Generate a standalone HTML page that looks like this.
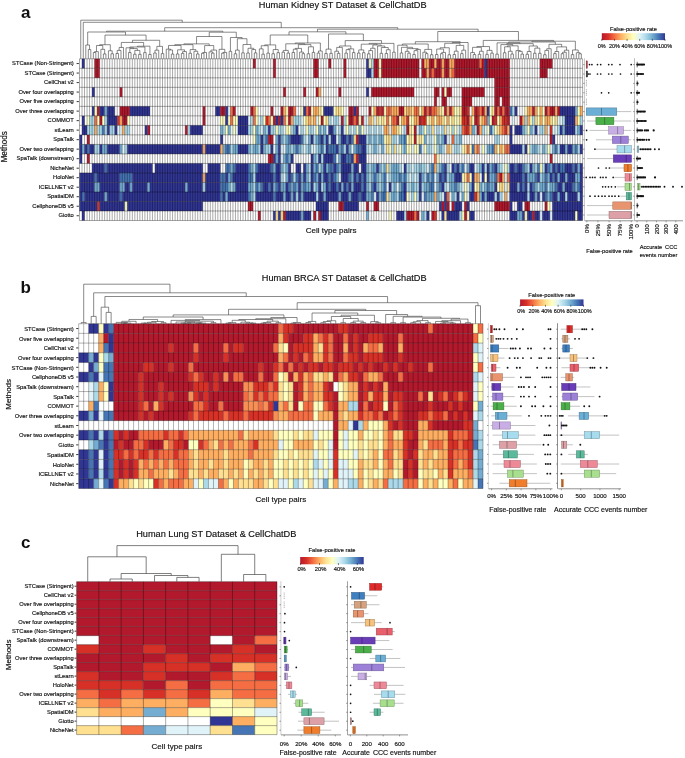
<!DOCTYPE html>
<html><head><meta charset="utf-8"><title>Figure</title>
<style>html,body{margin:0;padding:0;background:#fff;}body{width:685px;height:758px;overflow:hidden;}svg{display:block;}</style>
</head><body>
<svg width="685" height="758" viewBox="0 0 685 758" font-family="'Liberation Sans', Arial, Helvetica, sans-serif" fill="#111">
<rect width="685" height="758" fill="#fff"/>
<text x="21" y="18.2" font-size="17" text-anchor="start" font-weight="bold" >a</text>
<text x="258.8" y="8.2" font-size="9.2" text-anchor="start" font-weight="normal" stroke="#111" stroke-width="0.16" >Human Kidney ST Dataset &amp; CellChatDB</text>
<g>
<rect x="82.02" y="58.8" width="2.54" height="9.53" fill="#313695"/>
<rect x="94.59" y="58.8" width="5.05" height="9.53" fill="#b3192d"/>
<rect x="253.07" y="58.8" width="2.54" height="9.53" fill="#b3192d"/>
<rect x="273.19" y="58.8" width="2.54" height="9.53" fill="#b3192d"/>
<rect x="313.44" y="58.8" width="5.05" height="9.53" fill="#b3192d"/>
<rect x="328.53" y="58.8" width="2.54" height="9.53" fill="#b3192d"/>
<rect x="343.63" y="58.8" width="2.54" height="9.53" fill="#b3192d"/>
<rect x="366.27" y="58.8" width="2.54" height="9.53" fill="#313695"/>
<rect x="368.78" y="58.8" width="2.54" height="9.53" fill="#ffffbf"/>
<rect x="371.3" y="58.8" width="2.54" height="9.53" fill="#abd9e9"/>
<rect x="373.81" y="58.8" width="5.05" height="9.53" fill="#b3192d"/>
<rect x="378.84" y="58.8" width="2.54" height="9.53" fill="#ffffbf"/>
<rect x="381.36" y="58.8" width="37.75" height="9.53" fill="#b3192d"/>
<rect x="421.61" y="58.8" width="2.54" height="9.53" fill="#b3192d"/>
<rect x="424.12" y="58.8" width="5.05" height="9.53" fill="#fdae61"/>
<rect x="429.15" y="58.8" width="5.05" height="9.53" fill="#b3192d"/>
<rect x="434.19" y="58.8" width="2.54" height="9.53" fill="#fdae61"/>
<rect x="436.7" y="58.8" width="5.05" height="9.53" fill="#b3192d"/>
<rect x="441.73" y="58.8" width="2.54" height="9.53" fill="#fdae61"/>
<rect x="444.25" y="58.8" width="5.05" height="9.53" fill="#b3192d"/>
<rect x="449.28" y="58.8" width="5.05" height="9.53" fill="#fdae61"/>
<rect x="454.31" y="58.8" width="25.18" height="9.53" fill="#b3192d"/>
<rect x="479.46" y="58.8" width="2.54" height="9.53" fill="#f46d43"/>
<rect x="481.98" y="58.8" width="2.54" height="9.53" fill="#b3192d"/>
<rect x="484.5" y="58.8" width="2.54" height="9.53" fill="#313695"/>
<rect x="487.01" y="58.8" width="22.66" height="9.53" fill="#b3192d"/>
<rect x="539.84" y="58.8" width="12.6" height="9.53" fill="#b3192d"/>
<rect x="94.59" y="68.31" width="5.05" height="9.53" fill="#b3192d"/>
<rect x="273.19" y="68.31" width="2.54" height="9.53" fill="#b3192d"/>
<rect x="313.44" y="68.31" width="5.05" height="9.53" fill="#b3192d"/>
<rect x="343.63" y="68.31" width="2.54" height="9.53" fill="#b3192d"/>
<rect x="366.27" y="68.31" width="5.05" height="9.53" fill="#313695"/>
<rect x="371.3" y="68.31" width="2.54" height="9.53" fill="#abd9e9"/>
<rect x="373.81" y="68.31" width="5.05" height="9.53" fill="#b3192d"/>
<rect x="378.84" y="68.31" width="2.54" height="9.53" fill="#ffffbf"/>
<rect x="381.36" y="68.31" width="37.75" height="9.53" fill="#b3192d"/>
<rect x="421.61" y="68.31" width="5.05" height="9.53" fill="#b3192d"/>
<rect x="426.64" y="68.31" width="2.54" height="9.53" fill="#fdae61"/>
<rect x="429.15" y="68.31" width="2.54" height="9.53" fill="#b3192d"/>
<rect x="431.67" y="68.31" width="2.54" height="9.53" fill="#f46d43"/>
<rect x="434.19" y="68.31" width="7.57" height="9.53" fill="#b3192d"/>
<rect x="441.73" y="68.31" width="2.54" height="9.53" fill="#fdae61"/>
<rect x="444.25" y="68.31" width="5.05" height="9.53" fill="#b3192d"/>
<rect x="449.28" y="68.31" width="2.54" height="9.53" fill="#fdae61"/>
<rect x="451.79" y="68.31" width="2.54" height="9.53" fill="#f46d43"/>
<rect x="454.31" y="68.31" width="30.21" height="9.53" fill="#b3192d"/>
<rect x="484.5" y="68.31" width="2.54" height="9.53" fill="#313695"/>
<rect x="487.01" y="68.31" width="22.66" height="9.53" fill="#b3192d"/>
<rect x="539.84" y="68.31" width="7.57" height="9.53" fill="#b3192d"/>
<rect x="494.56" y="77.82" width="15.11" height="9.53" fill="#b3192d"/>
<rect x="92.08" y="87.34" width="2.54" height="9.53" fill="#313695"/>
<rect x="119.75" y="87.34" width="2.54" height="9.53" fill="#b3192d"/>
<rect x="283.26" y="87.34" width="2.54" height="9.53" fill="#b3192d"/>
<rect x="303.38" y="87.34" width="2.54" height="9.53" fill="#b3192d"/>
<rect x="315.96" y="87.34" width="2.54" height="9.53" fill="#b3192d"/>
<rect x="318.47" y="87.34" width="2.54" height="9.53" fill="#fdae61"/>
<rect x="338.6" y="87.34" width="2.54" height="9.53" fill="#b3192d"/>
<rect x="366.27" y="87.34" width="2.54" height="9.53" fill="#313695"/>
<rect x="371.3" y="87.34" width="42.78" height="9.53" fill="#b3192d"/>
<rect x="434.19" y="87.34" width="5.05" height="9.53" fill="#b3192d"/>
<rect x="441.73" y="87.34" width="2.54" height="9.53" fill="#b3192d"/>
<rect x="444.25" y="87.34" width="2.54" height="9.53" fill="#ffffbf"/>
<rect x="446.76" y="87.34" width="5.05" height="9.53" fill="#b3192d"/>
<rect x="461.86" y="87.34" width="22.66" height="9.53" fill="#b3192d"/>
<rect x="494.56" y="87.34" width="15.11" height="9.53" fill="#b3192d"/>
<rect x="434.19" y="96.85" width="2.54" height="9.53" fill="#b3192d"/>
<rect x="441.73" y="96.85" width="5.05" height="9.53" fill="#b3192d"/>
<rect x="461.86" y="96.85" width="10.08" height="9.53" fill="#b3192d"/>
<rect x="494.56" y="96.85" width="5.05" height="9.53" fill="#b3192d"/>
<rect x="502.1" y="96.85" width="7.57" height="9.53" fill="#b3192d"/>
<rect x="92.08" y="106.36" width="2.54" height="9.53" fill="#313695"/>
<rect x="94.59" y="106.36" width="2.54" height="9.53" fill="#ffffbf"/>
<rect x="97.11" y="106.36" width="2.54" height="9.53" fill="#b3192d"/>
<rect x="99.62" y="106.36" width="5.05" height="9.53" fill="#313695"/>
<rect x="104.66" y="106.36" width="2.54" height="9.53" fill="#74add1"/>
<rect x="107.17" y="106.36" width="7.57" height="9.53" fill="#313695"/>
<rect x="119.75" y="106.36" width="10.08" height="9.53" fill="#b3192d"/>
<rect x="129.81" y="106.36" width="20.14" height="9.53" fill="#313695"/>
<rect x="202.76" y="106.36" width="2.54" height="9.53" fill="#b3192d"/>
<rect x="215.34" y="106.36" width="5.05" height="9.53" fill="#313695"/>
<rect x="220.37" y="106.36" width="5.05" height="9.53" fill="#b3192d"/>
<rect x="225.4" y="106.36" width="2.54" height="9.53" fill="#313695"/>
<rect x="227.91" y="106.36" width="2.54" height="9.53" fill="#e0f3f8"/>
<rect x="230.43" y="106.36" width="2.54" height="9.53" fill="#f46d43"/>
<rect x="232.95" y="106.36" width="2.54" height="9.53" fill="#b3192d"/>
<rect x="250.55" y="106.36" width="2.54" height="9.53" fill="#b3192d"/>
<rect x="253.07" y="106.36" width="2.54" height="9.53" fill="#f46d43"/>
<rect x="255.59" y="106.36" width="2.54" height="9.53" fill="#ffffbf"/>
<rect x="270.68" y="106.36" width="2.54" height="9.53" fill="#b3192d"/>
<rect x="280.74" y="106.36" width="2.54" height="9.53" fill="#b3192d"/>
<rect x="283.26" y="106.36" width="2.54" height="9.53" fill="#fdae61"/>
<rect x="285.77" y="106.36" width="2.54" height="9.53" fill="#ffffbf"/>
<rect x="288.29" y="106.36" width="5.05" height="9.53" fill="#b3192d"/>
<rect x="293.32" y="106.36" width="2.54" height="9.53" fill="#f46d43"/>
<rect x="300.86" y="106.36" width="2.54" height="9.53" fill="#ffffbf"/>
<rect x="303.38" y="106.36" width="2.54" height="9.53" fill="#313695"/>
<rect x="305.9" y="106.36" width="2.54" height="9.53" fill="#f46d43"/>
<rect x="308.41" y="106.36" width="2.54" height="9.53" fill="#b3192d"/>
<rect x="310.93" y="106.36" width="2.54" height="9.53" fill="#ffffbf"/>
<rect x="313.44" y="106.36" width="5.05" height="9.53" fill="#fdae61"/>
<rect x="318.47" y="106.36" width="2.54" height="9.53" fill="#fee090"/>
<rect x="320.99" y="106.36" width="2.54" height="9.53" fill="#ffffbf"/>
<rect x="323.5" y="106.36" width="10.08" height="9.53" fill="#313695"/>
<rect x="333.57" y="106.36" width="2.54" height="9.53" fill="#ffffbf"/>
<rect x="336.08" y="106.36" width="5.05" height="9.53" fill="#fee090"/>
<rect x="341.11" y="106.36" width="2.54" height="9.53" fill="#ffffbf"/>
<rect x="348.66" y="106.36" width="5.05" height="9.53" fill="#b3192d"/>
<rect x="353.69" y="106.36" width="2.54" height="9.53" fill="#313695"/>
<rect x="356.21" y="106.36" width="2.54" height="9.53" fill="#b3192d"/>
<rect x="368.78" y="106.36" width="2.54" height="9.53" fill="#b3192d"/>
<rect x="371.3" y="106.36" width="2.54" height="9.53" fill="#ffffbf"/>
<rect x="373.81" y="106.36" width="2.54" height="9.53" fill="#fdae61"/>
<rect x="376.33" y="106.36" width="2.54" height="9.53" fill="#b3192d"/>
<rect x="378.84" y="106.36" width="2.54" height="9.53" fill="#d73027"/>
<rect x="381.36" y="106.36" width="2.54" height="9.53" fill="#b3192d"/>
<rect x="383.88" y="106.36" width="2.54" height="9.53" fill="#ffffbf"/>
<rect x="386.39" y="106.36" width="5.05" height="9.53" fill="#f46d43"/>
<rect x="391.42" y="106.36" width="7.57" height="9.53" fill="#fdae61"/>
<rect x="398.97" y="106.36" width="5.05" height="9.53" fill="#b3192d"/>
<rect x="404" y="106.36" width="2.54" height="9.53" fill="#fee090"/>
<rect x="406.52" y="106.36" width="5.05" height="9.53" fill="#fdae61"/>
<rect x="411.55" y="106.36" width="2.54" height="9.53" fill="#fee090"/>
<rect x="414.06" y="106.36" width="5.05" height="9.53" fill="#f46d43"/>
<rect x="419.09" y="106.36" width="2.54" height="9.53" fill="#ffffbf"/>
<rect x="421.61" y="106.36" width="2.54" height="9.53" fill="#fdae61"/>
<rect x="424.12" y="106.36" width="2.54" height="9.53" fill="#b3192d"/>
<rect x="426.64" y="106.36" width="2.54" height="9.53" fill="#f46d43"/>
<rect x="429.15" y="106.36" width="2.54" height="9.53" fill="#b3192d"/>
<rect x="431.67" y="106.36" width="5.05" height="9.53" fill="#f46d43"/>
<rect x="436.7" y="106.36" width="2.54" height="9.53" fill="#fdae61"/>
<rect x="439.22" y="106.36" width="2.54" height="9.53" fill="#fee090"/>
<rect x="441.73" y="106.36" width="2.54" height="9.53" fill="#ffffbf"/>
<rect x="444.25" y="106.36" width="2.54" height="9.53" fill="#b3192d"/>
<rect x="446.76" y="106.36" width="2.54" height="9.53" fill="#fdae61"/>
<rect x="449.28" y="106.36" width="2.54" height="9.53" fill="#b3192d"/>
<rect x="451.79" y="106.36" width="2.54" height="9.53" fill="#fdae61"/>
<rect x="454.31" y="106.36" width="5.05" height="9.53" fill="#ffffbf"/>
<rect x="459.34" y="106.36" width="2.54" height="9.53" fill="#fee090"/>
<rect x="461.86" y="106.36" width="5.05" height="9.53" fill="#b3192d"/>
<rect x="466.89" y="106.36" width="2.54" height="9.53" fill="#d73027"/>
<rect x="471.92" y="106.36" width="2.54" height="9.53" fill="#fdae61"/>
<rect x="474.43" y="106.36" width="2.54" height="9.53" fill="#b3192d"/>
<rect x="476.95" y="106.36" width="2.54" height="9.53" fill="#d73027"/>
<rect x="479.46" y="106.36" width="2.54" height="9.53" fill="#f46d43"/>
<rect x="481.98" y="106.36" width="2.54" height="9.53" fill="#b3192d"/>
<rect x="484.5" y="106.36" width="2.54" height="9.53" fill="#fdae61"/>
<rect x="487.01" y="106.36" width="2.54" height="9.53" fill="#313695"/>
<rect x="489.53" y="106.36" width="2.54" height="9.53" fill="#ffffbf"/>
<rect x="492.04" y="106.36" width="2.54" height="9.53" fill="#fee090"/>
<rect x="494.56" y="106.36" width="2.54" height="9.53" fill="#b3192d"/>
<rect x="497.07" y="106.36" width="2.54" height="9.53" fill="#f46d43"/>
<rect x="499.59" y="106.36" width="2.54" height="9.53" fill="#b3192d"/>
<rect x="502.1" y="106.36" width="2.54" height="9.53" fill="#f46d43"/>
<rect x="504.62" y="106.36" width="5.05" height="9.53" fill="#b3192d"/>
<rect x="509.65" y="106.36" width="2.54" height="9.53" fill="#4575b4"/>
<rect x="512.17" y="106.36" width="2.54" height="9.53" fill="#abd9e9"/>
<rect x="514.68" y="106.36" width="2.54" height="9.53" fill="#313695"/>
<rect x="524.74" y="106.36" width="2.54" height="9.53" fill="#ffffbf"/>
<rect x="527.26" y="106.36" width="5.05" height="9.53" fill="#fdae61"/>
<rect x="532.29" y="106.36" width="2.54" height="9.53" fill="#b3192d"/>
<rect x="534.81" y="106.36" width="2.54" height="9.53" fill="#fdae61"/>
<rect x="537.32" y="106.36" width="2.54" height="9.53" fill="#ffffbf"/>
<rect x="539.84" y="106.36" width="2.54" height="9.53" fill="#fdae61"/>
<rect x="542.35" y="106.36" width="2.54" height="9.53" fill="#ffffbf"/>
<rect x="544.87" y="106.36" width="2.54" height="9.53" fill="#b3192d"/>
<rect x="547.38" y="106.36" width="2.54" height="9.53" fill="#f46d43"/>
<rect x="549.9" y="106.36" width="5.05" height="9.53" fill="#b3192d"/>
<rect x="554.93" y="106.36" width="2.54" height="9.53" fill="#fdae61"/>
<rect x="557.45" y="106.36" width="2.54" height="9.53" fill="#b3192d"/>
<rect x="559.96" y="106.36" width="15.11" height="9.53" fill="#313695"/>
<rect x="575.05" y="106.36" width="2.54" height="9.53" fill="#74add1"/>
<rect x="577.57" y="106.36" width="2.54" height="9.53" fill="#ffffbf"/>
<rect x="580.08" y="106.36" width="2.54" height="9.53" fill="#fdae61"/>
<rect x="82.02" y="115.87" width="2.54" height="9.53" fill="#313695"/>
<rect x="87.05" y="115.87" width="2.54" height="9.53" fill="#ffffbf"/>
<rect x="89.56" y="115.87" width="5.05" height="9.53" fill="#abd9e9"/>
<rect x="94.59" y="115.87" width="2.54" height="9.53" fill="#f46d43"/>
<rect x="97.11" y="115.87" width="2.54" height="9.53" fill="#ffffbf"/>
<rect x="99.62" y="115.87" width="2.54" height="9.53" fill="#b3192d"/>
<rect x="102.14" y="115.87" width="2.54" height="9.53" fill="#ffffbf"/>
<rect x="104.66" y="115.87" width="2.54" height="9.53" fill="#abd9e9"/>
<rect x="107.17" y="115.87" width="10.08" height="9.53" fill="#313695"/>
<rect x="117.23" y="115.87" width="2.54" height="9.53" fill="#d73027"/>
<rect x="119.75" y="115.87" width="2.54" height="9.53" fill="#fdae61"/>
<rect x="122.26" y="115.87" width="5.05" height="9.53" fill="#b3192d"/>
<rect x="127.29" y="115.87" width="2.54" height="9.53" fill="#ffffbf"/>
<rect x="202.76" y="115.87" width="2.54" height="9.53" fill="#b3192d"/>
<rect x="220.37" y="115.87" width="5.05" height="9.53" fill="#ffffbf"/>
<rect x="225.4" y="115.87" width="2.54" height="9.53" fill="#313695"/>
<rect x="227.91" y="115.87" width="2.54" height="9.53" fill="#ffffbf"/>
<rect x="230.43" y="115.87" width="2.54" height="9.53" fill="#f46d43"/>
<rect x="232.95" y="115.87" width="5.05" height="9.53" fill="#ffffbf"/>
<rect x="237.98" y="115.87" width="10.08" height="9.53" fill="#313695"/>
<rect x="248.04" y="115.87" width="2.54" height="9.53" fill="#e0f3f8"/>
<rect x="250.55" y="115.87" width="2.54" height="9.53" fill="#abd9e9"/>
<rect x="253.07" y="115.87" width="2.54" height="9.53" fill="#f46d43"/>
<rect x="255.59" y="115.87" width="2.54" height="9.53" fill="#ffffbf"/>
<rect x="258.1" y="115.87" width="2.54" height="9.53" fill="#e0f3f8"/>
<rect x="260.62" y="115.87" width="2.54" height="9.53" fill="#abd9e9"/>
<rect x="263.13" y="115.87" width="2.54" height="9.53" fill="#ffffbf"/>
<rect x="265.65" y="115.87" width="2.54" height="9.53" fill="#d73027"/>
<rect x="268.16" y="115.87" width="2.54" height="9.53" fill="#f46d43"/>
<rect x="270.68" y="115.87" width="2.54" height="9.53" fill="#ffffbf"/>
<rect x="273.19" y="115.87" width="2.54" height="9.53" fill="#b3192d"/>
<rect x="275.71" y="115.87" width="2.54" height="9.53" fill="#313695"/>
<rect x="278.22" y="115.87" width="2.54" height="9.53" fill="#b3192d"/>
<rect x="280.74" y="115.87" width="2.54" height="9.53" fill="#313695"/>
<rect x="283.26" y="115.87" width="2.54" height="9.53" fill="#f46d43"/>
<rect x="285.77" y="115.87" width="2.54" height="9.53" fill="#ffffbf"/>
<rect x="288.29" y="115.87" width="2.54" height="9.53" fill="#b3192d"/>
<rect x="290.8" y="115.87" width="2.54" height="9.53" fill="#fdae61"/>
<rect x="293.32" y="115.87" width="7.57" height="9.53" fill="#abd9e9"/>
<rect x="300.86" y="115.87" width="2.54" height="9.53" fill="#e0f3f8"/>
<rect x="303.38" y="115.87" width="2.54" height="9.53" fill="#ffffbf"/>
<rect x="305.9" y="115.87" width="2.54" height="9.53" fill="#fee090"/>
<rect x="308.41" y="115.87" width="2.54" height="9.53" fill="#fdae61"/>
<rect x="310.93" y="115.87" width="2.54" height="9.53" fill="#fee090"/>
<rect x="313.44" y="115.87" width="2.54" height="9.53" fill="#fdae61"/>
<rect x="315.96" y="115.87" width="2.54" height="9.53" fill="#e0f3f8"/>
<rect x="318.47" y="115.87" width="2.54" height="9.53" fill="#ffffbf"/>
<rect x="320.99" y="115.87" width="2.54" height="9.53" fill="#b3192d"/>
<rect x="323.5" y="115.87" width="2.54" height="9.53" fill="#ffffbf"/>
<rect x="326.02" y="115.87" width="2.54" height="9.53" fill="#fee090"/>
<rect x="328.53" y="115.87" width="2.54" height="9.53" fill="#abd9e9"/>
<rect x="331.05" y="115.87" width="2.54" height="9.53" fill="#e0f3f8"/>
<rect x="333.57" y="115.87" width="5.05" height="9.53" fill="#abd9e9"/>
<rect x="338.6" y="115.87" width="2.54" height="9.53" fill="#e0f3f8"/>
<rect x="341.11" y="115.87" width="2.54" height="9.53" fill="#b3192d"/>
<rect x="343.63" y="115.87" width="2.54" height="9.53" fill="#abd9e9"/>
<rect x="346.14" y="115.87" width="2.54" height="9.53" fill="#ffffbf"/>
<rect x="348.66" y="115.87" width="5.05" height="9.53" fill="#b3192d"/>
<rect x="353.69" y="115.87" width="2.54" height="9.53" fill="#f46d43"/>
<rect x="356.21" y="115.87" width="2.54" height="9.53" fill="#b3192d"/>
<rect x="358.72" y="115.87" width="2.54" height="9.53" fill="#ffffbf"/>
<rect x="361.24" y="115.87" width="2.54" height="9.53" fill="#b3192d"/>
<rect x="363.75" y="115.87" width="5.05" height="9.53" fill="#e0f3f8"/>
<rect x="368.78" y="115.87" width="2.54" height="9.53" fill="#fdae61"/>
<rect x="371.3" y="115.87" width="2.54" height="9.53" fill="#fee090"/>
<rect x="373.81" y="115.87" width="2.54" height="9.53" fill="#e0f3f8"/>
<rect x="376.33" y="115.87" width="2.54" height="9.53" fill="#fee090"/>
<rect x="378.84" y="115.87" width="2.54" height="9.53" fill="#ffffbf"/>
<rect x="381.36" y="115.87" width="2.54" height="9.53" fill="#fee090"/>
<rect x="383.88" y="115.87" width="2.54" height="9.53" fill="#ffffbf"/>
<rect x="386.39" y="115.87" width="2.54" height="9.53" fill="#f46d43"/>
<rect x="388.91" y="115.87" width="2.54" height="9.53" fill="#ffffbf"/>
<rect x="391.42" y="115.87" width="5.05" height="9.53" fill="#f46d43"/>
<rect x="396.45" y="115.87" width="2.54" height="9.53" fill="#b3192d"/>
<rect x="398.97" y="115.87" width="2.54" height="9.53" fill="#ffffbf"/>
<rect x="401.48" y="115.87" width="5.05" height="9.53" fill="#fdae61"/>
<rect x="406.52" y="115.87" width="2.54" height="9.53" fill="#d73027"/>
<rect x="409.03" y="115.87" width="5.05" height="9.53" fill="#ffffbf"/>
<rect x="414.06" y="115.87" width="5.05" height="9.53" fill="#fdae61"/>
<rect x="419.09" y="115.87" width="2.54" height="9.53" fill="#b3192d"/>
<rect x="421.61" y="115.87" width="5.05" height="9.53" fill="#d73027"/>
<rect x="426.64" y="115.87" width="2.54" height="9.53" fill="#ffffbf"/>
<rect x="429.15" y="115.87" width="2.54" height="9.53" fill="#fee090"/>
<rect x="431.67" y="115.87" width="2.54" height="9.53" fill="#fdae61"/>
<rect x="434.19" y="115.87" width="2.54" height="9.53" fill="#ffffbf"/>
<rect x="436.7" y="115.87" width="5.05" height="9.53" fill="#fdae61"/>
<rect x="441.73" y="115.87" width="2.54" height="9.53" fill="#fee090"/>
<rect x="444.25" y="115.87" width="2.54" height="9.53" fill="#ffffbf"/>
<rect x="446.76" y="115.87" width="2.54" height="9.53" fill="#fdae61"/>
<rect x="449.28" y="115.87" width="2.54" height="9.53" fill="#ffffbf"/>
<rect x="451.79" y="115.87" width="2.54" height="9.53" fill="#fee090"/>
<rect x="454.31" y="115.87" width="5.05" height="9.53" fill="#ffffbf"/>
<rect x="459.34" y="115.87" width="2.54" height="9.53" fill="#fee090"/>
<rect x="461.86" y="115.87" width="5.05" height="9.53" fill="#d73027"/>
<rect x="466.89" y="115.87" width="2.54" height="9.53" fill="#b3192d"/>
<rect x="469.4" y="115.87" width="2.54" height="9.53" fill="#fdae61"/>
<rect x="471.92" y="115.87" width="2.54" height="9.53" fill="#ffffbf"/>
<rect x="474.43" y="115.87" width="2.54" height="9.53" fill="#b3192d"/>
<rect x="476.95" y="115.87" width="2.54" height="9.53" fill="#d73027"/>
<rect x="479.46" y="115.87" width="2.54" height="9.53" fill="#fee090"/>
<rect x="481.98" y="115.87" width="2.54" height="9.53" fill="#fdae61"/>
<rect x="484.5" y="115.87" width="2.54" height="9.53" fill="#f46d43"/>
<rect x="487.01" y="115.87" width="2.54" height="9.53" fill="#74add1"/>
<rect x="489.53" y="115.87" width="2.54" height="9.53" fill="#ffffbf"/>
<rect x="492.04" y="115.87" width="2.54" height="9.53" fill="#b3192d"/>
<rect x="494.56" y="115.87" width="2.54" height="9.53" fill="#d73027"/>
<rect x="497.07" y="115.87" width="2.54" height="9.53" fill="#ffffbf"/>
<rect x="499.59" y="115.87" width="2.54" height="9.53" fill="#fdae61"/>
<rect x="502.1" y="115.87" width="5.05" height="9.53" fill="#d73027"/>
<rect x="507.14" y="115.87" width="2.54" height="9.53" fill="#b3192d"/>
<rect x="512.17" y="115.87" width="2.54" height="9.53" fill="#e0f3f8"/>
<rect x="519.71" y="115.87" width="2.54" height="9.53" fill="#b3192d"/>
<rect x="522.23" y="115.87" width="2.54" height="9.53" fill="#fdae61"/>
<rect x="524.74" y="115.87" width="2.54" height="9.53" fill="#abd9e9"/>
<rect x="527.26" y="115.87" width="2.54" height="9.53" fill="#fdae61"/>
<rect x="529.77" y="115.87" width="2.54" height="9.53" fill="#ffffbf"/>
<rect x="532.29" y="115.87" width="2.54" height="9.53" fill="#abd9e9"/>
<rect x="534.81" y="115.87" width="2.54" height="9.53" fill="#fee090"/>
<rect x="537.32" y="115.87" width="2.54" height="9.53" fill="#ffffbf"/>
<rect x="539.84" y="115.87" width="2.54" height="9.53" fill="#fdae61"/>
<rect x="542.35" y="115.87" width="2.54" height="9.53" fill="#ffffbf"/>
<rect x="544.87" y="115.87" width="5.05" height="9.53" fill="#fdae61"/>
<rect x="549.9" y="115.87" width="2.54" height="9.53" fill="#fee090"/>
<rect x="552.41" y="115.87" width="2.54" height="9.53" fill="#ffffbf"/>
<rect x="554.93" y="115.87" width="2.54" height="9.53" fill="#fee090"/>
<rect x="557.45" y="115.87" width="5.05" height="9.53" fill="#e0f3f8"/>
<rect x="562.48" y="115.87" width="2.54" height="9.53" fill="#abd9e9"/>
<rect x="564.99" y="115.87" width="10.08" height="9.53" fill="#313695"/>
<rect x="575.05" y="115.87" width="2.54" height="9.53" fill="#fdae61"/>
<rect x="577.57" y="115.87" width="2.54" height="9.53" fill="#ffffbf"/>
<rect x="580.08" y="115.87" width="2.54" height="9.53" fill="#abd9e9"/>
<rect x="82.02" y="125.38" width="5.05" height="9.53" fill="#313695"/>
<rect x="87.05" y="125.38" width="7.57" height="9.53" fill="#abd9e9"/>
<rect x="94.59" y="125.38" width="2.54" height="9.53" fill="#fdae61"/>
<rect x="97.11" y="125.38" width="5.05" height="9.53" fill="#abd9e9"/>
<rect x="102.14" y="125.38" width="2.54" height="9.53" fill="#4575b4"/>
<rect x="104.66" y="125.38" width="2.54" height="9.53" fill="#abd9e9"/>
<rect x="107.17" y="125.38" width="2.54" height="9.53" fill="#313695"/>
<rect x="109.69" y="125.38" width="5.05" height="9.53" fill="#abd9e9"/>
<rect x="114.72" y="125.38" width="2.54" height="9.53" fill="#313695"/>
<rect x="117.23" y="125.38" width="5.05" height="9.53" fill="#e0f3f8"/>
<rect x="122.26" y="125.38" width="2.54" height="9.53" fill="#fdae61"/>
<rect x="124.78" y="125.38" width="5.05" height="9.53" fill="#abd9e9"/>
<rect x="144.9" y="125.38" width="2.54" height="9.53" fill="#313695"/>
<rect x="147.42" y="125.38" width="2.54" height="9.53" fill="#b3192d"/>
<rect x="185.15" y="125.38" width="2.54" height="9.53" fill="#b3192d"/>
<rect x="187.67" y="125.38" width="2.54" height="9.53" fill="#abd9e9"/>
<rect x="190.18" y="125.38" width="12.6" height="9.53" fill="#313695"/>
<rect x="220.37" y="125.38" width="2.54" height="9.53" fill="#74add1"/>
<rect x="222.88" y="125.38" width="2.54" height="9.53" fill="#abd9e9"/>
<rect x="225.4" y="125.38" width="2.54" height="9.53" fill="#ffffbf"/>
<rect x="227.91" y="125.38" width="2.54" height="9.53" fill="#74add1"/>
<rect x="230.43" y="125.38" width="2.54" height="9.53" fill="#e0f3f8"/>
<rect x="232.95" y="125.38" width="2.54" height="9.53" fill="#ffffbf"/>
<rect x="235.46" y="125.38" width="2.54" height="9.53" fill="#e0f3f8"/>
<rect x="237.98" y="125.38" width="10.08" height="9.53" fill="#313695"/>
<rect x="248.04" y="125.38" width="5.05" height="9.53" fill="#abd9e9"/>
<rect x="253.07" y="125.38" width="2.54" height="9.53" fill="#ffffbf"/>
<rect x="255.59" y="125.38" width="2.54" height="9.53" fill="#74add1"/>
<rect x="258.1" y="125.38" width="2.54" height="9.53" fill="#abd9e9"/>
<rect x="260.62" y="125.38" width="2.54" height="9.53" fill="#e0f3f8"/>
<rect x="263.13" y="125.38" width="2.54" height="9.53" fill="#74add1"/>
<rect x="265.65" y="125.38" width="2.54" height="9.53" fill="#abd9e9"/>
<rect x="268.16" y="125.38" width="2.54" height="9.53" fill="#313695"/>
<rect x="270.68" y="125.38" width="5.05" height="9.53" fill="#abd9e9"/>
<rect x="275.71" y="125.38" width="2.54" height="9.53" fill="#ffffbf"/>
<rect x="278.22" y="125.38" width="5.05" height="9.53" fill="#abd9e9"/>
<rect x="283.26" y="125.38" width="2.54" height="9.53" fill="#e0f3f8"/>
<rect x="285.77" y="125.38" width="5.05" height="9.53" fill="#ffffbf"/>
<rect x="290.8" y="125.38" width="2.54" height="9.53" fill="#abd9e9"/>
<rect x="293.32" y="125.38" width="2.54" height="9.53" fill="#74add1"/>
<rect x="295.83" y="125.38" width="2.54" height="9.53" fill="#313695"/>
<rect x="298.35" y="125.38" width="2.54" height="9.53" fill="#e0f3f8"/>
<rect x="300.86" y="125.38" width="2.54" height="9.53" fill="#abd9e9"/>
<rect x="303.38" y="125.38" width="2.54" height="9.53" fill="#e0f3f8"/>
<rect x="305.9" y="125.38" width="2.54" height="9.53" fill="#ffffbf"/>
<rect x="308.41" y="125.38" width="5.05" height="9.53" fill="#abd9e9"/>
<rect x="313.44" y="125.38" width="2.54" height="9.53" fill="#e0f3f8"/>
<rect x="315.96" y="125.38" width="2.54" height="9.53" fill="#ffffbf"/>
<rect x="318.47" y="125.38" width="2.54" height="9.53" fill="#74add1"/>
<rect x="320.99" y="125.38" width="2.54" height="9.53" fill="#abd9e9"/>
<rect x="323.5" y="125.38" width="2.54" height="9.53" fill="#74add1"/>
<rect x="326.02" y="125.38" width="2.54" height="9.53" fill="#e0f3f8"/>
<rect x="328.53" y="125.38" width="5.05" height="9.53" fill="#313695"/>
<rect x="333.57" y="125.38" width="2.54" height="9.53" fill="#74add1"/>
<rect x="336.08" y="125.38" width="2.54" height="9.53" fill="#e0f3f8"/>
<rect x="338.6" y="125.38" width="2.54" height="9.53" fill="#abd9e9"/>
<rect x="341.11" y="125.38" width="2.54" height="9.53" fill="#313695"/>
<rect x="343.63" y="125.38" width="2.54" height="9.53" fill="#e0f3f8"/>
<rect x="346.14" y="125.38" width="2.54" height="9.53" fill="#ffffbf"/>
<rect x="348.66" y="125.38" width="2.54" height="9.53" fill="#abd9e9"/>
<rect x="351.17" y="125.38" width="2.54" height="9.53" fill="#e0f3f8"/>
<rect x="353.69" y="125.38" width="2.54" height="9.53" fill="#abd9e9"/>
<rect x="356.21" y="125.38" width="2.54" height="9.53" fill="#ffffbf"/>
<rect x="358.72" y="125.38" width="2.54" height="9.53" fill="#74add1"/>
<rect x="361.24" y="125.38" width="2.54" height="9.53" fill="#ffffbf"/>
<rect x="363.75" y="125.38" width="5.05" height="9.53" fill="#e0f3f8"/>
<rect x="368.78" y="125.38" width="2.54" height="9.53" fill="#abd9e9"/>
<rect x="371.3" y="125.38" width="2.54" height="9.53" fill="#e0f3f8"/>
<rect x="373.81" y="125.38" width="2.54" height="9.53" fill="#abd9e9"/>
<rect x="376.33" y="125.38" width="2.54" height="9.53" fill="#e0f3f8"/>
<rect x="378.84" y="125.38" width="2.54" height="9.53" fill="#abd9e9"/>
<rect x="381.36" y="125.38" width="2.54" height="9.53" fill="#e0f3f8"/>
<rect x="383.88" y="125.38" width="5.05" height="9.53" fill="#fdae61"/>
<rect x="388.91" y="125.38" width="2.54" height="9.53" fill="#e0f3f8"/>
<rect x="391.42" y="125.38" width="5.05" height="9.53" fill="#fdae61"/>
<rect x="396.45" y="125.38" width="2.54" height="9.53" fill="#fee090"/>
<rect x="398.97" y="125.38" width="2.54" height="9.53" fill="#ffffbf"/>
<rect x="401.48" y="125.38" width="2.54" height="9.53" fill="#e0f3f8"/>
<rect x="404" y="125.38" width="2.54" height="9.53" fill="#abd9e9"/>
<rect x="406.52" y="125.38" width="2.54" height="9.53" fill="#b3192d"/>
<rect x="409.03" y="125.38" width="2.54" height="9.53" fill="#fee090"/>
<rect x="411.55" y="125.38" width="2.54" height="9.53" fill="#ffffbf"/>
<rect x="414.06" y="125.38" width="2.54" height="9.53" fill="#b3192d"/>
<rect x="416.58" y="125.38" width="2.54" height="9.53" fill="#e0f3f8"/>
<rect x="419.09" y="125.38" width="2.54" height="9.53" fill="#74add1"/>
<rect x="421.61" y="125.38" width="2.54" height="9.53" fill="#abd9e9"/>
<rect x="424.12" y="125.38" width="2.54" height="9.53" fill="#ffffbf"/>
<rect x="426.64" y="125.38" width="5.05" height="9.53" fill="#abd9e9"/>
<rect x="431.67" y="125.38" width="2.54" height="9.53" fill="#fee090"/>
<rect x="434.19" y="125.38" width="2.54" height="9.53" fill="#e0f3f8"/>
<rect x="436.7" y="125.38" width="2.54" height="9.53" fill="#abd9e9"/>
<rect x="439.22" y="125.38" width="2.54" height="9.53" fill="#e0f3f8"/>
<rect x="441.73" y="125.38" width="2.54" height="9.53" fill="#abd9e9"/>
<rect x="444.25" y="125.38" width="2.54" height="9.53" fill="#fee090"/>
<rect x="446.76" y="125.38" width="2.54" height="9.53" fill="#e0f3f8"/>
<rect x="449.28" y="125.38" width="2.54" height="9.53" fill="#ffffbf"/>
<rect x="451.79" y="125.38" width="2.54" height="9.53" fill="#abd9e9"/>
<rect x="454.31" y="125.38" width="2.54" height="9.53" fill="#ffffbf"/>
<rect x="456.83" y="125.38" width="2.54" height="9.53" fill="#e0f3f8"/>
<rect x="459.34" y="125.38" width="2.54" height="9.53" fill="#abd9e9"/>
<rect x="461.86" y="125.38" width="2.54" height="9.53" fill="#f46d43"/>
<rect x="464.37" y="125.38" width="5.05" height="9.53" fill="#d73027"/>
<rect x="469.4" y="125.38" width="2.54" height="9.53" fill="#fdae61"/>
<rect x="471.92" y="125.38" width="2.54" height="9.53" fill="#74add1"/>
<rect x="474.43" y="125.38" width="2.54" height="9.53" fill="#abd9e9"/>
<rect x="476.95" y="125.38" width="2.54" height="9.53" fill="#b3192d"/>
<rect x="479.46" y="125.38" width="2.54" height="9.53" fill="#fdae61"/>
<rect x="481.98" y="125.38" width="2.54" height="9.53" fill="#abd9e9"/>
<rect x="484.5" y="125.38" width="2.54" height="9.53" fill="#e0f3f8"/>
<rect x="487.01" y="125.38" width="2.54" height="9.53" fill="#ffffbf"/>
<rect x="489.53" y="125.38" width="2.54" height="9.53" fill="#4575b4"/>
<rect x="492.04" y="125.38" width="2.54" height="9.53" fill="#abd9e9"/>
<rect x="494.56" y="125.38" width="2.54" height="9.53" fill="#ffffbf"/>
<rect x="497.07" y="125.38" width="2.54" height="9.53" fill="#fee090"/>
<rect x="499.59" y="125.38" width="2.54" height="9.53" fill="#fdae61"/>
<rect x="502.1" y="125.38" width="2.54" height="9.53" fill="#f46d43"/>
<rect x="504.62" y="125.38" width="2.54" height="9.53" fill="#d73027"/>
<rect x="507.14" y="125.38" width="2.54" height="9.53" fill="#fdae61"/>
<rect x="509.65" y="125.38" width="2.54" height="9.53" fill="#313695"/>
<rect x="514.68" y="125.38" width="7.57" height="9.53" fill="#313695"/>
<rect x="522.23" y="125.38" width="2.54" height="9.53" fill="#74add1"/>
<rect x="524.74" y="125.38" width="2.54" height="9.53" fill="#abd9e9"/>
<rect x="527.26" y="125.38" width="2.54" height="9.53" fill="#ffffbf"/>
<rect x="529.77" y="125.38" width="2.54" height="9.53" fill="#74add1"/>
<rect x="532.29" y="125.38" width="2.54" height="9.53" fill="#abd9e9"/>
<rect x="534.81" y="125.38" width="2.54" height="9.53" fill="#313695"/>
<rect x="537.32" y="125.38" width="2.54" height="9.53" fill="#e0f3f8"/>
<rect x="539.84" y="125.38" width="5.05" height="9.53" fill="#abd9e9"/>
<rect x="544.87" y="125.38" width="2.54" height="9.53" fill="#fdae61"/>
<rect x="547.38" y="125.38" width="2.54" height="9.53" fill="#e0f3f8"/>
<rect x="549.9" y="125.38" width="2.54" height="9.53" fill="#d73027"/>
<rect x="552.41" y="125.38" width="5.05" height="9.53" fill="#e0f3f8"/>
<rect x="557.45" y="125.38" width="2.54" height="9.53" fill="#abd9e9"/>
<rect x="559.96" y="125.38" width="2.54" height="9.53" fill="#313695"/>
<rect x="562.48" y="125.38" width="2.54" height="9.53" fill="#74add1"/>
<rect x="564.99" y="125.38" width="10.08" height="9.53" fill="#313695"/>
<rect x="575.05" y="125.38" width="2.54" height="9.53" fill="#abd9e9"/>
<rect x="577.57" y="125.38" width="2.54" height="9.53" fill="#74add1"/>
<rect x="580.08" y="125.38" width="2.54" height="9.53" fill="#313695"/>
<rect x="79.5" y="134.89" width="2.54" height="9.53" fill="#313695"/>
<rect x="87.05" y="134.89" width="2.54" height="9.53" fill="#b3192d"/>
<rect x="220.37" y="134.89" width="2.54" height="9.53" fill="#313695"/>
<rect x="253.07" y="134.89" width="2.54" height="9.53" fill="#ffffbf"/>
<rect x="255.59" y="134.89" width="5.05" height="9.53" fill="#74add1"/>
<rect x="260.62" y="134.89" width="2.54" height="9.53" fill="#313695"/>
<rect x="263.13" y="134.89" width="2.54" height="9.53" fill="#74add1"/>
<rect x="265.65" y="134.89" width="2.54" height="9.53" fill="#4575b4"/>
<rect x="268.16" y="134.89" width="5.05" height="9.53" fill="#b3192d"/>
<rect x="275.71" y="134.89" width="2.54" height="9.53" fill="#74add1"/>
<rect x="278.22" y="134.89" width="2.54" height="9.53" fill="#313695"/>
<rect x="280.74" y="134.89" width="2.54" height="9.53" fill="#74add1"/>
<rect x="283.26" y="134.89" width="2.54" height="9.53" fill="#abd9e9"/>
<rect x="285.77" y="134.89" width="2.54" height="9.53" fill="#74add1"/>
<rect x="288.29" y="134.89" width="2.54" height="9.53" fill="#4575b4"/>
<rect x="290.8" y="134.89" width="10.08" height="9.53" fill="#313695"/>
<rect x="300.86" y="134.89" width="2.54" height="9.53" fill="#4575b4"/>
<rect x="303.38" y="134.89" width="2.54" height="9.53" fill="#abd9e9"/>
<rect x="305.9" y="134.89" width="2.54" height="9.53" fill="#e0f3f8"/>
<rect x="308.41" y="134.89" width="2.54" height="9.53" fill="#74add1"/>
<rect x="310.93" y="134.89" width="2.54" height="9.53" fill="#313695"/>
<rect x="313.44" y="134.89" width="2.54" height="9.53" fill="#abd9e9"/>
<rect x="315.96" y="134.89" width="2.54" height="9.53" fill="#74add1"/>
<rect x="318.47" y="134.89" width="2.54" height="9.53" fill="#4575b4"/>
<rect x="320.99" y="134.89" width="2.54" height="9.53" fill="#313695"/>
<rect x="323.5" y="134.89" width="2.54" height="9.53" fill="#74add1"/>
<rect x="326.02" y="134.89" width="2.54" height="9.53" fill="#313695"/>
<rect x="328.53" y="134.89" width="2.54" height="9.53" fill="#abd9e9"/>
<rect x="331.05" y="134.89" width="5.05" height="9.53" fill="#313695"/>
<rect x="336.08" y="134.89" width="2.54" height="9.53" fill="#e0f3f8"/>
<rect x="338.6" y="134.89" width="2.54" height="9.53" fill="#74add1"/>
<rect x="341.11" y="134.89" width="5.05" height="9.53" fill="#313695"/>
<rect x="346.14" y="134.89" width="2.54" height="9.53" fill="#4575b4"/>
<rect x="348.66" y="134.89" width="2.54" height="9.53" fill="#313695"/>
<rect x="351.17" y="134.89" width="2.54" height="9.53" fill="#4575b4"/>
<rect x="353.69" y="134.89" width="2.54" height="9.53" fill="#fee090"/>
<rect x="356.21" y="134.89" width="2.54" height="9.53" fill="#b3192d"/>
<rect x="358.72" y="134.89" width="7.57" height="9.53" fill="#313695"/>
<rect x="366.27" y="134.89" width="2.54" height="9.53" fill="#abd9e9"/>
<rect x="368.78" y="134.89" width="2.54" height="9.53" fill="#74add1"/>
<rect x="371.3" y="134.89" width="2.54" height="9.53" fill="#abd9e9"/>
<rect x="373.81" y="134.89" width="2.54" height="9.53" fill="#74add1"/>
<rect x="376.33" y="134.89" width="2.54" height="9.53" fill="#abd9e9"/>
<rect x="378.84" y="134.89" width="5.05" height="9.53" fill="#74add1"/>
<rect x="383.88" y="134.89" width="2.54" height="9.53" fill="#ffffbf"/>
<rect x="386.39" y="134.89" width="5.05" height="9.53" fill="#fee090"/>
<rect x="391.42" y="134.89" width="5.05" height="9.53" fill="#abd9e9"/>
<rect x="396.45" y="134.89" width="2.54" height="9.53" fill="#e0f3f8"/>
<rect x="398.97" y="134.89" width="5.05" height="9.53" fill="#74add1"/>
<rect x="404" y="134.89" width="2.54" height="9.53" fill="#4575b4"/>
<rect x="406.52" y="134.89" width="2.54" height="9.53" fill="#ffffbf"/>
<rect x="409.03" y="134.89" width="2.54" height="9.53" fill="#fee090"/>
<rect x="411.55" y="134.89" width="2.54" height="9.53" fill="#ffffbf"/>
<rect x="414.06" y="134.89" width="2.54" height="9.53" fill="#b3192d"/>
<rect x="416.58" y="134.89" width="2.54" height="9.53" fill="#ffffbf"/>
<rect x="419.09" y="134.89" width="2.54" height="9.53" fill="#fee090"/>
<rect x="421.61" y="134.89" width="2.54" height="9.53" fill="#ffffbf"/>
<rect x="424.12" y="134.89" width="2.54" height="9.53" fill="#74add1"/>
<rect x="426.64" y="134.89" width="2.54" height="9.53" fill="#e0f3f8"/>
<rect x="429.15" y="134.89" width="2.54" height="9.53" fill="#abd9e9"/>
<rect x="431.67" y="134.89" width="2.54" height="9.53" fill="#e0f3f8"/>
<rect x="434.19" y="134.89" width="2.54" height="9.53" fill="#ffffbf"/>
<rect x="436.7" y="134.89" width="2.54" height="9.53" fill="#74add1"/>
<rect x="439.22" y="134.89" width="2.54" height="9.53" fill="#abd9e9"/>
<rect x="441.73" y="134.89" width="2.54" height="9.53" fill="#74add1"/>
<rect x="444.25" y="134.89" width="2.54" height="9.53" fill="#313695"/>
<rect x="446.76" y="134.89" width="5.05" height="9.53" fill="#e0f3f8"/>
<rect x="451.79" y="134.89" width="2.54" height="9.53" fill="#f46d43"/>
<rect x="454.31" y="134.89" width="5.05" height="9.53" fill="#abd9e9"/>
<rect x="459.34" y="134.89" width="2.54" height="9.53" fill="#74add1"/>
<rect x="494.56" y="134.89" width="5.05" height="9.53" fill="#abd9e9"/>
<rect x="509.65" y="134.89" width="2.54" height="9.53" fill="#313695"/>
<rect x="549.9" y="134.89" width="2.54" height="9.53" fill="#b3192d"/>
<rect x="552.41" y="134.89" width="2.54" height="9.53" fill="#313695"/>
<rect x="79.5" y="144.41" width="2.54" height="9.53" fill="#313695"/>
<rect x="82.02" y="144.41" width="2.54" height="9.53" fill="#74add1"/>
<rect x="84.53" y="144.41" width="2.54" height="9.53" fill="#313695"/>
<rect x="87.05" y="144.41" width="2.54" height="9.53" fill="#4575b4"/>
<rect x="89.56" y="144.41" width="5.05" height="9.53" fill="#313695"/>
<rect x="94.59" y="144.41" width="5.05" height="9.53" fill="#abd9e9"/>
<rect x="99.62" y="144.41" width="2.54" height="9.53" fill="#313695"/>
<rect x="102.14" y="144.41" width="5.05" height="9.53" fill="#74add1"/>
<rect x="107.17" y="144.41" width="12.6" height="9.53" fill="#313695"/>
<rect x="119.75" y="144.41" width="2.54" height="9.53" fill="#74add1"/>
<rect x="122.26" y="144.41" width="2.54" height="9.53" fill="#e0f3f8"/>
<rect x="124.78" y="144.41" width="2.54" height="9.53" fill="#abd9e9"/>
<rect x="127.29" y="144.41" width="75.48" height="9.53" fill="#313695"/>
<rect x="202.76" y="144.41" width="2.54" height="9.53" fill="#fdae61"/>
<rect x="205.28" y="144.41" width="15.11" height="9.53" fill="#313695"/>
<rect x="220.37" y="144.41" width="2.54" height="9.53" fill="#fdae61"/>
<rect x="222.88" y="144.41" width="2.54" height="9.53" fill="#74add1"/>
<rect x="225.4" y="144.41" width="5.05" height="9.53" fill="#4575b4"/>
<rect x="230.43" y="144.41" width="2.54" height="9.53" fill="#abd9e9"/>
<rect x="232.95" y="144.41" width="5.05" height="9.53" fill="#74add1"/>
<rect x="237.98" y="144.41" width="10.08" height="9.53" fill="#313695"/>
<rect x="248.04" y="144.41" width="2.54" height="9.53" fill="#74add1"/>
<rect x="250.55" y="144.41" width="2.54" height="9.53" fill="#abd9e9"/>
<rect x="253.07" y="144.41" width="5.05" height="9.53" fill="#74add1"/>
<rect x="258.1" y="144.41" width="2.54" height="9.53" fill="#abd9e9"/>
<rect x="260.62" y="144.41" width="2.54" height="9.53" fill="#313695"/>
<rect x="263.13" y="144.41" width="2.54" height="9.53" fill="#74add1"/>
<rect x="265.65" y="144.41" width="5.05" height="9.53" fill="#abd9e9"/>
<rect x="270.68" y="144.41" width="2.54" height="9.53" fill="#313695"/>
<rect x="273.19" y="144.41" width="2.54" height="9.53" fill="#e0f3f8"/>
<rect x="275.71" y="144.41" width="2.54" height="9.53" fill="#74add1"/>
<rect x="278.22" y="144.41" width="2.54" height="9.53" fill="#313695"/>
<rect x="280.74" y="144.41" width="5.05" height="9.53" fill="#e0f3f8"/>
<rect x="285.77" y="144.41" width="5.05" height="9.53" fill="#74add1"/>
<rect x="290.8" y="144.41" width="2.54" height="9.53" fill="#abd9e9"/>
<rect x="293.32" y="144.41" width="2.54" height="9.53" fill="#74add1"/>
<rect x="295.83" y="144.41" width="2.54" height="9.53" fill="#4575b4"/>
<rect x="298.35" y="144.41" width="2.54" height="9.53" fill="#74add1"/>
<rect x="300.86" y="144.41" width="2.54" height="9.53" fill="#abd9e9"/>
<rect x="303.38" y="144.41" width="2.54" height="9.53" fill="#e0f3f8"/>
<rect x="305.9" y="144.41" width="2.54" height="9.53" fill="#abd9e9"/>
<rect x="308.41" y="144.41" width="2.54" height="9.53" fill="#74add1"/>
<rect x="310.93" y="144.41" width="5.05" height="9.53" fill="#e0f3f8"/>
<rect x="315.96" y="144.41" width="2.54" height="9.53" fill="#abd9e9"/>
<rect x="318.47" y="144.41" width="2.54" height="9.53" fill="#74add1"/>
<rect x="320.99" y="144.41" width="2.54" height="9.53" fill="#4575b4"/>
<rect x="323.5" y="144.41" width="2.54" height="9.53" fill="#abd9e9"/>
<rect x="326.02" y="144.41" width="2.54" height="9.53" fill="#313695"/>
<rect x="328.53" y="144.41" width="7.57" height="9.53" fill="#4575b4"/>
<rect x="336.08" y="144.41" width="2.54" height="9.53" fill="#313695"/>
<rect x="338.6" y="144.41" width="2.54" height="9.53" fill="#74add1"/>
<rect x="341.11" y="144.41" width="2.54" height="9.53" fill="#4575b4"/>
<rect x="343.63" y="144.41" width="2.54" height="9.53" fill="#abd9e9"/>
<rect x="346.14" y="144.41" width="2.54" height="9.53" fill="#313695"/>
<rect x="348.66" y="144.41" width="2.54" height="9.53" fill="#74add1"/>
<rect x="351.17" y="144.41" width="2.54" height="9.53" fill="#e0f3f8"/>
<rect x="353.69" y="144.41" width="2.54" height="9.53" fill="#74add1"/>
<rect x="356.21" y="144.41" width="5.05" height="9.53" fill="#4575b4"/>
<rect x="361.24" y="144.41" width="5.05" height="9.53" fill="#313695"/>
<rect x="366.27" y="144.41" width="2.54" height="9.53" fill="#abd9e9"/>
<rect x="368.78" y="144.41" width="2.54" height="9.53" fill="#e0f3f8"/>
<rect x="371.3" y="144.41" width="2.54" height="9.53" fill="#abd9e9"/>
<rect x="373.81" y="144.41" width="2.54" height="9.53" fill="#74add1"/>
<rect x="376.33" y="144.41" width="2.54" height="9.53" fill="#abd9e9"/>
<rect x="378.84" y="144.41" width="2.54" height="9.53" fill="#e0f3f8"/>
<rect x="381.36" y="144.41" width="2.54" height="9.53" fill="#74add1"/>
<rect x="383.88" y="144.41" width="2.54" height="9.53" fill="#e0f3f8"/>
<rect x="386.39" y="144.41" width="2.54" height="9.53" fill="#fee090"/>
<rect x="388.91" y="144.41" width="2.54" height="9.53" fill="#ffffbf"/>
<rect x="391.42" y="144.41" width="2.54" height="9.53" fill="#abd9e9"/>
<rect x="393.94" y="144.41" width="2.54" height="9.53" fill="#fee090"/>
<rect x="396.45" y="144.41" width="2.54" height="9.53" fill="#e0f3f8"/>
<rect x="398.97" y="144.41" width="2.54" height="9.53" fill="#ffffbf"/>
<rect x="401.48" y="144.41" width="2.54" height="9.53" fill="#abd9e9"/>
<rect x="404" y="144.41" width="2.54" height="9.53" fill="#74add1"/>
<rect x="406.52" y="144.41" width="5.05" height="9.53" fill="#ffffbf"/>
<rect x="411.55" y="144.41" width="2.54" height="9.53" fill="#e0f3f8"/>
<rect x="414.06" y="144.41" width="5.05" height="9.53" fill="#ffffbf"/>
<rect x="419.09" y="144.41" width="2.54" height="9.53" fill="#4575b4"/>
<rect x="421.61" y="144.41" width="2.54" height="9.53" fill="#e0f3f8"/>
<rect x="424.12" y="144.41" width="2.54" height="9.53" fill="#ffffbf"/>
<rect x="426.64" y="144.41" width="5.05" height="9.53" fill="#abd9e9"/>
<rect x="431.67" y="144.41" width="2.54" height="9.53" fill="#e0f3f8"/>
<rect x="434.19" y="144.41" width="2.54" height="9.53" fill="#ffffbf"/>
<rect x="436.7" y="144.41" width="2.54" height="9.53" fill="#abd9e9"/>
<rect x="439.22" y="144.41" width="2.54" height="9.53" fill="#74add1"/>
<rect x="441.73" y="144.41" width="2.54" height="9.53" fill="#abd9e9"/>
<rect x="444.25" y="144.41" width="2.54" height="9.53" fill="#e0f3f8"/>
<rect x="446.76" y="144.41" width="2.54" height="9.53" fill="#fdae61"/>
<rect x="449.28" y="144.41" width="2.54" height="9.53" fill="#fee090"/>
<rect x="451.79" y="144.41" width="2.54" height="9.53" fill="#e0f3f8"/>
<rect x="454.31" y="144.41" width="5.05" height="9.53" fill="#abd9e9"/>
<rect x="459.34" y="144.41" width="2.54" height="9.53" fill="#e0f3f8"/>
<rect x="461.86" y="144.41" width="2.54" height="9.53" fill="#ffffbf"/>
<rect x="464.37" y="144.41" width="2.54" height="9.53" fill="#fee090"/>
<rect x="466.89" y="144.41" width="2.54" height="9.53" fill="#f46d43"/>
<rect x="469.4" y="144.41" width="2.54" height="9.53" fill="#ffffbf"/>
<rect x="471.92" y="144.41" width="2.54" height="9.53" fill="#4575b4"/>
<rect x="474.43" y="144.41" width="2.54" height="9.53" fill="#fdae61"/>
<rect x="476.95" y="144.41" width="2.54" height="9.53" fill="#f46d43"/>
<rect x="479.46" y="144.41" width="2.54" height="9.53" fill="#e0f3f8"/>
<rect x="481.98" y="144.41" width="2.54" height="9.53" fill="#ffffbf"/>
<rect x="484.5" y="144.41" width="2.54" height="9.53" fill="#e0f3f8"/>
<rect x="487.01" y="144.41" width="5.05" height="9.53" fill="#74add1"/>
<rect x="492.04" y="144.41" width="2.54" height="9.53" fill="#4575b4"/>
<rect x="494.56" y="144.41" width="2.54" height="9.53" fill="#fdae61"/>
<rect x="497.07" y="144.41" width="2.54" height="9.53" fill="#ffffbf"/>
<rect x="499.59" y="144.41" width="2.54" height="9.53" fill="#fdae61"/>
<rect x="502.1" y="144.41" width="2.54" height="9.53" fill="#fee090"/>
<rect x="504.62" y="144.41" width="5.05" height="9.53" fill="#f46d43"/>
<rect x="509.65" y="144.41" width="12.6" height="9.53" fill="#313695"/>
<rect x="522.23" y="144.41" width="2.54" height="9.53" fill="#abd9e9"/>
<rect x="524.74" y="144.41" width="2.54" height="9.53" fill="#313695"/>
<rect x="527.26" y="144.41" width="2.54" height="9.53" fill="#ffffbf"/>
<rect x="529.77" y="144.41" width="2.54" height="9.53" fill="#abd9e9"/>
<rect x="532.29" y="144.41" width="5.05" height="9.53" fill="#74add1"/>
<rect x="537.32" y="144.41" width="2.54" height="9.53" fill="#abd9e9"/>
<rect x="539.84" y="144.41" width="2.54" height="9.53" fill="#e0f3f8"/>
<rect x="542.35" y="144.41" width="2.54" height="9.53" fill="#74add1"/>
<rect x="544.87" y="144.41" width="2.54" height="9.53" fill="#abd9e9"/>
<rect x="547.38" y="144.41" width="2.54" height="9.53" fill="#ffffbf"/>
<rect x="549.9" y="144.41" width="2.54" height="9.53" fill="#e0f3f8"/>
<rect x="552.41" y="144.41" width="2.54" height="9.53" fill="#74add1"/>
<rect x="554.93" y="144.41" width="2.54" height="9.53" fill="#4575b4"/>
<rect x="557.45" y="144.41" width="2.54" height="9.53" fill="#abd9e9"/>
<rect x="559.96" y="144.41" width="5.05" height="9.53" fill="#313695"/>
<rect x="564.99" y="144.41" width="2.54" height="9.53" fill="#74add1"/>
<rect x="567.51" y="144.41" width="5.05" height="9.53" fill="#313695"/>
<rect x="572.54" y="144.41" width="2.54" height="9.53" fill="#74add1"/>
<rect x="575.05" y="144.41" width="2.54" height="9.53" fill="#4575b4"/>
<rect x="577.57" y="144.41" width="2.54" height="9.53" fill="#abd9e9"/>
<rect x="580.08" y="144.41" width="2.54" height="9.53" fill="#313695"/>
<rect x="79.5" y="153.92" width="2.54" height="9.53" fill="#313695"/>
<rect x="87.05" y="153.92" width="2.54" height="9.53" fill="#b3192d"/>
<rect x="268.16" y="153.92" width="5.05" height="9.53" fill="#b3192d"/>
<rect x="273.19" y="153.92" width="2.54" height="9.53" fill="#313695"/>
<rect x="275.71" y="153.92" width="2.54" height="9.53" fill="#74add1"/>
<rect x="278.22" y="153.92" width="2.54" height="9.53" fill="#313695"/>
<rect x="280.74" y="153.92" width="2.54" height="9.53" fill="#e0f3f8"/>
<rect x="283.26" y="153.92" width="2.54" height="9.53" fill="#74add1"/>
<rect x="285.77" y="153.92" width="2.54" height="9.53" fill="#4575b4"/>
<rect x="288.29" y="153.92" width="2.54" height="9.53" fill="#74add1"/>
<rect x="290.8" y="153.92" width="2.54" height="9.53" fill="#313695"/>
<rect x="310.93" y="153.92" width="2.54" height="9.53" fill="#313695"/>
<rect x="313.44" y="153.92" width="2.54" height="9.53" fill="#74add1"/>
<rect x="315.96" y="153.92" width="2.54" height="9.53" fill="#abd9e9"/>
<rect x="318.47" y="153.92" width="2.54" height="9.53" fill="#313695"/>
<rect x="320.99" y="153.92" width="2.54" height="9.53" fill="#abd9e9"/>
<rect x="323.5" y="153.92" width="10.08" height="9.53" fill="#313695"/>
<rect x="333.57" y="153.92" width="2.54" height="9.53" fill="#4575b4"/>
<rect x="336.08" y="153.92" width="2.54" height="9.53" fill="#e0f3f8"/>
<rect x="338.6" y="153.92" width="2.54" height="9.53" fill="#74add1"/>
<rect x="341.11" y="153.92" width="5.05" height="9.53" fill="#313695"/>
<rect x="346.14" y="153.92" width="5.05" height="9.53" fill="#4575b4"/>
<rect x="351.17" y="153.92" width="2.54" height="9.53" fill="#313695"/>
<rect x="353.69" y="153.92" width="2.54" height="9.53" fill="#fdae61"/>
<rect x="356.21" y="153.92" width="2.54" height="9.53" fill="#b3192d"/>
<rect x="358.72" y="153.92" width="7.57" height="9.53" fill="#313695"/>
<rect x="434.19" y="153.92" width="2.54" height="9.53" fill="#f46d43"/>
<rect x="436.7" y="153.92" width="2.54" height="9.53" fill="#ffffbf"/>
<rect x="549.9" y="153.92" width="2.54" height="9.53" fill="#b3192d"/>
<rect x="92.08" y="163.43" width="12.6" height="9.53" fill="#313695"/>
<rect x="104.66" y="163.43" width="2.54" height="9.53" fill="#4575b4"/>
<rect x="107.17" y="163.43" width="45.3" height="9.53" fill="#313695"/>
<rect x="154.97" y="163.43" width="47.81" height="9.53" fill="#313695"/>
<rect x="207.79" y="163.43" width="12.6" height="9.53" fill="#313695"/>
<rect x="225.4" y="163.43" width="5.05" height="9.53" fill="#4575b4"/>
<rect x="230.43" y="163.43" width="2.54" height="9.53" fill="#74add1"/>
<rect x="232.95" y="163.43" width="2.54" height="9.53" fill="#4575b4"/>
<rect x="235.46" y="163.43" width="12.6" height="9.53" fill="#313695"/>
<rect x="248.04" y="163.43" width="2.54" height="9.53" fill="#4575b4"/>
<rect x="250.55" y="163.43" width="2.54" height="9.53" fill="#74add1"/>
<rect x="253.07" y="163.43" width="2.54" height="9.53" fill="#abd9e9"/>
<rect x="255.59" y="163.43" width="2.54" height="9.53" fill="#4575b4"/>
<rect x="258.1" y="163.43" width="12.6" height="9.53" fill="#313695"/>
<rect x="270.68" y="163.43" width="2.54" height="9.53" fill="#4575b4"/>
<rect x="273.19" y="163.43" width="2.54" height="9.53" fill="#74add1"/>
<rect x="275.71" y="163.43" width="5.05" height="9.53" fill="#313695"/>
<rect x="280.74" y="163.43" width="2.54" height="9.53" fill="#74add1"/>
<rect x="283.26" y="163.43" width="2.54" height="9.53" fill="#abd9e9"/>
<rect x="285.77" y="163.43" width="2.54" height="9.53" fill="#74add1"/>
<rect x="288.29" y="163.43" width="2.54" height="9.53" fill="#313695"/>
<rect x="295.83" y="163.43" width="5.05" height="9.53" fill="#313695"/>
<rect x="303.38" y="163.43" width="2.54" height="9.53" fill="#313695"/>
<rect x="305.9" y="163.43" width="2.54" height="9.53" fill="#74add1"/>
<rect x="308.41" y="163.43" width="2.54" height="9.53" fill="#abd9e9"/>
<rect x="310.93" y="163.43" width="2.54" height="9.53" fill="#313695"/>
<rect x="313.44" y="163.43" width="2.54" height="9.53" fill="#74add1"/>
<rect x="315.96" y="163.43" width="2.54" height="9.53" fill="#4575b4"/>
<rect x="318.47" y="163.43" width="2.54" height="9.53" fill="#abd9e9"/>
<rect x="320.99" y="163.43" width="2.54" height="9.53" fill="#74add1"/>
<rect x="323.5" y="163.43" width="2.54" height="9.53" fill="#313695"/>
<rect x="326.02" y="163.43" width="2.54" height="9.53" fill="#74add1"/>
<rect x="328.53" y="163.43" width="5.05" height="9.53" fill="#4575b4"/>
<rect x="333.57" y="163.43" width="2.54" height="9.53" fill="#313695"/>
<rect x="336.08" y="163.43" width="2.54" height="9.53" fill="#4575b4"/>
<rect x="338.6" y="163.43" width="2.54" height="9.53" fill="#74add1"/>
<rect x="341.11" y="163.43" width="10.08" height="9.53" fill="#313695"/>
<rect x="351.17" y="163.43" width="2.54" height="9.53" fill="#74add1"/>
<rect x="353.69" y="163.43" width="5.05" height="9.53" fill="#313695"/>
<rect x="361.24" y="163.43" width="5.05" height="9.53" fill="#313695"/>
<rect x="366.27" y="163.43" width="2.54" height="9.53" fill="#74add1"/>
<rect x="368.78" y="163.43" width="2.54" height="9.53" fill="#abd9e9"/>
<rect x="371.3" y="163.43" width="5.05" height="9.53" fill="#74add1"/>
<rect x="376.33" y="163.43" width="2.54" height="9.53" fill="#313695"/>
<rect x="378.84" y="163.43" width="2.54" height="9.53" fill="#74add1"/>
<rect x="381.36" y="163.43" width="2.54" height="9.53" fill="#abd9e9"/>
<rect x="383.88" y="163.43" width="2.54" height="9.53" fill="#74add1"/>
<rect x="386.39" y="163.43" width="2.54" height="9.53" fill="#fee090"/>
<rect x="388.91" y="163.43" width="2.54" height="9.53" fill="#abd9e9"/>
<rect x="391.42" y="163.43" width="7.57" height="9.53" fill="#74add1"/>
<rect x="398.97" y="163.43" width="2.54" height="9.53" fill="#abd9e9"/>
<rect x="401.48" y="163.43" width="2.54" height="9.53" fill="#e0f3f8"/>
<rect x="404" y="163.43" width="2.54" height="9.53" fill="#313695"/>
<rect x="406.52" y="163.43" width="5.05" height="9.53" fill="#abd9e9"/>
<rect x="411.55" y="163.43" width="2.54" height="9.53" fill="#e0f3f8"/>
<rect x="414.06" y="163.43" width="5.05" height="9.53" fill="#abd9e9"/>
<rect x="419.09" y="163.43" width="2.54" height="9.53" fill="#74add1"/>
<rect x="421.61" y="163.43" width="5.05" height="9.53" fill="#abd9e9"/>
<rect x="426.64" y="163.43" width="2.54" height="9.53" fill="#e0f3f8"/>
<rect x="429.15" y="163.43" width="2.54" height="9.53" fill="#74add1"/>
<rect x="431.67" y="163.43" width="2.54" height="9.53" fill="#4575b4"/>
<rect x="434.19" y="163.43" width="2.54" height="9.53" fill="#fdae61"/>
<rect x="436.7" y="163.43" width="2.54" height="9.53" fill="#abd9e9"/>
<rect x="439.22" y="163.43" width="2.54" height="9.53" fill="#74add1"/>
<rect x="441.73" y="163.43" width="2.54" height="9.53" fill="#4575b4"/>
<rect x="444.25" y="163.43" width="2.54" height="9.53" fill="#313695"/>
<rect x="446.76" y="163.43" width="2.54" height="9.53" fill="#abd9e9"/>
<rect x="449.28" y="163.43" width="2.54" height="9.53" fill="#e0f3f8"/>
<rect x="451.79" y="163.43" width="2.54" height="9.53" fill="#313695"/>
<rect x="454.31" y="163.43" width="2.54" height="9.53" fill="#4575b4"/>
<rect x="456.83" y="163.43" width="2.54" height="9.53" fill="#313695"/>
<rect x="459.34" y="163.43" width="2.54" height="9.53" fill="#74add1"/>
<rect x="461.86" y="163.43" width="2.54" height="9.53" fill="#4575b4"/>
<rect x="464.37" y="163.43" width="2.54" height="9.53" fill="#e0f3f8"/>
<rect x="466.89" y="163.43" width="2.54" height="9.53" fill="#74add1"/>
<rect x="469.4" y="163.43" width="5.05" height="9.53" fill="#313695"/>
<rect x="474.43" y="163.43" width="2.54" height="9.53" fill="#e0f3f8"/>
<rect x="476.95" y="163.43" width="2.54" height="9.53" fill="#abd9e9"/>
<rect x="479.46" y="163.43" width="2.54" height="9.53" fill="#74add1"/>
<rect x="481.98" y="163.43" width="2.54" height="9.53" fill="#313695"/>
<rect x="484.5" y="163.43" width="2.54" height="9.53" fill="#abd9e9"/>
<rect x="487.01" y="163.43" width="2.54" height="9.53" fill="#313695"/>
<rect x="489.53" y="163.43" width="2.54" height="9.53" fill="#74add1"/>
<rect x="492.04" y="163.43" width="2.54" height="9.53" fill="#4575b4"/>
<rect x="494.56" y="163.43" width="2.54" height="9.53" fill="#313695"/>
<rect x="497.07" y="163.43" width="2.54" height="9.53" fill="#74add1"/>
<rect x="499.59" y="163.43" width="2.54" height="9.53" fill="#abd9e9"/>
<rect x="502.1" y="163.43" width="2.54" height="9.53" fill="#e0f3f8"/>
<rect x="504.62" y="163.43" width="2.54" height="9.53" fill="#ffffbf"/>
<rect x="507.14" y="163.43" width="2.54" height="9.53" fill="#abd9e9"/>
<rect x="509.65" y="163.43" width="5.05" height="9.53" fill="#313695"/>
<rect x="514.68" y="163.43" width="2.54" height="9.53" fill="#4575b4"/>
<rect x="517.2" y="163.43" width="5.05" height="9.53" fill="#313695"/>
<rect x="522.23" y="163.43" width="2.54" height="9.53" fill="#4575b4"/>
<rect x="524.74" y="163.43" width="2.54" height="9.53" fill="#74add1"/>
<rect x="527.26" y="163.43" width="2.54" height="9.53" fill="#abd9e9"/>
<rect x="529.77" y="163.43" width="2.54" height="9.53" fill="#313695"/>
<rect x="532.29" y="163.43" width="2.54" height="9.53" fill="#74add1"/>
<rect x="534.81" y="163.43" width="2.54" height="9.53" fill="#abd9e9"/>
<rect x="537.32" y="163.43" width="2.54" height="9.53" fill="#4575b4"/>
<rect x="539.84" y="163.43" width="2.54" height="9.53" fill="#ffffbf"/>
<rect x="542.35" y="163.43" width="2.54" height="9.53" fill="#abd9e9"/>
<rect x="544.87" y="163.43" width="2.54" height="9.53" fill="#313695"/>
<rect x="547.38" y="163.43" width="2.54" height="9.53" fill="#4575b4"/>
<rect x="549.9" y="163.43" width="2.54" height="9.53" fill="#74add1"/>
<rect x="552.41" y="163.43" width="2.54" height="9.53" fill="#313695"/>
<rect x="554.93" y="163.43" width="2.54" height="9.53" fill="#4575b4"/>
<rect x="557.45" y="163.43" width="2.54" height="9.53" fill="#313695"/>
<rect x="559.96" y="163.43" width="5.05" height="9.53" fill="#4575b4"/>
<rect x="564.99" y="163.43" width="7.57" height="9.53" fill="#313695"/>
<rect x="572.54" y="163.43" width="2.54" height="9.53" fill="#4575b4"/>
<rect x="575.05" y="163.43" width="2.54" height="9.53" fill="#313695"/>
<rect x="577.57" y="163.43" width="2.54" height="9.53" fill="#74add1"/>
<rect x="580.08" y="163.43" width="2.54" height="9.53" fill="#313695"/>
<rect x="79.5" y="172.94" width="15.11" height="9.53" fill="#313695"/>
<rect x="94.59" y="172.94" width="2.54" height="9.53" fill="#4575b4"/>
<rect x="97.11" y="172.94" width="22.66" height="9.53" fill="#313695"/>
<rect x="119.75" y="172.94" width="12.6" height="9.53" fill="#4575b4"/>
<rect x="132.33" y="172.94" width="70.45" height="9.53" fill="#313695"/>
<rect x="202.76" y="172.94" width="2.54" height="9.53" fill="#fdae61"/>
<rect x="205.28" y="172.94" width="15.11" height="9.53" fill="#313695"/>
<rect x="220.37" y="172.94" width="5.05" height="9.53" fill="#4575b4"/>
<rect x="225.4" y="172.94" width="2.54" height="9.53" fill="#313695"/>
<rect x="227.91" y="172.94" width="2.54" height="9.53" fill="#74add1"/>
<rect x="230.43" y="172.94" width="2.54" height="9.53" fill="#4575b4"/>
<rect x="232.95" y="172.94" width="15.11" height="9.53" fill="#313695"/>
<rect x="248.04" y="172.94" width="5.05" height="9.53" fill="#4575b4"/>
<rect x="253.07" y="172.94" width="2.54" height="9.53" fill="#abd9e9"/>
<rect x="255.59" y="172.94" width="17.63" height="9.53" fill="#313695"/>
<rect x="273.19" y="172.94" width="2.54" height="9.53" fill="#4575b4"/>
<rect x="275.71" y="172.94" width="5.05" height="9.53" fill="#313695"/>
<rect x="280.74" y="172.94" width="2.54" height="9.53" fill="#abd9e9"/>
<rect x="283.26" y="172.94" width="2.54" height="9.53" fill="#e0f3f8"/>
<rect x="285.77" y="172.94" width="2.54" height="9.53" fill="#74add1"/>
<rect x="288.29" y="172.94" width="2.54" height="9.53" fill="#313695"/>
<rect x="290.8" y="172.94" width="2.54" height="9.53" fill="#4575b4"/>
<rect x="293.32" y="172.94" width="2.54" height="9.53" fill="#abd9e9"/>
<rect x="295.83" y="172.94" width="2.54" height="9.53" fill="#4575b4"/>
<rect x="298.35" y="172.94" width="2.54" height="9.53" fill="#313695"/>
<rect x="300.86" y="172.94" width="2.54" height="9.53" fill="#74add1"/>
<rect x="303.38" y="172.94" width="2.54" height="9.53" fill="#313695"/>
<rect x="305.9" y="172.94" width="2.54" height="9.53" fill="#74add1"/>
<rect x="308.41" y="172.94" width="2.54" height="9.53" fill="#abd9e9"/>
<rect x="310.93" y="172.94" width="2.54" height="9.53" fill="#313695"/>
<rect x="313.44" y="172.94" width="2.54" height="9.53" fill="#4575b4"/>
<rect x="315.96" y="172.94" width="2.54" height="9.53" fill="#74add1"/>
<rect x="318.47" y="172.94" width="2.54" height="9.53" fill="#313695"/>
<rect x="320.99" y="172.94" width="2.54" height="9.53" fill="#74add1"/>
<rect x="323.5" y="172.94" width="5.05" height="9.53" fill="#313695"/>
<rect x="328.53" y="172.94" width="2.54" height="9.53" fill="#4575b4"/>
<rect x="331.05" y="172.94" width="2.54" height="9.53" fill="#313695"/>
<rect x="333.57" y="172.94" width="2.54" height="9.53" fill="#4575b4"/>
<rect x="336.08" y="172.94" width="2.54" height="9.53" fill="#74add1"/>
<rect x="338.6" y="172.94" width="2.54" height="9.53" fill="#e0f3f8"/>
<rect x="341.11" y="172.94" width="7.57" height="9.53" fill="#313695"/>
<rect x="348.66" y="172.94" width="2.54" height="9.53" fill="#4575b4"/>
<rect x="351.17" y="172.94" width="2.54" height="9.53" fill="#74add1"/>
<rect x="353.69" y="172.94" width="2.54" height="9.53" fill="#313695"/>
<rect x="356.21" y="172.94" width="2.54" height="9.53" fill="#4575b4"/>
<rect x="358.72" y="172.94" width="2.54" height="9.53" fill="#313695"/>
<rect x="361.24" y="172.94" width="2.54" height="9.53" fill="#4575b4"/>
<rect x="363.75" y="172.94" width="2.54" height="9.53" fill="#313695"/>
<rect x="366.27" y="172.94" width="2.54" height="9.53" fill="#74add1"/>
<rect x="368.78" y="172.94" width="2.54" height="9.53" fill="#abd9e9"/>
<rect x="371.3" y="172.94" width="2.54" height="9.53" fill="#74add1"/>
<rect x="373.81" y="172.94" width="2.54" height="9.53" fill="#4575b4"/>
<rect x="376.33" y="172.94" width="2.54" height="9.53" fill="#74add1"/>
<rect x="378.84" y="172.94" width="2.54" height="9.53" fill="#abd9e9"/>
<rect x="381.36" y="172.94" width="2.54" height="9.53" fill="#74add1"/>
<rect x="383.88" y="172.94" width="2.54" height="9.53" fill="#4575b4"/>
<rect x="386.39" y="172.94" width="2.54" height="9.53" fill="#e0f3f8"/>
<rect x="388.91" y="172.94" width="2.54" height="9.53" fill="#abd9e9"/>
<rect x="391.42" y="172.94" width="7.57" height="9.53" fill="#74add1"/>
<rect x="398.97" y="172.94" width="2.54" height="9.53" fill="#4575b4"/>
<rect x="401.48" y="172.94" width="2.54" height="9.53" fill="#74add1"/>
<rect x="404" y="172.94" width="2.54" height="9.53" fill="#4575b4"/>
<rect x="406.52" y="172.94" width="2.54" height="9.53" fill="#abd9e9"/>
<rect x="409.03" y="172.94" width="2.54" height="9.53" fill="#e0f3f8"/>
<rect x="411.55" y="172.94" width="2.54" height="9.53" fill="#abd9e9"/>
<rect x="414.06" y="172.94" width="2.54" height="9.53" fill="#e0f3f8"/>
<rect x="416.58" y="172.94" width="2.54" height="9.53" fill="#abd9e9"/>
<rect x="419.09" y="172.94" width="2.54" height="9.53" fill="#313695"/>
<rect x="421.61" y="172.94" width="2.54" height="9.53" fill="#74add1"/>
<rect x="424.12" y="172.94" width="2.54" height="9.53" fill="#abd9e9"/>
<rect x="426.64" y="172.94" width="2.54" height="9.53" fill="#4575b4"/>
<rect x="429.15" y="172.94" width="2.54" height="9.53" fill="#74add1"/>
<rect x="431.67" y="172.94" width="2.54" height="9.53" fill="#4575b4"/>
<rect x="434.19" y="172.94" width="2.54" height="9.53" fill="#e0f3f8"/>
<rect x="436.7" y="172.94" width="2.54" height="9.53" fill="#74add1"/>
<rect x="439.22" y="172.94" width="2.54" height="9.53" fill="#313695"/>
<rect x="441.73" y="172.94" width="2.54" height="9.53" fill="#4575b4"/>
<rect x="444.25" y="172.94" width="2.54" height="9.53" fill="#313695"/>
<rect x="446.76" y="172.94" width="2.54" height="9.53" fill="#abd9e9"/>
<rect x="449.28" y="172.94" width="5.05" height="9.53" fill="#74add1"/>
<rect x="454.31" y="172.94" width="7.57" height="9.53" fill="#313695"/>
<rect x="461.86" y="172.94" width="2.54" height="9.53" fill="#ffffbf"/>
<rect x="464.37" y="172.94" width="2.54" height="9.53" fill="#fee090"/>
<rect x="466.89" y="172.94" width="2.54" height="9.53" fill="#f46d43"/>
<rect x="469.4" y="172.94" width="2.54" height="9.53" fill="#ffffbf"/>
<rect x="471.92" y="172.94" width="2.54" height="9.53" fill="#313695"/>
<rect x="474.43" y="172.94" width="5.05" height="9.53" fill="#fdae61"/>
<rect x="479.46" y="172.94" width="2.54" height="9.53" fill="#e0f3f8"/>
<rect x="481.98" y="172.94" width="2.54" height="9.53" fill="#313695"/>
<rect x="484.5" y="172.94" width="2.54" height="9.53" fill="#ffffbf"/>
<rect x="487.01" y="172.94" width="2.54" height="9.53" fill="#313695"/>
<rect x="489.53" y="172.94" width="5.05" height="9.53" fill="#74add1"/>
<rect x="494.56" y="172.94" width="2.54" height="9.53" fill="#4575b4"/>
<rect x="497.07" y="172.94" width="2.54" height="9.53" fill="#f46d43"/>
<rect x="499.59" y="172.94" width="2.54" height="9.53" fill="#b3192d"/>
<rect x="502.1" y="172.94" width="2.54" height="9.53" fill="#fdae61"/>
<rect x="504.62" y="172.94" width="2.54" height="9.53" fill="#e0f3f8"/>
<rect x="507.14" y="172.94" width="2.54" height="9.53" fill="#f46d43"/>
<rect x="509.65" y="172.94" width="12.6" height="9.53" fill="#313695"/>
<rect x="522.23" y="172.94" width="2.54" height="9.53" fill="#4575b4"/>
<rect x="524.74" y="172.94" width="2.54" height="9.53" fill="#313695"/>
<rect x="527.26" y="172.94" width="7.57" height="9.53" fill="#74add1"/>
<rect x="534.81" y="172.94" width="2.54" height="9.53" fill="#4575b4"/>
<rect x="537.32" y="172.94" width="2.54" height="9.53" fill="#313695"/>
<rect x="539.84" y="172.94" width="2.54" height="9.53" fill="#abd9e9"/>
<rect x="542.35" y="172.94" width="2.54" height="9.53" fill="#74add1"/>
<rect x="544.87" y="172.94" width="2.54" height="9.53" fill="#4575b4"/>
<rect x="547.38" y="172.94" width="2.54" height="9.53" fill="#74add1"/>
<rect x="549.9" y="172.94" width="2.54" height="9.53" fill="#313695"/>
<rect x="552.41" y="172.94" width="2.54" height="9.53" fill="#4575b4"/>
<rect x="554.93" y="172.94" width="2.54" height="9.53" fill="#313695"/>
<rect x="557.45" y="172.94" width="2.54" height="9.53" fill="#74add1"/>
<rect x="559.96" y="172.94" width="5.05" height="9.53" fill="#313695"/>
<rect x="564.99" y="172.94" width="2.54" height="9.53" fill="#74add1"/>
<rect x="567.51" y="172.94" width="7.57" height="9.53" fill="#313695"/>
<rect x="575.05" y="172.94" width="5.05" height="9.53" fill="#74add1"/>
<rect x="580.08" y="172.94" width="2.54" height="9.53" fill="#313695"/>
<rect x="79.5" y="182.45" width="15.11" height="9.53" fill="#313695"/>
<rect x="94.59" y="182.45" width="5.05" height="9.53" fill="#74add1"/>
<rect x="99.62" y="182.45" width="20.14" height="9.53" fill="#313695"/>
<rect x="119.75" y="182.45" width="5.05" height="9.53" fill="#74add1"/>
<rect x="124.78" y="182.45" width="5.05" height="9.53" fill="#313695"/>
<rect x="129.81" y="182.45" width="2.54" height="9.53" fill="#74add1"/>
<rect x="132.33" y="182.45" width="15.11" height="9.53" fill="#313695"/>
<rect x="147.42" y="182.45" width="2.54" height="9.53" fill="#74add1"/>
<rect x="149.93" y="182.45" width="35.24" height="9.53" fill="#313695"/>
<rect x="185.15" y="182.45" width="2.54" height="9.53" fill="#74add1"/>
<rect x="187.67" y="182.45" width="15.11" height="9.53" fill="#313695"/>
<rect x="202.76" y="182.45" width="2.54" height="9.53" fill="#abd9e9"/>
<rect x="205.28" y="182.45" width="15.11" height="9.53" fill="#313695"/>
<rect x="220.37" y="182.45" width="7.57" height="9.53" fill="#4575b4"/>
<rect x="227.91" y="182.45" width="2.54" height="9.53" fill="#74add1"/>
<rect x="230.43" y="182.45" width="2.54" height="9.53" fill="#abd9e9"/>
<rect x="232.95" y="182.45" width="2.54" height="9.53" fill="#74add1"/>
<rect x="235.46" y="182.45" width="12.6" height="9.53" fill="#313695"/>
<rect x="248.04" y="182.45" width="5.05" height="9.53" fill="#74add1"/>
<rect x="253.07" y="182.45" width="2.54" height="9.53" fill="#abd9e9"/>
<rect x="255.59" y="182.45" width="2.54" height="9.53" fill="#4575b4"/>
<rect x="258.1" y="182.45" width="2.54" height="9.53" fill="#74add1"/>
<rect x="260.62" y="182.45" width="2.54" height="9.53" fill="#4575b4"/>
<rect x="263.13" y="182.45" width="5.05" height="9.53" fill="#313695"/>
<rect x="268.16" y="182.45" width="2.54" height="9.53" fill="#4575b4"/>
<rect x="270.68" y="182.45" width="2.54" height="9.53" fill="#313695"/>
<rect x="273.19" y="182.45" width="2.54" height="9.53" fill="#74add1"/>
<rect x="275.71" y="182.45" width="2.54" height="9.53" fill="#4575b4"/>
<rect x="278.22" y="182.45" width="2.54" height="9.53" fill="#313695"/>
<rect x="280.74" y="182.45" width="5.05" height="9.53" fill="#74add1"/>
<rect x="285.77" y="182.45" width="2.54" height="9.53" fill="#313695"/>
<rect x="288.29" y="182.45" width="2.54" height="9.53" fill="#4575b4"/>
<rect x="290.8" y="182.45" width="2.54" height="9.53" fill="#74add1"/>
<rect x="293.32" y="182.45" width="2.54" height="9.53" fill="#4575b4"/>
<rect x="295.83" y="182.45" width="2.54" height="9.53" fill="#74add1"/>
<rect x="298.35" y="182.45" width="2.54" height="9.53" fill="#313695"/>
<rect x="300.86" y="182.45" width="2.54" height="9.53" fill="#74add1"/>
<rect x="303.38" y="182.45" width="2.54" height="9.53" fill="#4575b4"/>
<rect x="305.9" y="182.45" width="5.05" height="9.53" fill="#74add1"/>
<rect x="310.93" y="182.45" width="2.54" height="9.53" fill="#313695"/>
<rect x="313.44" y="182.45" width="2.54" height="9.53" fill="#abd9e9"/>
<rect x="315.96" y="182.45" width="2.54" height="9.53" fill="#74add1"/>
<rect x="318.47" y="182.45" width="2.54" height="9.53" fill="#313695"/>
<rect x="320.99" y="182.45" width="2.54" height="9.53" fill="#abd9e9"/>
<rect x="323.5" y="182.45" width="2.54" height="9.53" fill="#74add1"/>
<rect x="326.02" y="182.45" width="2.54" height="9.53" fill="#313695"/>
<rect x="328.53" y="182.45" width="2.54" height="9.53" fill="#4575b4"/>
<rect x="331.05" y="182.45" width="5.05" height="9.53" fill="#313695"/>
<rect x="336.08" y="182.45" width="2.54" height="9.53" fill="#4575b4"/>
<rect x="338.6" y="182.45" width="2.54" height="9.53" fill="#313695"/>
<rect x="341.11" y="182.45" width="2.54" height="9.53" fill="#74add1"/>
<rect x="343.63" y="182.45" width="2.54" height="9.53" fill="#313695"/>
<rect x="346.14" y="182.45" width="2.54" height="9.53" fill="#4575b4"/>
<rect x="348.66" y="182.45" width="2.54" height="9.53" fill="#313695"/>
<rect x="351.17" y="182.45" width="2.54" height="9.53" fill="#74add1"/>
<rect x="353.69" y="182.45" width="7.57" height="9.53" fill="#313695"/>
<rect x="361.24" y="182.45" width="2.54" height="9.53" fill="#4575b4"/>
<rect x="363.75" y="182.45" width="2.54" height="9.53" fill="#313695"/>
<rect x="366.27" y="182.45" width="2.54" height="9.53" fill="#74add1"/>
<rect x="368.78" y="182.45" width="2.54" height="9.53" fill="#abd9e9"/>
<rect x="371.3" y="182.45" width="2.54" height="9.53" fill="#4575b4"/>
<rect x="373.81" y="182.45" width="2.54" height="9.53" fill="#313695"/>
<rect x="376.33" y="182.45" width="2.54" height="9.53" fill="#74add1"/>
<rect x="378.84" y="182.45" width="2.54" height="9.53" fill="#abd9e9"/>
<rect x="381.36" y="182.45" width="2.54" height="9.53" fill="#74add1"/>
<rect x="383.88" y="182.45" width="2.54" height="9.53" fill="#4575b4"/>
<rect x="386.39" y="182.45" width="2.54" height="9.53" fill="#e0f3f8"/>
<rect x="388.91" y="182.45" width="2.54" height="9.53" fill="#313695"/>
<rect x="391.42" y="182.45" width="2.54" height="9.53" fill="#abd9e9"/>
<rect x="393.94" y="182.45" width="2.54" height="9.53" fill="#74add1"/>
<rect x="396.45" y="182.45" width="2.54" height="9.53" fill="#e0f3f8"/>
<rect x="398.97" y="182.45" width="2.54" height="9.53" fill="#74add1"/>
<rect x="401.48" y="182.45" width="2.54" height="9.53" fill="#4575b4"/>
<rect x="404" y="182.45" width="2.54" height="9.53" fill="#313695"/>
<rect x="406.52" y="182.45" width="5.05" height="9.53" fill="#abd9e9"/>
<rect x="411.55" y="182.45" width="2.54" height="9.53" fill="#74add1"/>
<rect x="414.06" y="182.45" width="5.05" height="9.53" fill="#abd9e9"/>
<rect x="419.09" y="182.45" width="2.54" height="9.53" fill="#313695"/>
<rect x="421.61" y="182.45" width="2.54" height="9.53" fill="#abd9e9"/>
<rect x="424.12" y="182.45" width="5.05" height="9.53" fill="#74add1"/>
<rect x="429.15" y="182.45" width="5.05" height="9.53" fill="#4575b4"/>
<rect x="434.19" y="182.45" width="2.54" height="9.53" fill="#e0f3f8"/>
<rect x="436.7" y="182.45" width="2.54" height="9.53" fill="#74add1"/>
<rect x="439.22" y="182.45" width="2.54" height="9.53" fill="#4575b4"/>
<rect x="441.73" y="182.45" width="2.54" height="9.53" fill="#313695"/>
<rect x="444.25" y="182.45" width="2.54" height="9.53" fill="#abd9e9"/>
<rect x="446.76" y="182.45" width="2.54" height="9.53" fill="#e0f3f8"/>
<rect x="449.28" y="182.45" width="5.05" height="9.53" fill="#74add1"/>
<rect x="454.31" y="182.45" width="2.54" height="9.53" fill="#4575b4"/>
<rect x="456.83" y="182.45" width="2.54" height="9.53" fill="#74add1"/>
<rect x="459.34" y="182.45" width="2.54" height="9.53" fill="#abd9e9"/>
<rect x="461.86" y="182.45" width="2.54" height="9.53" fill="#e0f3f8"/>
<rect x="464.37" y="182.45" width="2.54" height="9.53" fill="#ffffbf"/>
<rect x="466.89" y="182.45" width="2.54" height="9.53" fill="#e0f3f8"/>
<rect x="469.4" y="182.45" width="2.54" height="9.53" fill="#74add1"/>
<rect x="471.92" y="182.45" width="2.54" height="9.53" fill="#313695"/>
<rect x="474.43" y="182.45" width="2.54" height="9.53" fill="#ffffbf"/>
<rect x="476.95" y="182.45" width="2.54" height="9.53" fill="#fee090"/>
<rect x="479.46" y="182.45" width="2.54" height="9.53" fill="#74add1"/>
<rect x="481.98" y="182.45" width="2.54" height="9.53" fill="#abd9e9"/>
<rect x="484.5" y="182.45" width="2.54" height="9.53" fill="#74add1"/>
<rect x="487.01" y="182.45" width="2.54" height="9.53" fill="#4575b4"/>
<rect x="489.53" y="182.45" width="5.05" height="9.53" fill="#74add1"/>
<rect x="494.56" y="182.45" width="2.54" height="9.53" fill="#313695"/>
<rect x="497.07" y="182.45" width="2.54" height="9.53" fill="#ffffbf"/>
<rect x="499.59" y="182.45" width="5.05" height="9.53" fill="#fee090"/>
<rect x="504.62" y="182.45" width="2.54" height="9.53" fill="#e0f3f8"/>
<rect x="507.14" y="182.45" width="2.54" height="9.53" fill="#fee090"/>
<rect x="509.65" y="182.45" width="7.57" height="9.53" fill="#313695"/>
<rect x="517.2" y="182.45" width="2.54" height="9.53" fill="#74add1"/>
<rect x="519.71" y="182.45" width="2.54" height="9.53" fill="#313695"/>
<rect x="522.23" y="182.45" width="2.54" height="9.53" fill="#4575b4"/>
<rect x="524.74" y="182.45" width="2.54" height="9.53" fill="#313695"/>
<rect x="527.26" y="182.45" width="2.54" height="9.53" fill="#abd9e9"/>
<rect x="529.77" y="182.45" width="2.54" height="9.53" fill="#313695"/>
<rect x="532.29" y="182.45" width="2.54" height="9.53" fill="#4575b4"/>
<rect x="534.81" y="182.45" width="2.54" height="9.53" fill="#74add1"/>
<rect x="537.32" y="182.45" width="2.54" height="9.53" fill="#abd9e9"/>
<rect x="539.84" y="182.45" width="5.05" height="9.53" fill="#74add1"/>
<rect x="544.87" y="182.45" width="2.54" height="9.53" fill="#4575b4"/>
<rect x="547.38" y="182.45" width="2.54" height="9.53" fill="#abd9e9"/>
<rect x="549.9" y="182.45" width="5.05" height="9.53" fill="#74add1"/>
<rect x="554.93" y="182.45" width="2.54" height="9.53" fill="#4575b4"/>
<rect x="557.45" y="182.45" width="5.05" height="9.53" fill="#313695"/>
<rect x="562.48" y="182.45" width="2.54" height="9.53" fill="#74add1"/>
<rect x="564.99" y="182.45" width="7.57" height="9.53" fill="#313695"/>
<rect x="572.54" y="182.45" width="2.54" height="9.53" fill="#4575b4"/>
<rect x="575.05" y="182.45" width="2.54" height="9.53" fill="#74add1"/>
<rect x="577.57" y="182.45" width="2.54" height="9.53" fill="#4575b4"/>
<rect x="580.08" y="182.45" width="2.54" height="9.53" fill="#313695"/>
<rect x="79.5" y="191.96" width="2.54" height="9.53" fill="#313695"/>
<rect x="82.02" y="191.96" width="2.54" height="9.53" fill="#4575b4"/>
<rect x="84.53" y="191.96" width="20.14" height="9.53" fill="#313695"/>
<rect x="104.66" y="191.96" width="2.54" height="9.53" fill="#74add1"/>
<rect x="107.17" y="191.96" width="12.6" height="9.53" fill="#313695"/>
<rect x="119.75" y="191.96" width="2.54" height="9.53" fill="#4575b4"/>
<rect x="122.26" y="191.96" width="98.12" height="9.53" fill="#313695"/>
<rect x="220.37" y="191.96" width="2.54" height="9.53" fill="#4575b4"/>
<rect x="222.88" y="191.96" width="2.54" height="9.53" fill="#313695"/>
<rect x="225.4" y="191.96" width="2.54" height="9.53" fill="#74add1"/>
<rect x="227.91" y="191.96" width="20.14" height="9.53" fill="#313695"/>
<rect x="248.04" y="191.96" width="2.54" height="9.53" fill="#4575b4"/>
<rect x="250.55" y="191.96" width="2.54" height="9.53" fill="#74add1"/>
<rect x="253.07" y="191.96" width="2.54" height="9.53" fill="#abd9e9"/>
<rect x="255.59" y="191.96" width="17.63" height="9.53" fill="#313695"/>
<rect x="273.19" y="191.96" width="2.54" height="9.53" fill="#4575b4"/>
<rect x="275.71" y="191.96" width="7.57" height="9.53" fill="#313695"/>
<rect x="283.26" y="191.96" width="2.54" height="9.53" fill="#74add1"/>
<rect x="285.77" y="191.96" width="5.05" height="9.53" fill="#313695"/>
<rect x="290.8" y="191.96" width="2.54" height="9.53" fill="#74add1"/>
<rect x="293.32" y="191.96" width="2.54" height="9.53" fill="#313695"/>
<rect x="295.83" y="191.96" width="2.54" height="9.53" fill="#abd9e9"/>
<rect x="298.35" y="191.96" width="2.54" height="9.53" fill="#313695"/>
<rect x="300.86" y="191.96" width="2.54" height="9.53" fill="#74add1"/>
<rect x="303.38" y="191.96" width="12.6" height="9.53" fill="#313695"/>
<rect x="315.96" y="191.96" width="2.54" height="9.53" fill="#abd9e9"/>
<rect x="318.47" y="191.96" width="5.05" height="9.53" fill="#313695"/>
<rect x="323.5" y="191.96" width="2.54" height="9.53" fill="#74add1"/>
<rect x="326.02" y="191.96" width="12.6" height="9.53" fill="#313695"/>
<rect x="338.6" y="191.96" width="2.54" height="9.53" fill="#74add1"/>
<rect x="341.11" y="191.96" width="7.57" height="9.53" fill="#313695"/>
<rect x="348.66" y="191.96" width="2.54" height="9.53" fill="#74add1"/>
<rect x="351.17" y="191.96" width="7.57" height="9.53" fill="#313695"/>
<rect x="358.72" y="191.96" width="2.54" height="9.53" fill="#4575b4"/>
<rect x="361.24" y="191.96" width="5.05" height="9.53" fill="#313695"/>
<rect x="366.27" y="191.96" width="5.05" height="9.53" fill="#74add1"/>
<rect x="371.3" y="191.96" width="2.54" height="9.53" fill="#4575b4"/>
<rect x="373.81" y="191.96" width="2.54" height="9.53" fill="#e0f3f8"/>
<rect x="376.33" y="191.96" width="2.54" height="9.53" fill="#313695"/>
<rect x="378.84" y="191.96" width="2.54" height="9.53" fill="#74add1"/>
<rect x="381.36" y="191.96" width="5.05" height="9.53" fill="#4575b4"/>
<rect x="386.39" y="191.96" width="2.54" height="9.53" fill="#fee090"/>
<rect x="388.91" y="191.96" width="2.54" height="9.53" fill="#abd9e9"/>
<rect x="391.42" y="191.96" width="5.05" height="9.53" fill="#74add1"/>
<rect x="396.45" y="191.96" width="2.54" height="9.53" fill="#abd9e9"/>
<rect x="398.97" y="191.96" width="5.05" height="9.53" fill="#4575b4"/>
<rect x="404" y="191.96" width="2.54" height="9.53" fill="#313695"/>
<rect x="406.52" y="191.96" width="2.54" height="9.53" fill="#ffffbf"/>
<rect x="409.03" y="191.96" width="2.54" height="9.53" fill="#e0f3f8"/>
<rect x="411.55" y="191.96" width="2.54" height="9.53" fill="#abd9e9"/>
<rect x="414.06" y="191.96" width="2.54" height="9.53" fill="#ffffbf"/>
<rect x="416.58" y="191.96" width="2.54" height="9.53" fill="#abd9e9"/>
<rect x="419.09" y="191.96" width="2.54" height="9.53" fill="#313695"/>
<rect x="421.61" y="191.96" width="2.54" height="9.53" fill="#e0f3f8"/>
<rect x="424.12" y="191.96" width="2.54" height="9.53" fill="#4575b4"/>
<rect x="426.64" y="191.96" width="7.57" height="9.53" fill="#74add1"/>
<rect x="434.19" y="191.96" width="2.54" height="9.53" fill="#fdae61"/>
<rect x="436.7" y="191.96" width="2.54" height="9.53" fill="#74add1"/>
<rect x="439.22" y="191.96" width="2.54" height="9.53" fill="#abd9e9"/>
<rect x="441.73" y="191.96" width="2.54" height="9.53" fill="#e0f3f8"/>
<rect x="444.25" y="191.96" width="2.54" height="9.53" fill="#313695"/>
<rect x="446.76" y="191.96" width="2.54" height="9.53" fill="#f46d43"/>
<rect x="449.28" y="191.96" width="2.54" height="9.53" fill="#e0f3f8"/>
<rect x="451.79" y="191.96" width="2.54" height="9.53" fill="#74add1"/>
<rect x="454.31" y="191.96" width="2.54" height="9.53" fill="#abd9e9"/>
<rect x="456.83" y="191.96" width="2.54" height="9.53" fill="#313695"/>
<rect x="459.34" y="191.96" width="2.54" height="9.53" fill="#e0f3f8"/>
<rect x="461.86" y="191.96" width="2.54" height="9.53" fill="#74add1"/>
<rect x="464.37" y="191.96" width="2.54" height="9.53" fill="#ffffbf"/>
<rect x="466.89" y="191.96" width="2.54" height="9.53" fill="#e0f3f8"/>
<rect x="469.4" y="191.96" width="5.05" height="9.53" fill="#313695"/>
<rect x="474.43" y="191.96" width="2.54" height="9.53" fill="#d73027"/>
<rect x="476.95" y="191.96" width="2.54" height="9.53" fill="#fdae61"/>
<rect x="479.46" y="191.96" width="2.54" height="9.53" fill="#74add1"/>
<rect x="481.98" y="191.96" width="2.54" height="9.53" fill="#313695"/>
<rect x="484.5" y="191.96" width="2.54" height="9.53" fill="#74add1"/>
<rect x="487.01" y="191.96" width="7.57" height="9.53" fill="#313695"/>
<rect x="494.56" y="191.96" width="2.54" height="9.53" fill="#abd9e9"/>
<rect x="497.07" y="191.96" width="2.54" height="9.53" fill="#313695"/>
<rect x="499.59" y="191.96" width="2.54" height="9.53" fill="#abd9e9"/>
<rect x="502.1" y="191.96" width="2.54" height="9.53" fill="#e0f3f8"/>
<rect x="504.62" y="191.96" width="2.54" height="9.53" fill="#fdae61"/>
<rect x="507.14" y="191.96" width="2.54" height="9.53" fill="#e0f3f8"/>
<rect x="509.65" y="191.96" width="17.63" height="9.53" fill="#313695"/>
<rect x="527.26" y="191.96" width="2.54" height="9.53" fill="#abd9e9"/>
<rect x="529.77" y="191.96" width="5.05" height="9.53" fill="#313695"/>
<rect x="534.81" y="191.96" width="2.54" height="9.53" fill="#74add1"/>
<rect x="537.32" y="191.96" width="2.54" height="9.53" fill="#313695"/>
<rect x="539.84" y="191.96" width="2.54" height="9.53" fill="#e0f3f8"/>
<rect x="542.35" y="191.96" width="2.54" height="9.53" fill="#313695"/>
<rect x="544.87" y="191.96" width="2.54" height="9.53" fill="#4575b4"/>
<rect x="547.38" y="191.96" width="2.54" height="9.53" fill="#74add1"/>
<rect x="549.9" y="191.96" width="2.54" height="9.53" fill="#4575b4"/>
<rect x="552.41" y="191.96" width="5.05" height="9.53" fill="#313695"/>
<rect x="557.45" y="191.96" width="2.54" height="9.53" fill="#74add1"/>
<rect x="559.96" y="191.96" width="5.05" height="9.53" fill="#313695"/>
<rect x="564.99" y="191.96" width="2.54" height="9.53" fill="#abd9e9"/>
<rect x="567.51" y="191.96" width="10.08" height="9.53" fill="#313695"/>
<rect x="577.57" y="191.96" width="2.54" height="9.53" fill="#abd9e9"/>
<rect x="580.08" y="191.96" width="2.54" height="9.53" fill="#313695"/>
<rect x="79.5" y="201.48" width="17.63" height="9.53" fill="#313695"/>
<rect x="97.11" y="201.48" width="2.54" height="9.53" fill="#d73027"/>
<rect x="99.62" y="201.48" width="25.18" height="9.53" fill="#313695"/>
<rect x="124.78" y="201.48" width="2.54" height="9.53" fill="#ffffbf"/>
<rect x="127.29" y="201.48" width="75.48" height="9.53" fill="#313695"/>
<rect x="248.04" y="201.48" width="5.05" height="9.53" fill="#b3192d"/>
<rect x="315.96" y="201.48" width="12.6" height="9.53" fill="#313695"/>
<rect x="338.6" y="201.48" width="5.05" height="9.53" fill="#b3192d"/>
<rect x="343.63" y="201.48" width="15.11" height="9.53" fill="#313695"/>
<rect x="366.27" y="201.48" width="2.54" height="9.53" fill="#b3192d"/>
<rect x="373.81" y="201.48" width="5.05" height="9.53" fill="#b3192d"/>
<rect x="439.22" y="201.48" width="2.54" height="9.53" fill="#313695"/>
<rect x="441.73" y="201.48" width="2.54" height="9.53" fill="#b3192d"/>
<rect x="444.25" y="201.48" width="2.54" height="9.53" fill="#313695"/>
<rect x="446.76" y="201.48" width="2.54" height="9.53" fill="#b3192d"/>
<rect x="451.79" y="201.48" width="2.54" height="9.53" fill="#b3192d"/>
<rect x="454.31" y="201.48" width="7.57" height="9.53" fill="#313695"/>
<rect x="464.37" y="201.48" width="2.54" height="9.53" fill="#b3192d"/>
<rect x="466.89" y="201.48" width="2.54" height="9.53" fill="#313695"/>
<rect x="494.56" y="201.48" width="15.11" height="9.53" fill="#b3192d"/>
<rect x="509.65" y="201.48" width="2.54" height="9.53" fill="#313695"/>
<rect x="517.2" y="201.48" width="5.05" height="9.53" fill="#313695"/>
<rect x="524.74" y="201.48" width="5.05" height="9.53" fill="#b3192d"/>
<rect x="544.87" y="201.48" width="2.54" height="9.53" fill="#b3192d"/>
<rect x="547.38" y="201.48" width="2.54" height="9.53" fill="#ffffbf"/>
<rect x="552.41" y="201.48" width="30.21" height="9.53" fill="#313695"/>
<rect x="82.02" y="210.99" width="2.54" height="9.53" fill="#313695"/>
<rect x="258.1" y="210.99" width="2.54" height="9.53" fill="#b3192d"/>
<rect x="273.19" y="210.99" width="2.54" height="9.53" fill="#313695"/>
<rect x="275.71" y="210.99" width="2.54" height="9.53" fill="#fee090"/>
<rect x="278.22" y="210.99" width="2.54" height="9.53" fill="#313695"/>
<rect x="280.74" y="210.99" width="2.54" height="9.53" fill="#fee090"/>
<rect x="283.26" y="210.99" width="2.54" height="9.53" fill="#b3192d"/>
<rect x="285.77" y="210.99" width="15.11" height="9.53" fill="#313695"/>
<rect x="300.86" y="210.99" width="2.54" height="9.53" fill="#74add1"/>
<rect x="303.38" y="210.99" width="7.57" height="9.53" fill="#313695"/>
<rect x="313.44" y="210.99" width="2.54" height="9.53" fill="#b3192d"/>
<rect x="315.96" y="210.99" width="2.54" height="9.53" fill="#e0f3f8"/>
<rect x="318.47" y="210.99" width="2.54" height="9.53" fill="#b3192d"/>
<rect x="320.99" y="210.99" width="7.57" height="9.53" fill="#313695"/>
<rect x="366.27" y="210.99" width="2.54" height="9.53" fill="#74add1"/>
<rect x="388.91" y="210.99" width="2.54" height="9.53" fill="#ffffbf"/>
<rect x="396.45" y="210.99" width="7.57" height="9.53" fill="#313695"/>
<rect x="404" y="210.99" width="2.54" height="9.53" fill="#abd9e9"/>
<rect x="406.52" y="210.99" width="7.57" height="9.53" fill="#b3192d"/>
<rect x="414.06" y="210.99" width="2.54" height="9.53" fill="#f46d43"/>
<rect x="416.58" y="210.99" width="2.54" height="9.53" fill="#b3192d"/>
<rect x="419.09" y="210.99" width="2.54" height="9.53" fill="#e0f3f8"/>
<rect x="421.61" y="210.99" width="2.54" height="9.53" fill="#74add1"/>
<rect x="424.12" y="210.99" width="2.54" height="9.53" fill="#abd9e9"/>
<rect x="426.64" y="210.99" width="2.54" height="9.53" fill="#313695"/>
<rect x="431.67" y="210.99" width="2.54" height="9.53" fill="#b3192d"/>
<rect x="434.19" y="210.99" width="2.54" height="9.53" fill="#d73027"/>
<rect x="439.22" y="210.99" width="2.54" height="9.53" fill="#e0f3f8"/>
<rect x="441.73" y="210.99" width="2.54" height="9.53" fill="#313695"/>
<rect x="444.25" y="210.99" width="2.54" height="9.53" fill="#fee090"/>
<rect x="446.76" y="210.99" width="12.6" height="9.53" fill="#313695"/>
<rect x="459.34" y="210.99" width="2.54" height="9.53" fill="#abd9e9"/>
<rect x="461.86" y="210.99" width="2.54" height="9.53" fill="#ffffbf"/>
<rect x="464.37" y="210.99" width="2.54" height="9.53" fill="#b3192d"/>
<rect x="466.89" y="210.99" width="2.54" height="9.53" fill="#ffffbf"/>
<rect x="469.4" y="210.99" width="5.05" height="9.53" fill="#313695"/>
<rect x="509.65" y="210.99" width="7.57" height="9.53" fill="#313695"/>
<rect x="517.2" y="210.99" width="5.05" height="9.53" fill="#74add1"/>
<rect x="522.23" y="210.99" width="2.54" height="9.53" fill="#313695"/>
<rect x="524.74" y="210.99" width="2.54" height="9.53" fill="#ffffbf"/>
<rect x="527.26" y="210.99" width="5.05" height="9.53" fill="#313695"/>
<rect x="532.29" y="210.99" width="2.54" height="9.53" fill="#b3192d"/>
<rect x="534.81" y="210.99" width="5.05" height="9.53" fill="#313695"/>
<rect x="539.84" y="210.99" width="2.54" height="9.53" fill="#e0f3f8"/>
<rect x="542.35" y="210.99" width="7.57" height="9.53" fill="#313695"/>
<rect x="549.9" y="210.99" width="2.54" height="9.53" fill="#e0f3f8"/>
<rect x="552.41" y="210.99" width="22.66" height="9.53" fill="#313695"/>
<rect x="575.05" y="210.99" width="2.54" height="9.53" fill="#ffffbf"/>
<rect x="577.57" y="210.99" width="5.05" height="9.53" fill="#313695"/>
<path d="M79.5 58.8V220.5M82.02 58.8V220.5M84.53 58.8V220.5M87.05 58.8V220.5M89.56 58.8V220.5M92.08 58.8V220.5M94.59 58.8V220.5M97.11 58.8V220.5M99.62 58.8V220.5M102.14 58.8V220.5M104.66 58.8V220.5M107.17 58.8V220.5M109.69 58.8V220.5M112.2 58.8V220.5M114.72 58.8V220.5M117.23 58.8V220.5M119.75 58.8V220.5M122.26 58.8V220.5M124.78 58.8V220.5M127.29 58.8V220.5M129.81 58.8V220.5M132.33 58.8V220.5M134.84 58.8V220.5M137.36 58.8V220.5M139.87 58.8V220.5M142.39 58.8V220.5M144.9 58.8V220.5M147.42 58.8V220.5M149.93 58.8V220.5M152.45 58.8V220.5M154.97 58.8V220.5M157.48 58.8V220.5M160 58.8V220.5M162.51 58.8V220.5M165.03 58.8V220.5M167.54 58.8V220.5M170.06 58.8V220.5M172.57 58.8V220.5M175.09 58.8V220.5M177.6 58.8V220.5M180.12 58.8V220.5M182.64 58.8V220.5M185.15 58.8V220.5M187.67 58.8V220.5M190.18 58.8V220.5M192.7 58.8V220.5M195.21 58.8V220.5M197.73 58.8V220.5M200.24 58.8V220.5M202.76 58.8V220.5M205.28 58.8V220.5M207.79 58.8V220.5M210.31 58.8V220.5M212.82 58.8V220.5M215.34 58.8V220.5M217.85 58.8V220.5M220.37 58.8V220.5M222.88 58.8V220.5M225.4 58.8V220.5M227.91 58.8V220.5M230.43 58.8V220.5M232.95 58.8V220.5M235.46 58.8V220.5M237.98 58.8V220.5M240.49 58.8V220.5M243.01 58.8V220.5M245.52 58.8V220.5M248.04 58.8V220.5M250.55 58.8V220.5M253.07 58.8V220.5M255.59 58.8V220.5M258.1 58.8V220.5M260.62 58.8V220.5M263.13 58.8V220.5M265.65 58.8V220.5M268.16 58.8V220.5M270.68 58.8V220.5M273.19 58.8V220.5M275.71 58.8V220.5M278.22 58.8V220.5M280.74 58.8V220.5M283.26 58.8V220.5M285.77 58.8V220.5M288.29 58.8V220.5M290.8 58.8V220.5M293.32 58.8V220.5M295.83 58.8V220.5M298.35 58.8V220.5M300.86 58.8V220.5M303.38 58.8V220.5M305.9 58.8V220.5M308.41 58.8V220.5M310.93 58.8V220.5M313.44 58.8V220.5M315.96 58.8V220.5M318.47 58.8V220.5M320.99 58.8V220.5M323.5 58.8V220.5M326.02 58.8V220.5M328.53 58.8V220.5M331.05 58.8V220.5M333.57 58.8V220.5M336.08 58.8V220.5M338.6 58.8V220.5M341.11 58.8V220.5M343.63 58.8V220.5M346.14 58.8V220.5M348.66 58.8V220.5M351.17 58.8V220.5M353.69 58.8V220.5M356.21 58.8V220.5M358.72 58.8V220.5M361.24 58.8V220.5M363.75 58.8V220.5M366.27 58.8V220.5M368.78 58.8V220.5M371.3 58.8V220.5M373.81 58.8V220.5M376.33 58.8V220.5M378.84 58.8V220.5M381.36 58.8V220.5M383.88 58.8V220.5M386.39 58.8V220.5M388.91 58.8V220.5M391.42 58.8V220.5M393.94 58.8V220.5M396.45 58.8V220.5M398.97 58.8V220.5M401.48 58.8V220.5M404 58.8V220.5M406.52 58.8V220.5M409.03 58.8V220.5M411.55 58.8V220.5M414.06 58.8V220.5M416.58 58.8V220.5M419.09 58.8V220.5M421.61 58.8V220.5M424.12 58.8V220.5M426.64 58.8V220.5M429.15 58.8V220.5M431.67 58.8V220.5M434.19 58.8V220.5M436.7 58.8V220.5M439.22 58.8V220.5M441.73 58.8V220.5M444.25 58.8V220.5M446.76 58.8V220.5M449.28 58.8V220.5M451.79 58.8V220.5M454.31 58.8V220.5M456.83 58.8V220.5M459.34 58.8V220.5M461.86 58.8V220.5M464.37 58.8V220.5M466.89 58.8V220.5M469.4 58.8V220.5M471.92 58.8V220.5M474.43 58.8V220.5M476.95 58.8V220.5M479.46 58.8V220.5M481.98 58.8V220.5M484.5 58.8V220.5M487.01 58.8V220.5M489.53 58.8V220.5M492.04 58.8V220.5M494.56 58.8V220.5M497.07 58.8V220.5M499.59 58.8V220.5M502.1 58.8V220.5M504.62 58.8V220.5M507.14 58.8V220.5M509.65 58.8V220.5M512.17 58.8V220.5M514.68 58.8V220.5M517.2 58.8V220.5M519.71 58.8V220.5M522.23 58.8V220.5M524.74 58.8V220.5M527.26 58.8V220.5M529.77 58.8V220.5M532.29 58.8V220.5M534.81 58.8V220.5M537.32 58.8V220.5M539.84 58.8V220.5M542.35 58.8V220.5M544.87 58.8V220.5M547.38 58.8V220.5M549.9 58.8V220.5M552.41 58.8V220.5M554.93 58.8V220.5M557.45 58.8V220.5M559.96 58.8V220.5M562.48 58.8V220.5M564.99 58.8V220.5M567.51 58.8V220.5M570.02 58.8V220.5M572.54 58.8V220.5M575.05 58.8V220.5M577.57 58.8V220.5M580.08 58.8V220.5M582.6 58.8V220.5M79.5 58.8H582.6M79.5 68.31H582.6M79.5 77.82H582.6M79.5 87.34H582.6M79.5 96.85H582.6M79.5 106.36H582.6M79.5 115.87H582.6M79.5 125.38H582.6M79.5 134.89H582.6M79.5 144.41H582.6M79.5 153.92H582.6M79.5 163.43H582.6M79.5 172.94H582.6M79.5 182.45H582.6M79.5 191.96H582.6M79.5 201.48H582.6M79.5 210.99H582.6M79.5 220.5H582.6" stroke="#000" stroke-opacity="0.62" stroke-width="0.55" fill="none"/>
</g>
<text x="73.8" y="65.03" font-size="5.75" text-anchor="end" font-weight="normal" stroke="#111" stroke-width="0.16" >STCase (Non-Stringent)</text>
<text x="73.8" y="74.54" font-size="5.75" text-anchor="end" font-weight="normal" stroke="#111" stroke-width="0.16" >STCase (Stringent)</text>
<text x="73.8" y="84.05" font-size="5.75" text-anchor="end" font-weight="normal" stroke="#111" stroke-width="0.16" >CellChat v2</text>
<text x="73.8" y="93.56" font-size="5.75" text-anchor="end" font-weight="normal" stroke="#111" stroke-width="0.16" >Over four overlapping</text>
<text x="73.8" y="103.07" font-size="5.75" text-anchor="end" font-weight="normal" stroke="#111" stroke-width="0.16" >Over five overlapping</text>
<text x="73.8" y="112.58" font-size="5.75" text-anchor="end" font-weight="normal" stroke="#111" stroke-width="0.16" >Over three overlapping</text>
<text x="73.8" y="122.1" font-size="5.75" text-anchor="end" font-weight="normal" stroke="#111" stroke-width="0.16" >COMMOT</text>
<text x="73.8" y="131.61" font-size="5.75" text-anchor="end" font-weight="normal" stroke="#111" stroke-width="0.16" >stLearn</text>
<text x="73.8" y="141.12" font-size="5.75" text-anchor="end" font-weight="normal" stroke="#111" stroke-width="0.16" >SpaTalk</text>
<text x="73.8" y="150.63" font-size="5.75" text-anchor="end" font-weight="normal" stroke="#111" stroke-width="0.16" >Over two overlapping</text>
<text x="73.8" y="160.14" font-size="5.75" text-anchor="end" font-weight="normal" stroke="#111" stroke-width="0.16" >SpaTalk (downstream)</text>
<text x="73.8" y="169.66" font-size="5.75" text-anchor="end" font-weight="normal" stroke="#111" stroke-width="0.16" >NicheNet</text>
<text x="73.8" y="179.17" font-size="5.75" text-anchor="end" font-weight="normal" stroke="#111" stroke-width="0.16" >HoloNet</text>
<text x="73.8" y="188.68" font-size="5.75" text-anchor="end" font-weight="normal" stroke="#111" stroke-width="0.16" >ICELLNET v2</text>
<text x="73.8" y="198.19" font-size="5.75" text-anchor="end" font-weight="normal" stroke="#111" stroke-width="0.16" >SpatialDM</text>
<text x="73.8" y="207.7" font-size="5.75" text-anchor="end" font-weight="normal" stroke="#111" stroke-width="0.16" >CellphoneDB v5</text>
<text x="73.8" y="217.21" font-size="5.75" text-anchor="end" font-weight="normal" stroke="#111" stroke-width="0.16" >Giotto</text>
<path d="M76.6 63.56H78.9M76.6 73.07H78.9M76.6 82.58H78.9M76.6 92.09H78.9M76.6 101.6H78.9M76.6 111.11H78.9M76.6 120.63H78.9M76.6 130.14H78.9M76.6 139.65H78.9M76.6 149.16H78.9M76.6 158.67H78.9M76.6 168.19H78.9M76.6 177.7H78.9M76.6 187.21H78.9M76.6 196.72H78.9M76.6 206.23H78.9M76.6 215.74H78.9" stroke="#111" stroke-width="0.85"/>
<text x="7.4" y="146.8" font-size="8.2" text-anchor="middle" font-weight="normal" stroke="#111" stroke-width="0.16" transform="rotate(-90 7.4 146.8)">Methods</text>
<text x="331.1" y="233.1" font-size="8" text-anchor="middle" font-weight="normal" stroke="#111" stroke-width="0.16" >Cell type pairs</text>
<path d="M88.3 58.8V49.56H90.82V58.8M85.79 58.8V45H89.56V49.56M93.34 58.8V52.54H95.85V58.8M94.59 52.54V51.62H98.37V58.8M103.4 58.8V53.92H105.91V58.8M100.88 58.8V49.33H104.66V53.92M96.48 51.62V45.5H102.77V49.33M110.94 58.8V53.77H113.46V58.8M108.43 58.8V50.76H112.2V53.77M99.62 45.5V44.7H110.31V50.76M115.97 58.8V53.48H118.49V58.8M117.23 53.48V50.42H121.01V58.8M119.12 50.42V47.47H123.52V58.8M128.55 58.8V52.54H131.07V58.8M133.58 58.8V54.26H136.1V58.8M138.61 58.8V54.37H141.13V58.8M134.84 54.26V50.42H139.87V54.37M129.81 52.54V48.59H137.36V50.42M126.04 58.8V47.79H133.58V48.59M143.65 58.8V52.64H146.16V58.8M129.81 47.79V46.99H144.9V52.64M148.68 58.8V54.47H151.19V58.8M137.36 46.99V46.19H149.93V54.47M121.32 47.47V42.45H143.65V46.19M153.71 58.8V53.03H156.22V58.8M154.97 53.03V50.17H158.74V58.8M161.25 58.8V53.6H163.77V58.8M156.85 50.17V46.35H162.51V53.6M132.48 42.45V40.27H159.68V46.35M104.97 44.7V35.1H146.08V40.27M87.68 45V32H125.53V35.1M171.32 58.8V54.09H173.83V58.8M168.8 58.8V49.98H172.57V54.09M166.28 58.8V49.17H170.69V49.98M176.35 58.8V54.01H178.86V58.8M181.38 58.8V53.39H183.89V58.8M182.64 53.39V51.57H186.41V58.8M177.6 54.01V49.82H184.52V51.57M168.49 49.17V45.46H181.06V49.82M188.92 58.8V53.26H191.44V58.8M196.47 58.8V54H198.99V58.8M193.96 58.8V51.28H197.73V54M190.18 53.26V49.58H195.84V51.28M174.77 45.46V44.66H193.01V49.58M201.5 58.8V53.31H204.02V58.8M202.76 53.31V52.51H206.53V58.8M211.56 58.8V53.17H214.08V58.8M209.05 58.8V51.9H212.82V53.17M210.93 51.9V50.08H216.59V58.8M204.65 52.51V45.57H213.76V50.08M183.89 44.66V43.86H209.21V45.57M221.63 58.8V53.21H224.14V58.8M222.88 53.21V52.41H226.66V58.8M219.11 58.8V49.32H224.77V52.41M196.55 43.86V36.5H221.94V49.32M229.17 58.8V51.29H231.69V58.8M234.2 58.8V53.75H236.72V58.8M235.46 53.75V50.12H239.23V58.8M241.75 58.8V52.87H244.27V58.8M246.78 58.8V53.01H249.3V58.8M254.33 58.8V52.92H256.84V58.8M251.81 58.8V49.55H255.59V52.92M248.04 53.01V48.29H253.7V49.55M243.01 52.87V44.53H250.87V48.29M237.35 50.12V38.71H246.94V44.53M230.43 51.29V37.5H242.14V38.71M209.24 36.5V32.2H236.29V37.5M106.6 32V31.2H222.77V32.2M261.87 58.8V54.2H264.39V58.8M259.36 58.8V48.89H263.13V54.2M266.9 58.8V53.1H269.42V58.8M261.24 48.89V45.7H268.16V53.1M271.94 58.8V53.74H274.45V58.8M276.97 58.8V52.67H279.48V58.8M273.19 53.74V49.55H278.22V52.67M264.7 45.7V44.9H275.71V49.55M282 58.8V52.23H284.51V58.8M287.03 58.8V53.07H289.54V58.8M283.26 52.23V50.43H288.29V53.07M292.06 58.8V52.47H294.58V58.8M293.32 52.47V49.21H297.09V58.8M302.12 58.8V53.68H304.64V58.8M299.61 58.8V52.12H303.38V53.68M295.2 49.21V48.41H301.49V52.12M307.15 58.8V53.78H309.67V58.8M312.18 58.8V52.41H314.7V58.8M308.41 53.78V46.81H313.44V52.41M298.35 48.41V44.59H310.93V46.81M285.77 50.43V43.79H304.64V44.59M317.21 58.8V53.07H319.73V58.8M318.47 53.07V51.01H322.25V58.8M295.2 43.79V42.99H320.36V51.01M270.21 44.9V35H307.78V42.99M324.76 58.8V53.54H327.28V58.8M329.79 58.8V53.36H332.31V58.8M326.02 53.54V49.14H331.05V53.36M337.34 58.8V53.36H339.85V58.8M334.82 58.8V51.23H338.6V53.36M336.71 51.23V47.38H342.37V58.8M344.89 58.8V53.12H347.4V58.8M346.14 53.12V49.66H349.92V58.8M352.43 58.8V52.57H354.95V58.8M348.03 49.66V48.86H353.69V52.57M339.54 47.38V45.97H350.86V48.86M357.46 58.8V53.06H359.98V58.8M362.49 58.8V52.71H365.01V58.8M358.72 53.06V49.93H363.75V52.71M367.52 58.8V53.81H370.04V58.8M368.78 53.81V50.57H372.56V58.8M370.67 50.57V48.28H375.07V58.8M380.1 58.8V53.31H382.62V58.8M385.13 58.8V53.47H387.65V58.8M386.39 53.47V49.75H390.16V58.8M381.36 53.31V47.52H388.28V49.75M377.59 58.8V46.01H384.82V47.52M372.87 48.28V44.98H381.2V46.01M361.24 49.93V44.18H377.04V44.98M392.68 58.8V52.18H395.2V58.8M369.14 44.18V43.38H393.94V52.18M345.2 45.97V40.58H381.54V43.38M328.53 49.14V34H363.37V40.58M288.99 35V31.8H345.95V34M400.23 58.8V52.96H402.74V58.8M407.77 58.8V53.16H410.29V58.8M405.26 58.8V51.36H409.03V53.16M412.8 58.8V54.45H415.32V58.8M414.06 54.45V50.65H417.83V58.8M415.95 50.65V49.44H420.35V58.8M407.14 51.36V48.64H418.15V49.44M401.48 52.96V47.33H412.65V48.64M397.71 58.8V45.2H407.07V47.33M425.38 58.8V53.62H427.9V58.8M422.87 58.8V52.26H426.64V53.62M430.41 58.8V54.71H432.93V58.8M424.75 52.26V49.41H431.67V54.71M402.39 45.2V44.01H428.21V49.41M435.44 58.8V54.51H437.96V58.8M440.47 58.8V53.73H442.99V58.8M441.73 53.73V52.43H445.51V58.8M436.7 54.51V49.06H443.62V52.43M448.02 58.8V54.75H450.54V58.8M440.16 49.06V47.74H449.28V54.75M453.05 58.8V54.53H455.57V58.8M454.31 54.53V51.17H458.08V58.8M460.6 58.8V53.64H463.11V58.8M461.86 53.64V50.18H465.63V58.8M456.2 51.17V45.4H463.74V50.18M444.72 47.74V43.3H459.97V45.4M452.34 43.3V42.5H468.14V58.8M415.3 44.01V41.7H460.24V42.5M473.18 58.8V54.56H475.69V58.8M470.66 58.8V52.55H474.43V54.56M478.21 58.8V54.27H480.72V58.8M479.46 54.27V51.24H483.24V58.8M472.55 52.55V47.34H481.35V51.24M485.75 58.8V54.34H488.27V58.8M490.78 58.8V53.11H493.3V58.8M487.01 54.34V50.38H492.04V53.11M476.95 47.34V46.54H489.53V50.38M495.82 58.8V54.17H498.33V58.8M503.36 58.8V52.74H505.88V58.8M510.91 58.8V54.03H513.42V58.8M508.39 58.8V51.25H512.17V54.03M504.62 52.74V46.79H510.28V51.25M520.97 58.8V54.14H523.49V58.8M518.45 58.8V51.38H522.23V54.14M515.94 58.8V50.58H520.34V51.38M507.45 46.79V45.84H518.14V50.58M500.85 58.8V44.6H512.79V45.84M526 58.8V54.28H528.52V58.8M527.26 54.28V51.51H531.03V58.8M533.55 58.8V53.26H536.06V58.8M538.58 58.8V53.29H541.09V58.8M534.81 53.26V48.13H539.84V53.29M529.15 51.51V45.99H537.32V48.13M506.82 44.6V43.62H533.23V45.99M497.07 54.17V42.82H520.03V43.62M543.61 58.8V54.71H546.13V58.8M544.87 54.71V50.42H548.64V58.8M546.75 50.42V48.76H551.16V58.8M553.67 58.8V53.58H556.19V58.8M554.93 53.58V51.52H558.7V58.8M561.22 58.8V53.69H563.73V58.8M562.48 53.69V52.27H566.25V58.8M564.36 52.27V50.23H568.76V58.8M556.82 51.52V46.89H566.56V50.23M548.96 48.76V44.32H561.69V46.89M508.55 42.82V42.02H555.32V44.32M571.28 58.8V54.61H573.8V58.8M578.83 58.8V53.75H581.34V58.8M576.31 58.8V52.71H580.08V53.75M572.54 54.61V49.98H578.2V52.71M531.94 42.02V41.22H575.37V49.98M483.24 46.54V40.42H553.65V41.22M437.77 41.7V31.5H518.44V40.42M317.47 31.8V29.2H478.11V31.5M164.68 31.2V27.7H397.79V29.2M83.27 58.8V22.3H281.24V27.7M80.76 58.8V20.2H182.26V22.3" stroke="#3a3a3a" stroke-width="0.6" fill="none"/>
<defs><linearGradient id="ga" x1="0" x2="1" y1="0" y2="0">
<stop offset="0" stop-color="#b3192d"/>
<stop offset="0.1" stop-color="#d73027"/>
<stop offset="0.2" stop-color="#f46d43"/>
<stop offset="0.3" stop-color="#fdae61"/>
<stop offset="0.4" stop-color="#fee090"/>
<stop offset="0.5" stop-color="#ffffbf"/>
<stop offset="0.6" stop-color="#e0f3f8"/>
<stop offset="0.7" stop-color="#abd9e9"/>
<stop offset="0.8" stop-color="#74add1"/>
<stop offset="0.9" stop-color="#4575b4"/>
<stop offset="1" stop-color="#313695"/>
</linearGradient></defs>
<rect x="601.8" y="33.2" width="63.2" height="6.9" fill="url(#ga)"/>
<text x="633.4" y="31.3" font-size="5.75" text-anchor="middle" font-weight="normal" stroke="#111" stroke-width="0.16" >False-positive rate</text>
<text x="601.8" y="48.3" font-size="5.5" text-anchor="middle" font-weight="normal" stroke="#111" stroke-width="0.16" >0%</text>
<text x="614.44" y="48.3" font-size="5.5" text-anchor="middle" font-weight="normal" stroke="#111" stroke-width="0.16" >20%</text>
<text x="627.08" y="48.3" font-size="5.5" text-anchor="middle" font-weight="normal" stroke="#111" stroke-width="0.16" >40%</text>
<text x="639.72" y="48.3" font-size="5.5" text-anchor="middle" font-weight="normal" stroke="#111" stroke-width="0.16" >60%</text>
<text x="652.36" y="48.3" font-size="5.5" text-anchor="middle" font-weight="normal" stroke="#111" stroke-width="0.16" >80%</text>
<text x="665" y="48.3" font-size="5.5" text-anchor="middle" font-weight="normal" stroke="#111" stroke-width="0.16" >100%</text>
<path d="M601.8 38.9V40.9M614.44 38.9V40.9M627.08 38.9V40.9M639.72 38.9V40.9M652.36 38.9V40.9M665 38.9V40.9" stroke="#222" stroke-width="0.6"/>
<path d="M584.5 58.3V220.8" stroke="#c4c4c4" stroke-width="0.9"/>
<path d="M583.1 64.6H584.5M583.1 74H584.5M583.1 83.4H584.5M583.1 92.8H584.5M583.1 102.2H584.5M583.1 111.6H584.5M583.1 121H584.5M583.1 130.4H584.5M583.1 139.8H584.5M583.1 149.2H584.5M583.1 158.6H584.5M583.1 168H584.5M583.1 177.4H584.5M583.1 186.8H584.5M583.1 196.2H584.5M583.1 205.6H584.5M583.1 215H584.5" stroke="#555" stroke-width="0.6"/>
<path d="M634.5 58.3V220.8" stroke="#b4b4b4" stroke-width="0.9"/>
<path d="M633.1 64.6H634.5M633.1 74H634.5M633.1 83.4H634.5M633.1 92.8H634.5M633.1 102.2H634.5M633.1 111.6H634.5M633.1 121H634.5M633.1 130.4H634.5M633.1 139.8H634.5M633.1 149.2H634.5M633.1 158.6H634.5M633.1 168H634.5M633.1 177.4H634.5M633.1 186.8H634.5M633.1 196.2H634.5M633.1 205.6H634.5M633.1 215H634.5" stroke="#555" stroke-width="0.6"/>
<path d="M584.8 220.8H633.5M634.6 220.8H683" stroke="#444" stroke-width="0.6"/>
<path d="M586.8 220.8V222.3M597.92 220.8V222.3M609.05 220.8V222.3M620.17 220.8V222.3M631.3 220.8V222.3" stroke="#444" stroke-width="0.5"/>
<text x="588.96" y="224.2" font-size="6.0" text-anchor="end" font-weight="normal" stroke="#111" stroke-width="0.16" transform="rotate(-90 588.96 224.2)">0%</text>
<text x="600.08" y="224.2" font-size="6.0" text-anchor="end" font-weight="normal" stroke="#111" stroke-width="0.16" transform="rotate(-90 600.08 224.2)">25%</text>
<text x="611.21" y="224.2" font-size="6.0" text-anchor="end" font-weight="normal" stroke="#111" stroke-width="0.16" transform="rotate(-90 611.21 224.2)">50%</text>
<text x="622.33" y="224.2" font-size="6.0" text-anchor="end" font-weight="normal" stroke="#111" stroke-width="0.16" transform="rotate(-90 622.33 224.2)">75%</text>
<text x="633.46" y="224.2" font-size="6.0" text-anchor="end" font-weight="normal" stroke="#111" stroke-width="0.16" transform="rotate(-90 633.46 224.2)">100%</text>
<path d="M637.1 220.8V222.3M646.77 220.8V222.3M656.44 220.8V222.3M666.11 220.8V222.3M675.78 220.8V222.3" stroke="#444" stroke-width="0.5"/>
<text x="639.26" y="224.2" font-size="6.0" text-anchor="end" font-weight="normal" stroke="#111" stroke-width="0.16" transform="rotate(-90 639.26 224.2)">0</text>
<text x="648.93" y="224.2" font-size="6.0" text-anchor="end" font-weight="normal" stroke="#111" stroke-width="0.16" transform="rotate(-90 648.93 224.2)">100</text>
<text x="658.6" y="224.2" font-size="6.0" text-anchor="end" font-weight="normal" stroke="#111" stroke-width="0.16" transform="rotate(-90 658.6 224.2)">200</text>
<text x="668.27" y="224.2" font-size="6.0" text-anchor="end" font-weight="normal" stroke="#111" stroke-width="0.16" transform="rotate(-90 668.27 224.2)">300</text>
<text x="677.94" y="224.2" font-size="6.0" text-anchor="end" font-weight="normal" stroke="#111" stroke-width="0.16" transform="rotate(-90 677.94 224.2)">400</text>
<text x="609.5" y="252.6" font-size="5.7" text-anchor="middle" font-weight="normal" stroke="#111" stroke-width="0.16" >False-positive rate</text>
<text x="639.7" y="249" font-size="5.7" text-anchor="start" font-weight="normal" stroke="#111" stroke-width="0.16" >Accurate</text>
<text x="677.4" y="249" font-size="5.7" text-anchor="end" font-weight="normal" stroke="#111" stroke-width="0.16" >CCC</text>
<text x="658.5" y="257" font-size="5.7" text-anchor="middle" font-weight="normal" stroke="#111" stroke-width="0.16" >events number</text>
<rect x="586.2" y="60.9" width="1.4" height="7.4" fill="#e8606c" stroke="#963e46" stroke-width="0.45"/>
<path d="M586.5 60.9V68.3" stroke="#743036" stroke-width="0.6"/>
<circle cx="589.5" cy="64.6" r="0.85" fill="#111"/>
<circle cx="591.9" cy="64.6" r="0.85" fill="#111"/>
<circle cx="597.5" cy="64.6" r="0.85" fill="#111"/>
<circle cx="600.7" cy="64.6" r="0.85" fill="#111"/>
<circle cx="608.7" cy="64.6" r="0.85" fill="#111"/>
<circle cx="611.9" cy="64.6" r="0.85" fill="#111"/>
<circle cx="620" cy="64.6" r="0.85" fill="#111"/>
<circle cx="631.2" cy="64.6" r="0.85" fill="#111"/>
<rect x="586.2" y="71" width="1.4" height="6" fill="#333333" stroke="#212121" stroke-width="0.45"/>
<circle cx="588.4" cy="74" r="0.85" fill="#111"/>
<circle cx="590" cy="74" r="0.85" fill="#111"/>
<circle cx="597.5" cy="74" r="0.85" fill="#111"/>
<circle cx="600.7" cy="74" r="0.85" fill="#111"/>
<circle cx="608.7" cy="74" r="0.85" fill="#111"/>
<circle cx="611.9" cy="74" r="0.85" fill="#111"/>
<circle cx="620.5" cy="74" r="0.85" fill="#111"/>
<circle cx="631.2" cy="74" r="0.85" fill="#111"/>
<path d="M586.4 79.8V87" stroke="#777" stroke-width="0.6" stroke-dasharray="1.2 0.6"/>
<path d="M586.4 89.2V96.4" stroke="#777" stroke-width="0.6" stroke-dasharray="1.2 0.6"/>
<circle cx="601.5" cy="92.8" r="0.85" fill="#111"/>
<circle cx="608.7" cy="92.8" r="0.85" fill="#111"/>
<circle cx="631.2" cy="92.8" r="0.85" fill="#111"/>
<path d="M586.4 98.6V105.8" stroke="#777" stroke-width="0.6" stroke-dasharray="1.2 0.6"/>
<path d="M586.2 111.6H631.2" stroke="#9a9a9a" stroke-width="0.6"/>
<rect x="586.2" y="107.9" width="30.6" height="7.4" fill="#6baed6" stroke="#45718b" stroke-width="0.45"/>
<path d="M601.5 107.9V115.3" stroke="#35576b" stroke-width="0.6"/>
<path d="M587 121H631.2" stroke="#9a9a9a" stroke-width="0.6"/>
<rect x="595.9" y="117.3" width="18" height="7.4" fill="#4cb04a" stroke="#317230" stroke-width="0.45"/>
<path d="M604.7 117.3V124.7" stroke="#265825" stroke-width="0.6"/>
<path d="M589.5 130.4H631.2" stroke="#9a9a9a" stroke-width="0.6"/>
<rect x="608.7" y="126.7" width="14.8" height="7.4" fill="#c9aee6" stroke="#827195" stroke-width="0.45"/>
<path d="M617.6 126.7V134.1" stroke="#645773" stroke-width="0.6"/>
<circle cx="586.6" cy="130.4" r="0.85" fill="#111"/>
<path d="M596 139.8H631.2" stroke="#9a9a9a" stroke-width="0.6"/>
<rect x="612.3" y="136.1" width="16" height="7.4" fill="#9d81d8" stroke="#66538c" stroke-width="0.45"/>
<path d="M620.8 136.1V143.5" stroke="#4e406c" stroke-width="0.6"/>
<circle cx="586.6" cy="139.8" r="0.85" fill="#111"/>
<path d="M595.2 149.2H631.5" stroke="#9a9a9a" stroke-width="0.6"/>
<rect x="617" y="145.5" width="14.5" height="7.4" fill="#a6dcee" stroke="#6b8f9a" stroke-width="0.45"/>
<path d="M624.6 145.5V152.9" stroke="#536e77" stroke-width="0.6"/>
<circle cx="594.9" cy="149.2" r="0.85" fill="#111"/>
<path d="M586.8 158.6H631.5" stroke="#9a9a9a" stroke-width="0.6"/>
<rect x="613.3" y="154.9" width="18.2" height="7.4" fill="#6a3db8" stroke="#442777" stroke-width="0.45"/>
<path d="M626.2 154.9V162.3" stroke="#351e5c" stroke-width="0.6"/>
<path d="M610.3 168H631.5" stroke="#9a9a9a" stroke-width="0.6"/>
<rect x="624" y="164.3" width="7.5" height="7.4" fill="#f07d2c" stroke="#9c511c" stroke-width="0.45"/>
<path d="M627.9 164.3V171.7" stroke="#783e16" stroke-width="0.6"/>
<circle cx="598.5" cy="168" r="0.85" fill="#111"/>
<circle cx="606.1" cy="168" r="0.85" fill="#111"/>
<circle cx="609.4" cy="168" r="0.85" fill="#111"/>
<path d="M614.5 177.4H631.5" stroke="#9a9a9a" stroke-width="0.6"/>
<rect x="625" y="173.7" width="6.5" height="7.4" fill="#ee8a98" stroke="#9a5962" stroke-width="0.45"/>
<path d="M629.6 173.7V181.1" stroke="#77454c" stroke-width="0.6"/>
<circle cx="586.2" cy="177.4" r="0.85" fill="#111"/>
<circle cx="590" cy="177.4" r="0.85" fill="#111"/>
<circle cx="592.5" cy="177.4" r="0.85" fill="#111"/>
<circle cx="595" cy="177.4" r="0.85" fill="#111"/>
<circle cx="600.5" cy="177.4" r="0.85" fill="#111"/>
<circle cx="603" cy="177.4" r="0.85" fill="#111"/>
<circle cx="606" cy="177.4" r="0.85" fill="#111"/>
<circle cx="613.2" cy="177.4" r="0.85" fill="#111"/>
<path d="M617 186.8H631.3" stroke="#9a9a9a" stroke-width="0.6"/>
<rect x="625" y="183.1" width="6.3" height="7.4" fill="#a8df8e" stroke="#6d905c" stroke-width="0.45"/>
<path d="M629.5 183.1V190.5" stroke="#546f47" stroke-width="0.6"/>
<circle cx="602.7" cy="186.8" r="0.85" fill="#111"/>
<circle cx="605.5" cy="186.8" r="0.85" fill="#111"/>
<circle cx="608.5" cy="186.8" r="0.85" fill="#111"/>
<circle cx="611.5" cy="186.8" r="0.85" fill="#111"/>
<circle cx="615.3" cy="186.8" r="0.85" fill="#111"/>
<path d="M620.4 196.2H631.5" stroke="#9a9a9a" stroke-width="0.6"/>
<rect x="626.2" y="192.5" width="5.3" height="7.4" fill="#5cba9c" stroke="#3b7865" stroke-width="0.45"/>
<path d="M629 192.5V199.9" stroke="#2e5d4e" stroke-width="0.6"/>
<circle cx="590" cy="196.2" r="0.85" fill="#111"/>
<circle cx="595" cy="196.2" r="0.85" fill="#111"/>
<circle cx="598.5" cy="196.2" r="0.85" fill="#111"/>
<circle cx="602" cy="196.2" r="0.85" fill="#111"/>
<circle cx="605" cy="196.2" r="0.85" fill="#111"/>
<circle cx="609" cy="196.2" r="0.85" fill="#111"/>
<circle cx="612" cy="196.2" r="0.85" fill="#111"/>
<circle cx="615" cy="196.2" r="0.85" fill="#111"/>
<circle cx="618.7" cy="196.2" r="0.85" fill="#111"/>
<path d="M586.8 205.6H631.5" stroke="#9a9a9a" stroke-width="0.6"/>
<rect x="612.8" y="201.9" width="18.7" height="7.4" fill="#e8956f" stroke="#966048" stroke-width="0.45"/>
<path d="M631.2 201.9V209.3" stroke="#744a37" stroke-width="0.6"/>
<path d="M586.8 215H631.5" stroke="#9a9a9a" stroke-width="0.6"/>
<rect x="609" y="211.3" width="22.5" height="7.4" fill="#dca0a6" stroke="#8f686b" stroke-width="0.45"/>
<path d="M631.2 211.3V218.7" stroke="#6e5053" stroke-width="0.6"/>
<path d="M637.2 61.8V67.4" stroke="#222" stroke-width="0.7"/>
<circle cx="637.3" cy="64.6" r="1.1" fill="#111"/>
<circle cx="638.64" cy="64.6" r="1.1" fill="#111"/>
<circle cx="639.98" cy="64.6" r="1.1" fill="#111"/>
<circle cx="641.32" cy="64.6" r="1.1" fill="#111"/>
<circle cx="642.66" cy="64.6" r="1.1" fill="#111"/>
<circle cx="644" cy="64.6" r="1.1" fill="#111"/>
<path d="M637.2 71.2V76.8" stroke="#222" stroke-width="0.7"/>
<circle cx="637.3" cy="74" r="1.1" fill="#111"/>
<circle cx="638.72" cy="74" r="1.1" fill="#111"/>
<circle cx="640.15" cy="74" r="1.1" fill="#111"/>
<circle cx="641.58" cy="74" r="1.1" fill="#111"/>
<circle cx="643" cy="74" r="1.1" fill="#111"/>
<path d="M637.2 80.6V86.2" stroke="#222" stroke-width="0.7"/>
<circle cx="637.5" cy="83.4" r="1.1" fill="#111"/>
<path d="M637.2 90V95.6" stroke="#222" stroke-width="0.7"/>
<circle cx="637" cy="92.8" r="1.1" fill="#111"/>
<circle cx="638" cy="92.8" r="1.1" fill="#111"/>
<circle cx="639" cy="92.8" r="1.1" fill="#111"/>
<path d="M637.2 99.4V105" stroke="#222" stroke-width="0.7"/>
<circle cx="637.5" cy="102.2" r="1.1" fill="#111"/>
<path d="M637.2 108.8V114.4" stroke="#222" stroke-width="0.7"/>
<circle cx="637.5" cy="111.6" r="1.1" fill="#111"/>
<circle cx="638.96" cy="111.6" r="1.1" fill="#111"/>
<circle cx="640.42" cy="111.6" r="1.1" fill="#111"/>
<circle cx="641.88" cy="111.6" r="1.1" fill="#111"/>
<circle cx="643.34" cy="111.6" r="1.1" fill="#111"/>
<circle cx="644.8" cy="111.6" r="1.1" fill="#111"/>
<path d="M637.2 118.2V123.8" stroke="#222" stroke-width="0.7"/>
<circle cx="637.2" cy="121" r="1.1" fill="#111"/>
<circle cx="638.62" cy="121" r="1.1" fill="#111"/>
<circle cx="640.03" cy="121" r="1.1" fill="#111"/>
<circle cx="641.45" cy="121" r="1.1" fill="#111"/>
<circle cx="642.87" cy="121" r="1.1" fill="#111"/>
<circle cx="644.28" cy="121" r="1.1" fill="#111"/>
<circle cx="645.7" cy="121" r="1.1" fill="#111"/>
<path d="M637.2 127.6V133.2" stroke="#222" stroke-width="0.7"/>
<circle cx="637.5" cy="130.4" r="1.1" fill="#111"/>
<circle cx="639" cy="130.4" r="1.1" fill="#111"/>
<circle cx="640.5" cy="130.4" r="1.1" fill="#111"/>
<circle cx="642" cy="130.4" r="1.1" fill="#111"/>
<circle cx="644.8" cy="130.4" r="1.1" fill="#111"/>
<circle cx="646.4" cy="130.4" r="1.1" fill="#111"/>
<circle cx="648" cy="130.4" r="1.1" fill="#111"/>
<circle cx="653.7" cy="130.4" r="1.1" fill="#111"/>
<path d="M637.2 137V142.6" stroke="#222" stroke-width="0.7"/>
<circle cx="637.5" cy="139.8" r="1.1" fill="#111"/>
<circle cx="639.12" cy="139.8" r="1.1" fill="#111"/>
<circle cx="640.75" cy="139.8" r="1.1" fill="#111"/>
<circle cx="642.38" cy="139.8" r="1.1" fill="#111"/>
<circle cx="644" cy="139.8" r="1.1" fill="#111"/>
<circle cx="646.5" cy="139.8" r="1.1" fill="#111"/>
<circle cx="649" cy="139.8" r="1.1" fill="#111"/>
<path d="M637.1 149.2H640.5" stroke="#9a9a9a" stroke-width="0.6"/>
<rect x="637.1" y="146" width="1.7" height="6.4" fill="#a6dcee" stroke="#6b8f9a" stroke-width="0.45"/>
<path d="M637.9 146V152.4" stroke="#536e77" stroke-width="0.6"/>
<circle cx="640.5" cy="149.2" r="0.95" fill="#111"/>
<circle cx="642.18" cy="149.2" r="0.95" fill="#111"/>
<circle cx="643.87" cy="149.2" r="0.95" fill="#111"/>
<circle cx="645.55" cy="149.2" r="0.95" fill="#111"/>
<circle cx="647.23" cy="149.2" r="0.95" fill="#111"/>
<circle cx="648.92" cy="149.2" r="0.95" fill="#111"/>
<circle cx="650.6" cy="149.2" r="0.95" fill="#111"/>
<circle cx="654.8" cy="149.2" r="0.95" fill="#111"/>
<circle cx="659" cy="149.2" r="0.95" fill="#111"/>
<path d="M637.2 155.8V161.4" stroke="#222" stroke-width="0.7"/>
<circle cx="637" cy="158.6" r="1.1" fill="#111"/>
<circle cx="638.5" cy="158.6" r="1.1" fill="#111"/>
<circle cx="640" cy="158.6" r="1.1" fill="#111"/>
<path d="M637.2 165.2V170.8" stroke="#222" stroke-width="0.7"/>
<circle cx="638" cy="168" r="1.1" fill="#111"/>
<circle cx="639.33" cy="168" r="1.1" fill="#111"/>
<circle cx="640.67" cy="168" r="1.1" fill="#111"/>
<circle cx="642" cy="168" r="1.1" fill="#111"/>
<path d="M637.2 174.6V180.2" stroke="#222" stroke-width="0.7"/>
<circle cx="637.5" cy="177.4" r="1.1" fill="#111"/>
<circle cx="639" cy="177.4" r="1.1" fill="#111"/>
<circle cx="640.5" cy="177.4" r="1.1" fill="#111"/>
<circle cx="642" cy="177.4" r="1.1" fill="#111"/>
<circle cx="643.5" cy="177.4" r="1.1" fill="#111"/>
<circle cx="645" cy="177.4" r="1.1" fill="#111"/>
<circle cx="655" cy="177.4" r="1.1" fill="#111"/>
<path d="M637.1 186.8H642" stroke="#9a9a9a" stroke-width="0.6"/>
<rect x="637.5" y="183.6" width="2.5" height="6.4" fill="#a8df8e" stroke="#6d905c" stroke-width="0.45"/>
<path d="M638.5 183.6V190" stroke="#546f47" stroke-width="0.6"/>
<circle cx="642" cy="186.8" r="0.95" fill="#111"/>
<circle cx="643.64" cy="186.8" r="0.95" fill="#111"/>
<circle cx="645.27" cy="186.8" r="0.95" fill="#111"/>
<circle cx="646.91" cy="186.8" r="0.95" fill="#111"/>
<circle cx="648.55" cy="186.8" r="0.95" fill="#111"/>
<circle cx="650.18" cy="186.8" r="0.95" fill="#111"/>
<circle cx="651.82" cy="186.8" r="0.95" fill="#111"/>
<circle cx="653.45" cy="186.8" r="0.95" fill="#111"/>
<circle cx="655.09" cy="186.8" r="0.95" fill="#111"/>
<circle cx="656.73" cy="186.8" r="0.95" fill="#111"/>
<circle cx="658.36" cy="186.8" r="0.95" fill="#111"/>
<circle cx="660" cy="186.8" r="0.95" fill="#111"/>
<circle cx="664.5" cy="186.8" r="0.95" fill="#111"/>
<circle cx="673" cy="186.8" r="0.95" fill="#111"/>
<circle cx="682" cy="186.8" r="0.95" fill="#111"/>
<path d="M637.2 193.4V199" stroke="#222" stroke-width="0.7"/>
<circle cx="637.5" cy="196.2" r="1.1" fill="#111"/>
<circle cx="638.88" cy="196.2" r="1.1" fill="#111"/>
<circle cx="640.25" cy="196.2" r="1.1" fill="#111"/>
<circle cx="641.62" cy="196.2" r="1.1" fill="#111"/>
<circle cx="643" cy="196.2" r="1.1" fill="#111"/>
<path d="M637.2 202.8V208.4" stroke="#222" stroke-width="0.7"/>
<circle cx="637.5" cy="205.6" r="1.1" fill="#111"/>
<path d="M637.2 212.2V217.8" stroke="#222" stroke-width="0.7"/>
<circle cx="637.5" cy="215" r="1.1" fill="#111"/>
<circle cx="639" cy="215" r="1.1" fill="#111"/>
<text x="20.6" y="293.1" font-size="17" text-anchor="start" font-weight="bold" >b</text>
<text x="261.8" y="281.4" font-size="9.2" text-anchor="start" font-weight="normal" stroke="#111" stroke-width="0.16" >Human BRCA ST Dataset &amp; CellChatDB</text>
<g>
<rect x="88.68" y="323.7" width="10" height="9.71" fill="#313695"/>
<rect x="98.67" y="323.7" width="5.01" height="9.71" fill="#ffffbf"/>
<rect x="103.66" y="323.7" width="5.01" height="9.71" fill="#313695"/>
<rect x="108.65" y="323.7" width="5.01" height="9.71" fill="#4575b4"/>
<rect x="113.64" y="323.7" width="164.73" height="9.71" fill="#b3192d"/>
<rect x="278.35" y="323.7" width="5.01" height="9.71" fill="#f46d43"/>
<rect x="283.35" y="323.7" width="10" height="9.71" fill="#d73027"/>
<rect x="293.33" y="323.7" width="44.94" height="9.71" fill="#b3192d"/>
<rect x="338.25" y="323.7" width="10" height="9.71" fill="#d73027"/>
<rect x="348.23" y="323.7" width="79.88" height="9.71" fill="#b3192d"/>
<rect x="428.1" y="323.7" width="5.01" height="9.71" fill="#f46d43"/>
<rect x="433.09" y="323.7" width="39.95" height="9.71" fill="#b3192d"/>
<rect x="473.02" y="323.7" width="5.01" height="9.71" fill="#ffffbf"/>
<rect x="478.01" y="323.7" width="5.01" height="9.71" fill="#f46d43"/>
<rect x="98.67" y="333.39" width="5.01" height="9.71" fill="#fdae61"/>
<rect x="103.66" y="333.39" width="5.01" height="9.71" fill="#b3192d"/>
<rect x="108.65" y="333.39" width="5.01" height="9.71" fill="#313695"/>
<rect x="113.64" y="333.39" width="164.73" height="9.71" fill="#b3192d"/>
<rect x="278.35" y="333.39" width="5.01" height="9.71" fill="#fdae61"/>
<rect x="283.35" y="333.39" width="5.01" height="9.71" fill="#d73027"/>
<rect x="288.34" y="333.39" width="14.99" height="9.71" fill="#b3192d"/>
<rect x="303.31" y="333.39" width="10" height="9.71" fill="#d73027"/>
<rect x="313.29" y="333.39" width="5.01" height="9.71" fill="#fdae61"/>
<rect x="318.29" y="333.39" width="5.01" height="9.71" fill="#f46d43"/>
<rect x="323.28" y="333.39" width="5.01" height="9.71" fill="#d73027"/>
<rect x="328.27" y="333.39" width="5.01" height="9.71" fill="#f46d43"/>
<rect x="333.26" y="333.39" width="10" height="9.71" fill="#b3192d"/>
<rect x="343.24" y="333.39" width="5.01" height="9.71" fill="#f46d43"/>
<rect x="348.23" y="333.39" width="5.01" height="9.71" fill="#b3192d"/>
<rect x="353.22" y="333.39" width="5.01" height="9.71" fill="#d73027"/>
<rect x="358.22" y="333.39" width="10" height="9.71" fill="#b3192d"/>
<rect x="368.2" y="333.39" width="14.99" height="9.71" fill="#d73027"/>
<rect x="383.17" y="333.39" width="14.99" height="9.71" fill="#b3192d"/>
<rect x="398.15" y="333.39" width="5.01" height="9.71" fill="#f46d43"/>
<rect x="403.14" y="333.39" width="69.9" height="9.71" fill="#b3192d"/>
<rect x="473.02" y="333.39" width="5.01" height="9.71" fill="#f46d43"/>
<rect x="478.01" y="333.39" width="5.01" height="9.71" fill="#ffffbf"/>
<rect x="98.67" y="343.09" width="5.01" height="9.71" fill="#fdae61"/>
<rect x="103.66" y="343.09" width="5.01" height="9.71" fill="#4575b4"/>
<rect x="108.65" y="343.09" width="5.01" height="9.71" fill="#313695"/>
<rect x="113.64" y="343.09" width="54.92" height="9.71" fill="#b3192d"/>
<rect x="168.54" y="343.09" width="5.01" height="9.71" fill="#d73027"/>
<rect x="173.54" y="343.09" width="19.99" height="9.71" fill="#b3192d"/>
<rect x="193.5" y="343.09" width="5.01" height="9.71" fill="#f46d43"/>
<rect x="198.49" y="343.09" width="24.98" height="9.71" fill="#b3192d"/>
<rect x="223.45" y="343.09" width="5.01" height="9.71" fill="#f46d43"/>
<rect x="228.44" y="343.09" width="5.01" height="9.71" fill="#b3192d"/>
<rect x="233.43" y="343.09" width="10" height="9.71" fill="#d73027"/>
<rect x="243.41" y="343.09" width="29.97" height="9.71" fill="#b3192d"/>
<rect x="273.36" y="343.09" width="5.01" height="9.71" fill="#f46d43"/>
<rect x="278.35" y="343.09" width="5.01" height="9.71" fill="#fee090"/>
<rect x="283.35" y="343.09" width="5.01" height="9.71" fill="#ffffbf"/>
<rect x="288.34" y="343.09" width="5.01" height="9.71" fill="#b3192d"/>
<rect x="293.33" y="343.09" width="19.99" height="9.71" fill="#d73027"/>
<rect x="313.29" y="343.09" width="5.01" height="9.71" fill="#fdae61"/>
<rect x="318.29" y="343.09" width="5.01" height="9.71" fill="#fee090"/>
<rect x="323.28" y="343.09" width="5.01" height="9.71" fill="#d73027"/>
<rect x="328.27" y="343.09" width="5.01" height="9.71" fill="#f46d43"/>
<rect x="333.26" y="343.09" width="10" height="9.71" fill="#b3192d"/>
<rect x="343.24" y="343.09" width="5.01" height="9.71" fill="#fdae61"/>
<rect x="348.23" y="343.09" width="5.01" height="9.71" fill="#b3192d"/>
<rect x="353.22" y="343.09" width="5.01" height="9.71" fill="#d73027"/>
<rect x="358.22" y="343.09" width="5.01" height="9.71" fill="#b3192d"/>
<rect x="363.21" y="343.09" width="5.01" height="9.71" fill="#fdae61"/>
<rect x="368.2" y="343.09" width="10" height="9.71" fill="#f46d43"/>
<rect x="378.18" y="343.09" width="5.01" height="9.71" fill="#fdae61"/>
<rect x="383.17" y="343.09" width="14.99" height="9.71" fill="#b3192d"/>
<rect x="398.15" y="343.09" width="5.01" height="9.71" fill="#fdae61"/>
<rect x="403.14" y="343.09" width="69.9" height="9.71" fill="#b3192d"/>
<rect x="473.02" y="343.09" width="5.01" height="9.71" fill="#abd9e9"/>
<rect x="478.01" y="343.09" width="5.01" height="9.71" fill="#e0f3f8"/>
<rect x="78.7" y="352.78" width="10" height="9.71" fill="#313695"/>
<rect x="88.68" y="352.78" width="5.01" height="9.71" fill="#74add1"/>
<rect x="93.67" y="352.78" width="5.01" height="9.71" fill="#313695"/>
<rect x="98.67" y="352.78" width="5.01" height="9.71" fill="#ffffbf"/>
<rect x="103.66" y="352.78" width="5.01" height="9.71" fill="#abd9e9"/>
<rect x="108.65" y="352.78" width="5.01" height="9.71" fill="#74add1"/>
<rect x="113.64" y="352.78" width="79.88" height="9.71" fill="#b3192d"/>
<rect x="193.5" y="352.78" width="5.01" height="9.71" fill="#d73027"/>
<rect x="198.49" y="352.78" width="24.98" height="9.71" fill="#b3192d"/>
<rect x="223.45" y="352.78" width="5.01" height="9.71" fill="#d73027"/>
<rect x="228.44" y="352.78" width="49.93" height="9.71" fill="#b3192d"/>
<rect x="278.35" y="352.78" width="5.01" height="9.71" fill="#fdae61"/>
<rect x="283.35" y="352.78" width="5.01" height="9.71" fill="#f46d43"/>
<rect x="288.34" y="352.78" width="5.01" height="9.71" fill="#b3192d"/>
<rect x="293.33" y="352.78" width="5.01" height="9.71" fill="#d73027"/>
<rect x="298.32" y="352.78" width="5.01" height="9.71" fill="#b3192d"/>
<rect x="303.31" y="352.78" width="5.01" height="9.71" fill="#f46d43"/>
<rect x="308.3" y="352.78" width="5.01" height="9.71" fill="#d73027"/>
<rect x="313.29" y="352.78" width="10" height="9.71" fill="#fdae61"/>
<rect x="323.28" y="352.78" width="5.01" height="9.71" fill="#d73027"/>
<rect x="328.27" y="352.78" width="5.01" height="9.71" fill="#f46d43"/>
<rect x="333.26" y="352.78" width="10" height="9.71" fill="#b3192d"/>
<rect x="343.24" y="352.78" width="5.01" height="9.71" fill="#f46d43"/>
<rect x="348.23" y="352.78" width="10" height="9.71" fill="#d73027"/>
<rect x="358.22" y="352.78" width="5.01" height="9.71" fill="#b3192d"/>
<rect x="363.21" y="352.78" width="19.99" height="9.71" fill="#d73027"/>
<rect x="383.17" y="352.78" width="14.99" height="9.71" fill="#b3192d"/>
<rect x="398.15" y="352.78" width="5.01" height="9.71" fill="#d73027"/>
<rect x="403.14" y="352.78" width="69.9" height="9.71" fill="#b3192d"/>
<rect x="473.02" y="352.78" width="5.01" height="9.71" fill="#ffffbf"/>
<rect x="478.01" y="352.78" width="5.01" height="9.71" fill="#e0f3f8"/>
<rect x="88.68" y="362.48" width="5.01" height="9.71" fill="#313695"/>
<rect x="93.67" y="362.48" width="5.01" height="9.71" fill="#74add1"/>
<rect x="98.67" y="362.48" width="5.01" height="9.71" fill="#ffffbf"/>
<rect x="103.66" y="362.48" width="10" height="9.71" fill="#4575b4"/>
<rect x="113.64" y="362.48" width="29.97" height="9.71" fill="#b3192d"/>
<rect x="143.59" y="362.48" width="10" height="9.71" fill="#d73027"/>
<rect x="153.57" y="362.48" width="14.99" height="9.71" fill="#b3192d"/>
<rect x="168.54" y="362.48" width="5.01" height="9.71" fill="#d73027"/>
<rect x="173.54" y="362.48" width="14.99" height="9.71" fill="#b3192d"/>
<rect x="188.51" y="362.48" width="5.01" height="9.71" fill="#f46d43"/>
<rect x="193.5" y="362.48" width="64.91" height="9.71" fill="#b3192d"/>
<rect x="258.39" y="362.48" width="5.01" height="9.71" fill="#d73027"/>
<rect x="263.38" y="362.48" width="10" height="9.71" fill="#b3192d"/>
<rect x="273.36" y="362.48" width="5.01" height="9.71" fill="#d73027"/>
<rect x="278.35" y="362.48" width="5.01" height="9.71" fill="#f46d43"/>
<rect x="283.35" y="362.48" width="5.01" height="9.71" fill="#b3192d"/>
<rect x="288.34" y="362.48" width="5.01" height="9.71" fill="#f46d43"/>
<rect x="293.33" y="362.48" width="5.01" height="9.71" fill="#b3192d"/>
<rect x="298.32" y="362.48" width="5.01" height="9.71" fill="#d73027"/>
<rect x="303.31" y="362.48" width="5.01" height="9.71" fill="#b3192d"/>
<rect x="308.3" y="362.48" width="10" height="9.71" fill="#d73027"/>
<rect x="318.29" y="362.48" width="5.01" height="9.71" fill="#b3192d"/>
<rect x="323.28" y="362.48" width="10" height="9.71" fill="#d73027"/>
<rect x="333.26" y="362.48" width="5.01" height="9.71" fill="#b3192d"/>
<rect x="338.25" y="362.48" width="14.99" height="9.71" fill="#d73027"/>
<rect x="353.22" y="362.48" width="5.01" height="9.71" fill="#b3192d"/>
<rect x="358.22" y="362.48" width="5.01" height="9.71" fill="#d73027"/>
<rect x="363.21" y="362.48" width="5.01" height="9.71" fill="#b3192d"/>
<rect x="368.2" y="362.48" width="5.01" height="9.71" fill="#d73027"/>
<rect x="373.19" y="362.48" width="10" height="9.71" fill="#b3192d"/>
<rect x="383.17" y="362.48" width="5.01" height="9.71" fill="#d73027"/>
<rect x="388.16" y="362.48" width="5.01" height="9.71" fill="#b3192d"/>
<rect x="393.16" y="362.48" width="5.01" height="9.71" fill="#d73027"/>
<rect x="398.15" y="362.48" width="10" height="9.71" fill="#b3192d"/>
<rect x="408.13" y="362.48" width="5.01" height="9.71" fill="#d73027"/>
<rect x="413.12" y="362.48" width="14.99" height="9.71" fill="#b3192d"/>
<rect x="428.1" y="362.48" width="5.01" height="9.71" fill="#f46d43"/>
<rect x="433.09" y="362.48" width="39.95" height="9.71" fill="#b3192d"/>
<rect x="473.02" y="362.48" width="5.01" height="9.71" fill="#ffffbf"/>
<rect x="478.01" y="362.48" width="5.01" height="9.71" fill="#f46d43"/>
<rect x="78.7" y="372.17" width="10" height="9.71" fill="#313695"/>
<rect x="88.68" y="372.17" width="5.01" height="9.71" fill="#4575b4"/>
<rect x="93.67" y="372.17" width="5.01" height="9.71" fill="#313695"/>
<rect x="98.67" y="372.17" width="5.01" height="9.71" fill="#e0f3f8"/>
<rect x="103.66" y="372.17" width="10" height="9.71" fill="#4575b4"/>
<rect x="113.64" y="372.17" width="24.98" height="9.71" fill="#b3192d"/>
<rect x="138.6" y="372.17" width="5.01" height="9.71" fill="#d73027"/>
<rect x="143.59" y="372.17" width="44.94" height="9.71" fill="#b3192d"/>
<rect x="188.51" y="372.17" width="5.01" height="9.71" fill="#d73027"/>
<rect x="193.5" y="372.17" width="5.01" height="9.71" fill="#f46d43"/>
<rect x="198.49" y="372.17" width="5.01" height="9.71" fill="#d73027"/>
<rect x="203.48" y="372.17" width="10" height="9.71" fill="#b3192d"/>
<rect x="213.47" y="372.17" width="5.01" height="9.71" fill="#d73027"/>
<rect x="218.46" y="372.17" width="5.01" height="9.71" fill="#b3192d"/>
<rect x="223.45" y="372.17" width="5.01" height="9.71" fill="#f88f55"/>
<rect x="228.44" y="372.17" width="5.01" height="9.71" fill="#b3192d"/>
<rect x="233.43" y="372.17" width="10" height="9.71" fill="#f46d43"/>
<rect x="243.41" y="372.17" width="14.99" height="9.71" fill="#b3192d"/>
<rect x="258.39" y="372.17" width="5.01" height="9.71" fill="#f46d43"/>
<rect x="263.38" y="372.17" width="10" height="9.71" fill="#b3192d"/>
<rect x="273.36" y="372.17" width="5.01" height="9.71" fill="#f46d43"/>
<rect x="278.35" y="372.17" width="5.01" height="9.71" fill="#ffffbf"/>
<rect x="283.35" y="372.17" width="5.01" height="9.71" fill="#fee090"/>
<rect x="288.34" y="372.17" width="5.01" height="9.71" fill="#b3192d"/>
<rect x="293.33" y="372.17" width="5.01" height="9.71" fill="#fdae61"/>
<rect x="298.32" y="372.17" width="5.01" height="9.71" fill="#d73027"/>
<rect x="303.31" y="372.17" width="5.01" height="9.71" fill="#fdae61"/>
<rect x="308.3" y="372.17" width="5.01" height="9.71" fill="#f46d43"/>
<rect x="313.29" y="372.17" width="10" height="9.71" fill="#fee090"/>
<rect x="323.28" y="372.17" width="5.01" height="9.71" fill="#fdae61"/>
<rect x="328.27" y="372.17" width="5.01" height="9.71" fill="#fee090"/>
<rect x="333.26" y="372.17" width="5.01" height="9.71" fill="#b3192d"/>
<rect x="338.25" y="372.17" width="5.01" height="9.71" fill="#f46d43"/>
<rect x="343.24" y="372.17" width="5.01" height="9.71" fill="#fdae61"/>
<rect x="348.23" y="372.17" width="10" height="9.71" fill="#d73027"/>
<rect x="358.22" y="372.17" width="5.01" height="9.71" fill="#b3192d"/>
<rect x="363.21" y="372.17" width="5.01" height="9.71" fill="#f46d43"/>
<rect x="368.2" y="372.17" width="10" height="9.71" fill="#fdae61"/>
<rect x="378.18" y="372.17" width="5.01" height="9.71" fill="#f46d43"/>
<rect x="383.17" y="372.17" width="14.99" height="9.71" fill="#b3192d"/>
<rect x="398.15" y="372.17" width="5.01" height="9.71" fill="#f46d43"/>
<rect x="403.14" y="372.17" width="69.9" height="9.71" fill="#b3192d"/>
<rect x="473.02" y="372.17" width="5.01" height="9.71" fill="#abd9e9"/>
<rect x="478.01" y="372.17" width="5.01" height="9.71" fill="#e0f3f8"/>
<rect x="88.68" y="381.86" width="5.01" height="9.71" fill="#e0f3f8"/>
<rect x="93.67" y="381.86" width="5.01" height="9.71" fill="#abd9e9"/>
<rect x="98.67" y="381.86" width="5.01" height="9.71" fill="#fdae61"/>
<rect x="103.66" y="381.86" width="5.01" height="9.71" fill="#ffffbf"/>
<rect x="108.65" y="381.86" width="5.01" height="9.71" fill="#313695"/>
<rect x="113.64" y="381.86" width="24.98" height="9.71" fill="#b3192d"/>
<rect x="138.6" y="381.86" width="5.01" height="9.71" fill="#d73027"/>
<rect x="143.59" y="381.86" width="14.99" height="9.71" fill="#b3192d"/>
<rect x="158.56" y="381.86" width="5.01" height="9.71" fill="#d73027"/>
<rect x="163.55" y="381.86" width="29.97" height="9.71" fill="#b3192d"/>
<rect x="193.5" y="381.86" width="14.99" height="9.71" fill="#d73027"/>
<rect x="208.48" y="381.86" width="5.01" height="9.71" fill="#b3192d"/>
<rect x="213.47" y="381.86" width="5.01" height="9.71" fill="#d73027"/>
<rect x="218.46" y="381.86" width="24.98" height="9.71" fill="#b3192d"/>
<rect x="243.41" y="381.86" width="10" height="9.71" fill="#f88f55"/>
<rect x="253.4" y="381.86" width="14.99" height="9.71" fill="#d73027"/>
<rect x="268.37" y="381.86" width="5.01" height="9.71" fill="#f46d43"/>
<rect x="273.36" y="381.86" width="5.01" height="9.71" fill="#d73027"/>
<rect x="278.35" y="381.86" width="5.01" height="9.71" fill="#fee090"/>
<rect x="283.35" y="381.86" width="5.01" height="9.71" fill="#ffffbf"/>
<rect x="288.34" y="381.86" width="5.01" height="9.71" fill="#fee090"/>
<rect x="293.33" y="381.86" width="5.01" height="9.71" fill="#b3192d"/>
<rect x="298.32" y="381.86" width="5.01" height="9.71" fill="#d73027"/>
<rect x="303.31" y="381.86" width="5.01" height="9.71" fill="#fdae61"/>
<rect x="308.3" y="381.86" width="5.01" height="9.71" fill="#f46d43"/>
<rect x="313.29" y="381.86" width="10" height="9.71" fill="#fdae61"/>
<rect x="323.28" y="381.86" width="5.01" height="9.71" fill="#d73027"/>
<rect x="328.27" y="381.86" width="5.01" height="9.71" fill="#b3192d"/>
<rect x="338.25" y="381.86" width="5.01" height="9.71" fill="#ffffbf"/>
<rect x="343.24" y="381.86" width="5.01" height="9.71" fill="#fee090"/>
<rect x="348.23" y="381.86" width="10" height="9.71" fill="#fdae61"/>
<rect x="358.22" y="381.86" width="5.01" height="9.71" fill="#b3192d"/>
<rect x="363.21" y="381.86" width="5.01" height="9.71" fill="#d73027"/>
<rect x="368.2" y="381.86" width="5.01" height="9.71" fill="#b3192d"/>
<rect x="373.19" y="381.86" width="5.01" height="9.71" fill="#d73027"/>
<rect x="378.18" y="381.86" width="5.01" height="9.71" fill="#b3192d"/>
<rect x="383.17" y="381.86" width="5.01" height="9.71" fill="#fdae61"/>
<rect x="388.16" y="381.86" width="84.87" height="9.71" fill="#b3192d"/>
<rect x="473.02" y="381.86" width="5.01" height="9.71" fill="#e0f3f8"/>
<rect x="478.01" y="381.86" width="5.01" height="9.71" fill="#ffffbf"/>
<rect x="88.68" y="391.56" width="5.01" height="9.71" fill="#e0f3f8"/>
<rect x="93.67" y="391.56" width="5.01" height="9.71" fill="#abd9e9"/>
<rect x="98.67" y="391.56" width="5.01" height="9.71" fill="#fdae61"/>
<rect x="103.66" y="391.56" width="5.01" height="9.71" fill="#ffffbf"/>
<rect x="108.65" y="391.56" width="5.01" height="9.71" fill="#313695"/>
<rect x="113.64" y="391.56" width="24.98" height="9.71" fill="#b3192d"/>
<rect x="138.6" y="391.56" width="5.01" height="9.71" fill="#d73027"/>
<rect x="143.59" y="391.56" width="14.99" height="9.71" fill="#b3192d"/>
<rect x="158.56" y="391.56" width="5.01" height="9.71" fill="#d73027"/>
<rect x="163.55" y="391.56" width="5.01" height="9.71" fill="#b3192d"/>
<rect x="168.54" y="391.56" width="5.01" height="9.71" fill="#d73027"/>
<rect x="173.54" y="391.56" width="14.99" height="9.71" fill="#b3192d"/>
<rect x="188.51" y="391.56" width="5.01" height="9.71" fill="#f88f55"/>
<rect x="193.5" y="391.56" width="5.01" height="9.71" fill="#d73027"/>
<rect x="198.49" y="391.56" width="5.01" height="9.71" fill="#b3192d"/>
<rect x="203.48" y="391.56" width="5.01" height="9.71" fill="#d73027"/>
<rect x="208.48" y="391.56" width="34.96" height="9.71" fill="#b3192d"/>
<rect x="243.41" y="391.56" width="5.01" height="9.71" fill="#f46d43"/>
<rect x="248.41" y="391.56" width="5.01" height="9.71" fill="#f88f55"/>
<rect x="253.4" y="391.56" width="5.01" height="9.71" fill="#d73027"/>
<rect x="258.39" y="391.56" width="5.01" height="9.71" fill="#f46d43"/>
<rect x="263.38" y="391.56" width="5.01" height="9.71" fill="#d73027"/>
<rect x="268.37" y="391.56" width="10" height="9.71" fill="#f46d43"/>
<rect x="278.35" y="391.56" width="5.01" height="9.71" fill="#fee090"/>
<rect x="283.35" y="391.56" width="5.01" height="9.71" fill="#ffffbf"/>
<rect x="288.34" y="391.56" width="5.01" height="9.71" fill="#fee090"/>
<rect x="293.33" y="391.56" width="5.01" height="9.71" fill="#b3192d"/>
<rect x="298.32" y="391.56" width="5.01" height="9.71" fill="#d73027"/>
<rect x="303.31" y="391.56" width="5.01" height="9.71" fill="#fdae61"/>
<rect x="308.3" y="391.56" width="5.01" height="9.71" fill="#f46d43"/>
<rect x="313.29" y="391.56" width="10" height="9.71" fill="#fdae61"/>
<rect x="323.28" y="391.56" width="10" height="9.71" fill="#d73027"/>
<rect x="333.26" y="391.56" width="5.01" height="9.71" fill="#b3192d"/>
<rect x="338.25" y="391.56" width="5.01" height="9.71" fill="#ffffbf"/>
<rect x="343.24" y="391.56" width="5.01" height="9.71" fill="#fee090"/>
<rect x="348.23" y="391.56" width="10" height="9.71" fill="#fdae61"/>
<rect x="358.22" y="391.56" width="5.01" height="9.71" fill="#b3192d"/>
<rect x="363.21" y="391.56" width="5.01" height="9.71" fill="#d73027"/>
<rect x="368.2" y="391.56" width="5.01" height="9.71" fill="#fdae61"/>
<rect x="373.19" y="391.56" width="10" height="9.71" fill="#d73027"/>
<rect x="383.17" y="391.56" width="5.01" height="9.71" fill="#fdae61"/>
<rect x="388.16" y="391.56" width="5.01" height="9.71" fill="#b3192d"/>
<rect x="393.16" y="391.56" width="10" height="9.71" fill="#d73027"/>
<rect x="403.14" y="391.56" width="14.99" height="9.71" fill="#b3192d"/>
<rect x="418.11" y="391.56" width="5.01" height="9.71" fill="#f46d43"/>
<rect x="423.1" y="391.56" width="5.01" height="9.71" fill="#b3192d"/>
<rect x="428.1" y="391.56" width="5.01" height="9.71" fill="#fee090"/>
<rect x="433.09" y="391.56" width="5.01" height="9.71" fill="#b3192d"/>
<rect x="438.08" y="391.56" width="5.01" height="9.71" fill="#d73027"/>
<rect x="443.07" y="391.56" width="5.01" height="9.71" fill="#f46d43"/>
<rect x="448.06" y="391.56" width="5.01" height="9.71" fill="#b3192d"/>
<rect x="453.05" y="391.56" width="5.01" height="9.71" fill="#d73027"/>
<rect x="458.04" y="391.56" width="5.01" height="9.71" fill="#f46d43"/>
<rect x="463.03" y="391.56" width="5.01" height="9.71" fill="#d73027"/>
<rect x="468.03" y="391.56" width="5.01" height="9.71" fill="#b3192d"/>
<rect x="473.02" y="391.56" width="5.01" height="9.71" fill="#e0f3f8"/>
<rect x="478.01" y="391.56" width="5.01" height="9.71" fill="#ffffbf"/>
<rect x="88.68" y="401.25" width="5.01" height="9.71" fill="#fdae61"/>
<rect x="93.67" y="401.25" width="5.01" height="9.71" fill="#4575b4"/>
<rect x="113.64" y="401.25" width="24.98" height="9.71" fill="#b3192d"/>
<rect x="138.6" y="401.25" width="5.01" height="9.71" fill="#d73027"/>
<rect x="143.59" y="401.25" width="5.01" height="9.71" fill="#f46d43"/>
<rect x="148.58" y="401.25" width="5.01" height="9.71" fill="#b3192d"/>
<rect x="153.57" y="401.25" width="5.01" height="9.71" fill="#fdae61"/>
<rect x="158.56" y="401.25" width="5.01" height="9.71" fill="#d73027"/>
<rect x="163.55" y="401.25" width="29.97" height="9.71" fill="#b3192d"/>
<rect x="193.5" y="401.25" width="10" height="9.71" fill="#f46d43"/>
<rect x="203.48" y="401.25" width="5.01" height="9.71" fill="#d73027"/>
<rect x="208.48" y="401.25" width="10" height="9.71" fill="#b3192d"/>
<rect x="218.46" y="401.25" width="5.01" height="9.71" fill="#f46d43"/>
<rect x="223.45" y="401.25" width="19.99" height="9.71" fill="#b3192d"/>
<rect x="243.41" y="401.25" width="14.99" height="9.71" fill="#f88f55"/>
<rect x="258.39" y="401.25" width="5.01" height="9.71" fill="#f46d43"/>
<rect x="263.38" y="401.25" width="5.01" height="9.71" fill="#f88f55"/>
<rect x="268.37" y="401.25" width="5.01" height="9.71" fill="#d73027"/>
<rect x="273.36" y="401.25" width="5.01" height="9.71" fill="#313695"/>
<rect x="278.35" y="401.25" width="5.01" height="9.71" fill="#fdae61"/>
<rect x="283.35" y="401.25" width="5.01" height="9.71" fill="#f46d43"/>
<rect x="288.34" y="401.25" width="5.01" height="9.71" fill="#fee090"/>
<rect x="293.33" y="401.25" width="5.01" height="9.71" fill="#b3192d"/>
<rect x="298.32" y="401.25" width="5.01" height="9.71" fill="#ffffbf"/>
<rect x="303.31" y="401.25" width="10" height="9.71" fill="#f46d43"/>
<rect x="313.29" y="401.25" width="10" height="9.71" fill="#ffffbf"/>
<rect x="323.28" y="401.25" width="5.01" height="9.71" fill="#f46d43"/>
<rect x="328.27" y="401.25" width="5.01" height="9.71" fill="#d73027"/>
<rect x="333.26" y="401.25" width="5.01" height="9.71" fill="#b3192d"/>
<rect x="338.25" y="401.25" width="10" height="9.71" fill="#fdae61"/>
<rect x="348.23" y="401.25" width="10" height="9.71" fill="#abd9e9"/>
<rect x="358.22" y="401.25" width="5.01" height="9.71" fill="#b3192d"/>
<rect x="363.21" y="401.25" width="5.01" height="9.71" fill="#f46d43"/>
<rect x="368.2" y="401.25" width="5.01" height="9.71" fill="#b3192d"/>
<rect x="373.19" y="401.25" width="10" height="9.71" fill="#d73027"/>
<rect x="383.17" y="401.25" width="5.01" height="9.71" fill="#ffffbf"/>
<rect x="388.16" y="401.25" width="5.01" height="9.71" fill="#b3192d"/>
<rect x="393.16" y="401.25" width="5.01" height="9.71" fill="#f46d43"/>
<rect x="398.15" y="401.25" width="5.01" height="9.71" fill="#d73027"/>
<rect x="403.14" y="401.25" width="24.98" height="9.71" fill="#b3192d"/>
<rect x="428.1" y="401.25" width="5.01" height="9.71" fill="#d73027"/>
<rect x="433.09" y="401.25" width="14.99" height="9.71" fill="#b3192d"/>
<rect x="448.06" y="401.25" width="5.01" height="9.71" fill="#d73027"/>
<rect x="453.05" y="401.25" width="5.01" height="9.71" fill="#b3192d"/>
<rect x="458.04" y="401.25" width="5.01" height="9.71" fill="#d73027"/>
<rect x="463.03" y="401.25" width="10" height="9.71" fill="#b3192d"/>
<rect x="473.02" y="401.25" width="5.01" height="9.71" fill="#ffffbf"/>
<rect x="478.01" y="401.25" width="5.01" height="9.71" fill="#74add1"/>
<rect x="78.7" y="410.95" width="10" height="9.71" fill="#313695"/>
<rect x="88.68" y="410.95" width="5.01" height="9.71" fill="#74add1"/>
<rect x="93.67" y="410.95" width="5.01" height="9.71" fill="#313695"/>
<rect x="98.67" y="410.95" width="5.01" height="9.71" fill="#e0f3f8"/>
<rect x="103.66" y="410.95" width="10" height="9.71" fill="#4575b4"/>
<rect x="113.64" y="410.95" width="24.98" height="9.71" fill="#b3192d"/>
<rect x="138.6" y="410.95" width="5.01" height="9.71" fill="#d73027"/>
<rect x="143.59" y="410.95" width="5.01" height="9.71" fill="#b3192d"/>
<rect x="148.58" y="410.95" width="5.01" height="9.71" fill="#d73027"/>
<rect x="153.57" y="410.95" width="34.96" height="9.71" fill="#b3192d"/>
<rect x="188.51" y="410.95" width="5.01" height="9.71" fill="#d73027"/>
<rect x="193.5" y="410.95" width="5.01" height="9.71" fill="#f46d43"/>
<rect x="198.49" y="410.95" width="24.98" height="9.71" fill="#d73027"/>
<rect x="223.45" y="410.95" width="5.01" height="9.71" fill="#f46d43"/>
<rect x="228.44" y="410.95" width="14.99" height="9.71" fill="#d73027"/>
<rect x="243.41" y="410.95" width="5.01" height="9.71" fill="#f46d43"/>
<rect x="248.41" y="410.95" width="24.98" height="9.71" fill="#d73027"/>
<rect x="273.36" y="410.95" width="5.01" height="9.71" fill="#f88f55"/>
<rect x="278.35" y="410.95" width="10" height="9.71" fill="#fdae61"/>
<rect x="288.34" y="410.95" width="24.98" height="9.71" fill="#f46d43"/>
<rect x="313.29" y="410.95" width="5.01" height="9.71" fill="#ffffbf"/>
<rect x="318.29" y="410.95" width="14.99" height="9.71" fill="#fdae61"/>
<rect x="333.26" y="410.95" width="5.01" height="9.71" fill="#b3192d"/>
<rect x="338.25" y="410.95" width="5.01" height="9.71" fill="#fdae61"/>
<rect x="343.24" y="410.95" width="5.01" height="9.71" fill="#fee090"/>
<rect x="348.23" y="410.95" width="10" height="9.71" fill="#fdae61"/>
<rect x="358.22" y="410.95" width="5.01" height="9.71" fill="#d73027"/>
<rect x="363.21" y="410.95" width="10" height="9.71" fill="#f46d43"/>
<rect x="373.19" y="410.95" width="5.01" height="9.71" fill="#d73027"/>
<rect x="378.18" y="410.95" width="5.01" height="9.71" fill="#f46d43"/>
<rect x="383.17" y="410.95" width="5.01" height="9.71" fill="#b3192d"/>
<rect x="388.16" y="410.95" width="5.01" height="9.71" fill="#d73027"/>
<rect x="393.16" y="410.95" width="5.01" height="9.71" fill="#f46d43"/>
<rect x="398.15" y="410.95" width="5.01" height="9.71" fill="#d73027"/>
<rect x="403.14" y="410.95" width="14.99" height="9.71" fill="#b3192d"/>
<rect x="418.11" y="410.95" width="10" height="9.71" fill="#d73027"/>
<rect x="428.1" y="410.95" width="5.01" height="9.71" fill="#f46d43"/>
<rect x="433.09" y="410.95" width="10" height="9.71" fill="#d73027"/>
<rect x="443.07" y="410.95" width="5.01" height="9.71" fill="#f46d43"/>
<rect x="448.06" y="410.95" width="5.01" height="9.71" fill="#b3192d"/>
<rect x="453.05" y="410.95" width="5.01" height="9.71" fill="#d73027"/>
<rect x="458.04" y="410.95" width="5.01" height="9.71" fill="#b3192d"/>
<rect x="463.03" y="410.95" width="5.01" height="9.71" fill="#d73027"/>
<rect x="468.03" y="410.95" width="5.01" height="9.71" fill="#b3192d"/>
<rect x="473.02" y="410.95" width="5.01" height="9.71" fill="#e0f3f8"/>
<rect x="478.01" y="410.95" width="5.01" height="9.71" fill="#abd9e9"/>
<rect x="333.26" y="420.64" width="5.01" height="9.71" fill="#b3192d"/>
<rect x="338.25" y="420.64" width="10" height="9.71" fill="#fdae61"/>
<rect x="348.23" y="420.64" width="5.01" height="9.71" fill="#e0f3f8"/>
<rect x="353.22" y="420.64" width="5.01" height="9.71" fill="#313695"/>
<rect x="358.22" y="420.64" width="5.01" height="9.71" fill="#abd9e9"/>
<rect x="363.21" y="420.64" width="5.01" height="9.71" fill="#fdae61"/>
<rect x="368.2" y="420.64" width="14.99" height="9.71" fill="#ffffbf"/>
<rect x="383.17" y="420.64" width="5.01" height="9.71" fill="#fdae61"/>
<rect x="388.16" y="420.64" width="5.01" height="9.71" fill="#d73027"/>
<rect x="393.16" y="420.64" width="5.01" height="9.71" fill="#b3192d"/>
<rect x="398.15" y="420.64" width="5.01" height="9.71" fill="#d73027"/>
<rect x="403.14" y="420.64" width="14.99" height="9.71" fill="#b3192d"/>
<rect x="418.11" y="420.64" width="10" height="9.71" fill="#fdae61"/>
<rect x="428.1" y="420.64" width="5.01" height="9.71" fill="#d73027"/>
<rect x="433.09" y="420.64" width="29.97" height="9.71" fill="#b3192d"/>
<rect x="463.03" y="420.64" width="10" height="9.71" fill="#d73027"/>
<rect x="473.02" y="420.64" width="5.01" height="9.71" fill="#74add1"/>
<rect x="78.7" y="430.34" width="10" height="9.71" fill="#313695"/>
<rect x="88.68" y="430.34" width="5.01" height="9.71" fill="#4575b4"/>
<rect x="93.67" y="430.34" width="5.01" height="9.71" fill="#313695"/>
<rect x="98.67" y="430.34" width="5.01" height="9.71" fill="#abd9e9"/>
<rect x="103.66" y="430.34" width="5.01" height="9.71" fill="#313695"/>
<rect x="108.65" y="430.34" width="5.01" height="9.71" fill="#4575b4"/>
<rect x="113.64" y="430.34" width="5.01" height="9.71" fill="#d73027"/>
<rect x="118.63" y="430.34" width="5.01" height="9.71" fill="#b3192d"/>
<rect x="123.62" y="430.34" width="5.01" height="9.71" fill="#d73027"/>
<rect x="128.61" y="430.34" width="10" height="9.71" fill="#b3192d"/>
<rect x="138.6" y="430.34" width="24.98" height="9.71" fill="#f46d43"/>
<rect x="163.55" y="430.34" width="5.01" height="9.71" fill="#d73027"/>
<rect x="168.54" y="430.34" width="10" height="9.71" fill="#f46d43"/>
<rect x="178.53" y="430.34" width="5.01" height="9.71" fill="#d73027"/>
<rect x="183.52" y="430.34" width="5.01" height="9.71" fill="#f46d43"/>
<rect x="188.51" y="430.34" width="49.93" height="9.71" fill="#fdae61"/>
<rect x="238.42" y="430.34" width="5.01" height="9.71" fill="#f46d43"/>
<rect x="243.41" y="430.34" width="5.01" height="9.71" fill="#fee090"/>
<rect x="248.41" y="430.34" width="24.98" height="9.71" fill="#fdae61"/>
<rect x="273.36" y="430.34" width="5.01" height="9.71" fill="#fee090"/>
<rect x="278.35" y="430.34" width="14.99" height="9.71" fill="#ffffbf"/>
<rect x="293.33" y="430.34" width="5.01" height="9.71" fill="#fee090"/>
<rect x="298.32" y="430.34" width="5.01" height="9.71" fill="#ffffbf"/>
<rect x="303.31" y="430.34" width="10" height="9.71" fill="#fee090"/>
<rect x="313.29" y="430.34" width="5.01" height="9.71" fill="#e0f3f8"/>
<rect x="318.29" y="430.34" width="14.99" height="9.71" fill="#ffffbf"/>
<rect x="333.26" y="430.34" width="5.01" height="9.71" fill="#b3192d"/>
<rect x="338.25" y="430.34" width="5.01" height="9.71" fill="#ffffbf"/>
<rect x="343.24" y="430.34" width="5.01" height="9.71" fill="#e0f3f8"/>
<rect x="348.23" y="430.34" width="10" height="9.71" fill="#ffffbf"/>
<rect x="358.22" y="430.34" width="5.01" height="9.71" fill="#fdae61"/>
<rect x="363.21" y="430.34" width="10" height="9.71" fill="#ffffbf"/>
<rect x="373.19" y="430.34" width="5.01" height="9.71" fill="#fee090"/>
<rect x="378.18" y="430.34" width="5.01" height="9.71" fill="#ffffbf"/>
<rect x="383.17" y="430.34" width="5.01" height="9.71" fill="#fdae61"/>
<rect x="388.16" y="430.34" width="5.01" height="9.71" fill="#f46d43"/>
<rect x="393.16" y="430.34" width="10" height="9.71" fill="#fee090"/>
<rect x="403.14" y="430.34" width="10" height="9.71" fill="#d73027"/>
<rect x="413.12" y="430.34" width="5.01" height="9.71" fill="#b3192d"/>
<rect x="418.11" y="430.34" width="29.97" height="9.71" fill="#fdae61"/>
<rect x="448.06" y="430.34" width="5.01" height="9.71" fill="#d73027"/>
<rect x="453.05" y="430.34" width="14.99" height="9.71" fill="#f46d43"/>
<rect x="468.03" y="430.34" width="5.01" height="9.71" fill="#d73027"/>
<rect x="473.02" y="430.34" width="5.01" height="9.71" fill="#74add1"/>
<rect x="478.01" y="430.34" width="5.01" height="9.71" fill="#abd9e9"/>
<rect x="88.68" y="440.03" width="5.01" height="9.71" fill="#abd9e9"/>
<rect x="93.67" y="440.03" width="5.01" height="9.71" fill="#74add1"/>
<rect x="98.67" y="440.03" width="5.01" height="9.71" fill="#4575b4"/>
<rect x="103.66" y="440.03" width="5.01" height="9.71" fill="#313695"/>
<rect x="108.65" y="440.03" width="5.01" height="9.71" fill="#4575b4"/>
<rect x="113.64" y="440.03" width="5.01" height="9.71" fill="#b3192d"/>
<rect x="118.63" y="440.03" width="5.01" height="9.71" fill="#d73027"/>
<rect x="123.62" y="440.03" width="10" height="9.71" fill="#b3192d"/>
<rect x="133.6" y="440.03" width="10" height="9.71" fill="#f46d43"/>
<rect x="143.59" y="440.03" width="5.01" height="9.71" fill="#d73027"/>
<rect x="148.58" y="440.03" width="14.99" height="9.71" fill="#b3192d"/>
<rect x="163.55" y="440.03" width="5.01" height="9.71" fill="#fdae61"/>
<rect x="168.54" y="440.03" width="5.01" height="9.71" fill="#f46d43"/>
<rect x="173.54" y="440.03" width="10" height="9.71" fill="#d73027"/>
<rect x="183.52" y="440.03" width="5.01" height="9.71" fill="#b3192d"/>
<rect x="188.51" y="440.03" width="10" height="9.71" fill="#ffffbf"/>
<rect x="198.49" y="440.03" width="5.01" height="9.71" fill="#d73027"/>
<rect x="203.48" y="440.03" width="5.01" height="9.71" fill="#f46d43"/>
<rect x="208.48" y="440.03" width="5.01" height="9.71" fill="#fdae61"/>
<rect x="213.47" y="440.03" width="5.01" height="9.71" fill="#fee090"/>
<rect x="218.46" y="440.03" width="5.01" height="9.71" fill="#f46d43"/>
<rect x="223.45" y="440.03" width="5.01" height="9.71" fill="#fdae61"/>
<rect x="228.44" y="440.03" width="5.01" height="9.71" fill="#f46d43"/>
<rect x="233.43" y="440.03" width="14.99" height="9.71" fill="#fdae61"/>
<rect x="248.41" y="440.03" width="5.01" height="9.71" fill="#f46d43"/>
<rect x="253.4" y="440.03" width="5.01" height="9.71" fill="#d73027"/>
<rect x="258.39" y="440.03" width="19.99" height="9.71" fill="#fdae61"/>
<rect x="278.35" y="440.03" width="5.01" height="9.71" fill="#e0f3f8"/>
<rect x="283.35" y="440.03" width="10" height="9.71" fill="#ffffbf"/>
<rect x="293.33" y="440.03" width="19.99" height="9.71" fill="#fdae61"/>
<rect x="313.29" y="440.03" width="5.01" height="9.71" fill="#ffffbf"/>
<rect x="318.29" y="440.03" width="5.01" height="9.71" fill="#fee090"/>
<rect x="323.28" y="440.03" width="5.01" height="9.71" fill="#ffffbf"/>
<rect x="328.27" y="440.03" width="5.01" height="9.71" fill="#e0f3f8"/>
<rect x="333.26" y="440.03" width="5.01" height="9.71" fill="#b3192d"/>
<rect x="338.25" y="440.03" width="5.01" height="9.71" fill="#ffffbf"/>
<rect x="343.24" y="440.03" width="5.01" height="9.71" fill="#e0f3f8"/>
<rect x="348.23" y="440.03" width="10" height="9.71" fill="#ffffbf"/>
<rect x="358.22" y="440.03" width="5.01" height="9.71" fill="#fee090"/>
<rect x="363.21" y="440.03" width="5.01" height="9.71" fill="#ffffbf"/>
<rect x="368.2" y="440.03" width="10" height="9.71" fill="#fee090"/>
<rect x="378.18" y="440.03" width="5.01" height="9.71" fill="#ffffbf"/>
<rect x="383.17" y="440.03" width="5.01" height="9.71" fill="#fdae61"/>
<rect x="388.16" y="440.03" width="5.01" height="9.71" fill="#f46d43"/>
<rect x="393.16" y="440.03" width="10" height="9.71" fill="#fdae61"/>
<rect x="403.14" y="440.03" width="5.01" height="9.71" fill="#d73027"/>
<rect x="408.13" y="440.03" width="10" height="9.71" fill="#b3192d"/>
<rect x="418.11" y="440.03" width="5.01" height="9.71" fill="#fdae61"/>
<rect x="423.1" y="440.03" width="5.01" height="9.71" fill="#fee090"/>
<rect x="428.1" y="440.03" width="14.99" height="9.71" fill="#f46d43"/>
<rect x="443.07" y="440.03" width="5.01" height="9.71" fill="#fdae61"/>
<rect x="448.06" y="440.03" width="10" height="9.71" fill="#d73027"/>
<rect x="458.04" y="440.03" width="5.01" height="9.71" fill="#f46d43"/>
<rect x="463.03" y="440.03" width="10" height="9.71" fill="#d73027"/>
<rect x="473.02" y="440.03" width="5.01" height="9.71" fill="#4575b4"/>
<rect x="478.01" y="440.03" width="5.01" height="9.71" fill="#abd9e9"/>
<rect x="78.7" y="449.72" width="10" height="9.71" fill="#313695"/>
<rect x="88.68" y="449.72" width="5.01" height="9.71" fill="#4575b4"/>
<rect x="93.67" y="449.72" width="5.01" height="9.71" fill="#313695"/>
<rect x="98.67" y="449.72" width="5.01" height="9.71" fill="#e0f3f8"/>
<rect x="103.66" y="449.72" width="5.01" height="9.71" fill="#313695"/>
<rect x="108.65" y="449.72" width="5.01" height="9.71" fill="#4575b4"/>
<rect x="113.64" y="449.72" width="10" height="9.71" fill="#d73027"/>
<rect x="123.62" y="449.72" width="5.01" height="9.71" fill="#f46d43"/>
<rect x="128.61" y="449.72" width="5.01" height="9.71" fill="#d73027"/>
<rect x="133.6" y="449.72" width="5.01" height="9.71" fill="#f46d43"/>
<rect x="138.6" y="449.72" width="10" height="9.71" fill="#d73027"/>
<rect x="148.58" y="449.72" width="5.01" height="9.71" fill="#f46d43"/>
<rect x="153.57" y="449.72" width="5.01" height="9.71" fill="#d73027"/>
<rect x="158.56" y="449.72" width="14.99" height="9.71" fill="#f46d43"/>
<rect x="173.54" y="449.72" width="5.01" height="9.71" fill="#d73027"/>
<rect x="178.53" y="449.72" width="10" height="9.71" fill="#f46d43"/>
<rect x="188.51" y="449.72" width="5.01" height="9.71" fill="#fdae61"/>
<rect x="193.5" y="449.72" width="5.01" height="9.71" fill="#fee090"/>
<rect x="198.49" y="449.72" width="24.98" height="9.71" fill="#fdae61"/>
<rect x="223.45" y="449.72" width="5.01" height="9.71" fill="#fee090"/>
<rect x="228.44" y="449.72" width="19.99" height="9.71" fill="#fdae61"/>
<rect x="248.41" y="449.72" width="5.01" height="9.71" fill="#f46d43"/>
<rect x="253.4" y="449.72" width="19.99" height="9.71" fill="#fdae61"/>
<rect x="273.36" y="449.72" width="5.01" height="9.71" fill="#fee090"/>
<rect x="278.35" y="449.72" width="10" height="9.71" fill="#ffffbf"/>
<rect x="288.34" y="449.72" width="5.01" height="9.71" fill="#fee090"/>
<rect x="293.33" y="449.72" width="5.01" height="9.71" fill="#ffffbf"/>
<rect x="298.32" y="449.72" width="14.99" height="9.71" fill="#fee090"/>
<rect x="313.29" y="449.72" width="5.01" height="9.71" fill="#e0f3f8"/>
<rect x="318.29" y="449.72" width="10" height="9.71" fill="#ffffbf"/>
<rect x="328.27" y="449.72" width="5.01" height="9.71" fill="#e0f3f8"/>
<rect x="333.26" y="449.72" width="5.01" height="9.71" fill="#d73027"/>
<rect x="338.25" y="449.72" width="14.99" height="9.71" fill="#ffffbf"/>
<rect x="353.22" y="449.72" width="5.01" height="9.71" fill="#e0f3f8"/>
<rect x="358.22" y="449.72" width="5.01" height="9.71" fill="#fee090"/>
<rect x="363.21" y="449.72" width="5.01" height="9.71" fill="#ffffbf"/>
<rect x="368.2" y="449.72" width="5.01" height="9.71" fill="#fee090"/>
<rect x="373.19" y="449.72" width="5.01" height="9.71" fill="#fdae61"/>
<rect x="378.18" y="449.72" width="5.01" height="9.71" fill="#ffffbf"/>
<rect x="383.17" y="449.72" width="10" height="9.71" fill="#f46d43"/>
<rect x="393.16" y="449.72" width="5.01" height="9.71" fill="#fee090"/>
<rect x="398.15" y="449.72" width="5.01" height="9.71" fill="#fdae61"/>
<rect x="403.14" y="449.72" width="5.01" height="9.71" fill="#d73027"/>
<rect x="408.13" y="449.72" width="5.01" height="9.71" fill="#b3192d"/>
<rect x="413.12" y="449.72" width="5.01" height="9.71" fill="#d73027"/>
<rect x="418.11" y="449.72" width="5.01" height="9.71" fill="#fee090"/>
<rect x="423.1" y="449.72" width="10" height="9.71" fill="#fdae61"/>
<rect x="433.09" y="449.72" width="5.01" height="9.71" fill="#fee090"/>
<rect x="438.08" y="449.72" width="10" height="9.71" fill="#fdae61"/>
<rect x="448.06" y="449.72" width="5.01" height="9.71" fill="#d73027"/>
<rect x="453.05" y="449.72" width="14.99" height="9.71" fill="#f46d43"/>
<rect x="468.03" y="449.72" width="5.01" height="9.71" fill="#d73027"/>
<rect x="473.02" y="449.72" width="5.01" height="9.71" fill="#abd9e9"/>
<rect x="478.01" y="449.72" width="5.01" height="9.71" fill="#74add1"/>
<rect x="78.7" y="459.42" width="10" height="9.71" fill="#313695"/>
<rect x="88.68" y="459.42" width="5.01" height="9.71" fill="#4575b4"/>
<rect x="93.67" y="459.42" width="5.01" height="9.71" fill="#313695"/>
<rect x="98.67" y="459.42" width="5.01" height="9.71" fill="#e0f3f8"/>
<rect x="103.66" y="459.42" width="5.01" height="9.71" fill="#313695"/>
<rect x="108.65" y="459.42" width="5.01" height="9.71" fill="#4575b4"/>
<rect x="113.64" y="459.42" width="5.01" height="9.71" fill="#d73027"/>
<rect x="118.63" y="459.42" width="5.01" height="9.71" fill="#b3192d"/>
<rect x="123.62" y="459.42" width="5.01" height="9.71" fill="#d73027"/>
<rect x="128.61" y="459.42" width="5.01" height="9.71" fill="#b3192d"/>
<rect x="133.6" y="459.42" width="5.01" height="9.71" fill="#d73027"/>
<rect x="138.6" y="459.42" width="5.01" height="9.71" fill="#fdae61"/>
<rect x="143.59" y="459.42" width="5.01" height="9.71" fill="#f46d43"/>
<rect x="148.58" y="459.42" width="5.01" height="9.71" fill="#fdae61"/>
<rect x="153.57" y="459.42" width="5.01" height="9.71" fill="#f46d43"/>
<rect x="158.56" y="459.42" width="5.01" height="9.71" fill="#fdae61"/>
<rect x="163.55" y="459.42" width="5.01" height="9.71" fill="#f46d43"/>
<rect x="168.54" y="459.42" width="5.01" height="9.71" fill="#fdae61"/>
<rect x="173.54" y="459.42" width="14.99" height="9.71" fill="#f46d43"/>
<rect x="188.51" y="459.42" width="5.01" height="9.71" fill="#fdae61"/>
<rect x="193.5" y="459.42" width="5.01" height="9.71" fill="#fee090"/>
<rect x="198.49" y="459.42" width="10" height="9.71" fill="#fdae61"/>
<rect x="208.48" y="459.42" width="5.01" height="9.71" fill="#fee090"/>
<rect x="213.47" y="459.42" width="10" height="9.71" fill="#fdae61"/>
<rect x="223.45" y="459.42" width="5.01" height="9.71" fill="#fee090"/>
<rect x="228.44" y="459.42" width="14.99" height="9.71" fill="#fdae61"/>
<rect x="243.41" y="459.42" width="5.01" height="9.71" fill="#ffffbf"/>
<rect x="248.41" y="459.42" width="5.01" height="9.71" fill="#fee090"/>
<rect x="253.4" y="459.42" width="10" height="9.71" fill="#fdae61"/>
<rect x="263.38" y="459.42" width="5.01" height="9.71" fill="#fee090"/>
<rect x="268.37" y="459.42" width="5.01" height="9.71" fill="#fdae61"/>
<rect x="273.36" y="459.42" width="10" height="9.71" fill="#ffffbf"/>
<rect x="283.35" y="459.42" width="5.01" height="9.71" fill="#fee090"/>
<rect x="288.34" y="459.42" width="5.01" height="9.71" fill="#ffffbf"/>
<rect x="293.33" y="459.42" width="5.01" height="9.71" fill="#fee090"/>
<rect x="298.32" y="459.42" width="5.01" height="9.71" fill="#ffffbf"/>
<rect x="303.31" y="459.42" width="5.01" height="9.71" fill="#fee090"/>
<rect x="308.3" y="459.42" width="5.01" height="9.71" fill="#ffffbf"/>
<rect x="313.29" y="459.42" width="5.01" height="9.71" fill="#abd9e9"/>
<rect x="318.29" y="459.42" width="5.01" height="9.71" fill="#e0f3f8"/>
<rect x="323.28" y="459.42" width="5.01" height="9.71" fill="#ffffbf"/>
<rect x="328.27" y="459.42" width="5.01" height="9.71" fill="#e0f3f8"/>
<rect x="333.26" y="459.42" width="5.01" height="9.71" fill="#d73027"/>
<rect x="338.25" y="459.42" width="10" height="9.71" fill="#e0f3f8"/>
<rect x="348.23" y="459.42" width="10" height="9.71" fill="#ffffbf"/>
<rect x="358.22" y="459.42" width="5.01" height="9.71" fill="#fdae61"/>
<rect x="363.21" y="459.42" width="10" height="9.71" fill="#fee090"/>
<rect x="373.19" y="459.42" width="5.01" height="9.71" fill="#fdae61"/>
<rect x="378.18" y="459.42" width="5.01" height="9.71" fill="#ffffbf"/>
<rect x="383.17" y="459.42" width="5.01" height="9.71" fill="#fdae61"/>
<rect x="388.16" y="459.42" width="5.01" height="9.71" fill="#f46d43"/>
<rect x="393.16" y="459.42" width="10" height="9.71" fill="#fee090"/>
<rect x="403.14" y="459.42" width="5.01" height="9.71" fill="#b3192d"/>
<rect x="408.13" y="459.42" width="5.01" height="9.71" fill="#d73027"/>
<rect x="413.12" y="459.42" width="5.01" height="9.71" fill="#b3192d"/>
<rect x="418.11" y="459.42" width="5.01" height="9.71" fill="#fee090"/>
<rect x="423.1" y="459.42" width="5.01" height="9.71" fill="#fdae61"/>
<rect x="428.1" y="459.42" width="5.01" height="9.71" fill="#fee090"/>
<rect x="433.09" y="459.42" width="14.99" height="9.71" fill="#fdae61"/>
<rect x="448.06" y="459.42" width="5.01" height="9.71" fill="#d73027"/>
<rect x="453.05" y="459.42" width="5.01" height="9.71" fill="#f46d43"/>
<rect x="458.04" y="459.42" width="5.01" height="9.71" fill="#fdae61"/>
<rect x="463.03" y="459.42" width="5.01" height="9.71" fill="#f46d43"/>
<rect x="468.03" y="459.42" width="5.01" height="9.71" fill="#d73027"/>
<rect x="473.02" y="459.42" width="5.01" height="9.71" fill="#abd9e9"/>
<rect x="478.01" y="459.42" width="5.01" height="9.71" fill="#74add1"/>
<rect x="78.7" y="469.11" width="10" height="9.71" fill="#313695"/>
<rect x="88.68" y="469.11" width="5.01" height="9.71" fill="#4575b4"/>
<rect x="93.67" y="469.11" width="5.01" height="9.71" fill="#313695"/>
<rect x="98.67" y="469.11" width="5.01" height="9.71" fill="#abd9e9"/>
<rect x="103.66" y="469.11" width="5.01" height="9.71" fill="#313695"/>
<rect x="108.65" y="469.11" width="5.01" height="9.71" fill="#4575b4"/>
<rect x="113.64" y="469.11" width="5.01" height="9.71" fill="#d73027"/>
<rect x="118.63" y="469.11" width="5.01" height="9.71" fill="#b3192d"/>
<rect x="123.62" y="469.11" width="5.01" height="9.71" fill="#d73027"/>
<rect x="128.61" y="469.11" width="5.01" height="9.71" fill="#b3192d"/>
<rect x="133.6" y="469.11" width="5.01" height="9.71" fill="#d73027"/>
<rect x="138.6" y="469.11" width="10" height="9.71" fill="#fdae61"/>
<rect x="148.58" y="469.11" width="5.01" height="9.71" fill="#f46d43"/>
<rect x="153.57" y="469.11" width="14.99" height="9.71" fill="#fdae61"/>
<rect x="168.54" y="469.11" width="5.01" height="9.71" fill="#fee090"/>
<rect x="173.54" y="469.11" width="5.01" height="9.71" fill="#fdae61"/>
<rect x="178.53" y="469.11" width="10" height="9.71" fill="#f46d43"/>
<rect x="188.51" y="469.11" width="10" height="9.71" fill="#fee090"/>
<rect x="198.49" y="469.11" width="5.01" height="9.71" fill="#fdae61"/>
<rect x="203.48" y="469.11" width="5.01" height="9.71" fill="#fee090"/>
<rect x="208.48" y="469.11" width="10" height="9.71" fill="#fdae61"/>
<rect x="218.46" y="469.11" width="10" height="9.71" fill="#fee090"/>
<rect x="228.44" y="469.11" width="5.01" height="9.71" fill="#fdae61"/>
<rect x="233.43" y="469.11" width="5.01" height="9.71" fill="#fee090"/>
<rect x="238.42" y="469.11" width="5.01" height="9.71" fill="#fdae61"/>
<rect x="243.41" y="469.11" width="5.01" height="9.71" fill="#ffffbf"/>
<rect x="248.41" y="469.11" width="5.01" height="9.71" fill="#fdae61"/>
<rect x="253.4" y="469.11" width="5.01" height="9.71" fill="#fee090"/>
<rect x="258.39" y="469.11" width="5.01" height="9.71" fill="#fdae61"/>
<rect x="263.38" y="469.11" width="5.01" height="9.71" fill="#fee090"/>
<rect x="268.37" y="469.11" width="5.01" height="9.71" fill="#fdae61"/>
<rect x="273.36" y="469.11" width="10" height="9.71" fill="#ffffbf"/>
<rect x="283.35" y="469.11" width="5.01" height="9.71" fill="#fee090"/>
<rect x="288.34" y="469.11" width="5.01" height="9.71" fill="#ffffbf"/>
<rect x="293.33" y="469.11" width="5.01" height="9.71" fill="#fee090"/>
<rect x="298.32" y="469.11" width="5.01" height="9.71" fill="#ffffbf"/>
<rect x="303.31" y="469.11" width="5.01" height="9.71" fill="#fee090"/>
<rect x="308.3" y="469.11" width="5.01" height="9.71" fill="#ffffbf"/>
<rect x="313.29" y="469.11" width="5.01" height="9.71" fill="#e0f3f8"/>
<rect x="318.29" y="469.11" width="5.01" height="9.71" fill="#ffffbf"/>
<rect x="323.28" y="469.11" width="5.01" height="9.71" fill="#e0f3f8"/>
<rect x="328.27" y="469.11" width="5.01" height="9.71" fill="#ffffbf"/>
<rect x="333.26" y="469.11" width="5.01" height="9.71" fill="#d73027"/>
<rect x="338.25" y="469.11" width="14.99" height="9.71" fill="#e0f3f8"/>
<rect x="353.22" y="469.11" width="5.01" height="9.71" fill="#ffffbf"/>
<rect x="358.22" y="469.11" width="5.01" height="9.71" fill="#fdae61"/>
<rect x="363.21" y="469.11" width="5.01" height="9.71" fill="#ffffbf"/>
<rect x="368.2" y="469.11" width="5.01" height="9.71" fill="#fee090"/>
<rect x="373.19" y="469.11" width="10" height="9.71" fill="#ffffbf"/>
<rect x="383.17" y="469.11" width="10" height="9.71" fill="#fdae61"/>
<rect x="393.16" y="469.11" width="5.01" height="9.71" fill="#ffffbf"/>
<rect x="398.15" y="469.11" width="5.01" height="9.71" fill="#fee090"/>
<rect x="403.14" y="469.11" width="5.01" height="9.71" fill="#b3192d"/>
<rect x="408.13" y="469.11" width="5.01" height="9.71" fill="#d73027"/>
<rect x="413.12" y="469.11" width="5.01" height="9.71" fill="#b3192d"/>
<rect x="418.11" y="469.11" width="5.01" height="9.71" fill="#ffffbf"/>
<rect x="423.1" y="469.11" width="10" height="9.71" fill="#fee090"/>
<rect x="433.09" y="469.11" width="5.01" height="9.71" fill="#ffffbf"/>
<rect x="438.08" y="469.11" width="5.01" height="9.71" fill="#fdae61"/>
<rect x="443.07" y="469.11" width="5.01" height="9.71" fill="#fee090"/>
<rect x="448.06" y="469.11" width="5.01" height="9.71" fill="#d73027"/>
<rect x="453.05" y="469.11" width="14.99" height="9.71" fill="#fdae61"/>
<rect x="468.03" y="469.11" width="5.01" height="9.71" fill="#f46d43"/>
<rect x="473.02" y="469.11" width="5.01" height="9.71" fill="#abd9e9"/>
<rect x="478.01" y="469.11" width="5.01" height="9.71" fill="#74add1"/>
<rect x="78.7" y="478.81" width="14.99" height="9.71" fill="#313695"/>
<rect x="93.67" y="478.81" width="5.01" height="9.71" fill="#74add1"/>
<rect x="98.67" y="478.81" width="5.01" height="9.71" fill="#e0f3f8"/>
<rect x="103.66" y="478.81" width="5.01" height="9.71" fill="#4575b4"/>
<rect x="108.65" y="478.81" width="5.01" height="9.71" fill="#313695"/>
<rect x="113.64" y="478.81" width="5.01" height="9.71" fill="#d73027"/>
<rect x="118.63" y="478.81" width="10" height="9.71" fill="#fdae61"/>
<rect x="128.61" y="478.81" width="5.01" height="9.71" fill="#fee090"/>
<rect x="133.6" y="478.81" width="5.01" height="9.71" fill="#ffffbf"/>
<rect x="138.6" y="478.81" width="5.01" height="9.71" fill="#fee090"/>
<rect x="143.59" y="478.81" width="10" height="9.71" fill="#ffffbf"/>
<rect x="153.57" y="478.81" width="5.01" height="9.71" fill="#d73027"/>
<rect x="158.56" y="478.81" width="5.01" height="9.71" fill="#f46d43"/>
<rect x="163.55" y="478.81" width="5.01" height="9.71" fill="#fdae61"/>
<rect x="168.54" y="478.81" width="14.99" height="9.71" fill="#f46d43"/>
<rect x="183.52" y="478.81" width="10" height="9.71" fill="#fdae61"/>
<rect x="193.5" y="478.81" width="5.01" height="9.71" fill="#e0f3f8"/>
<rect x="198.49" y="478.81" width="5.01" height="9.71" fill="#ffffbf"/>
<rect x="203.48" y="478.81" width="5.01" height="9.71" fill="#abd9e9"/>
<rect x="208.48" y="478.81" width="10" height="9.71" fill="#e0f3f8"/>
<rect x="218.46" y="478.81" width="5.01" height="9.71" fill="#f46d43"/>
<rect x="223.45" y="478.81" width="5.01" height="9.71" fill="#fdae61"/>
<rect x="228.44" y="478.81" width="5.01" height="9.71" fill="#ffffbf"/>
<rect x="233.43" y="478.81" width="5.01" height="9.71" fill="#fdae61"/>
<rect x="238.42" y="478.81" width="14.99" height="9.71" fill="#fee090"/>
<rect x="253.4" y="478.81" width="10" height="9.71" fill="#fdae61"/>
<rect x="263.38" y="478.81" width="5.01" height="9.71" fill="#fee090"/>
<rect x="268.37" y="478.81" width="5.01" height="9.71" fill="#ffffbf"/>
<rect x="273.36" y="478.81" width="5.01" height="9.71" fill="#fee090"/>
<rect x="278.35" y="478.81" width="10" height="9.71" fill="#e0f3f8"/>
<rect x="288.34" y="478.81" width="5.01" height="9.71" fill="#ffffbf"/>
<rect x="293.33" y="478.81" width="5.01" height="9.71" fill="#abd9e9"/>
<rect x="298.32" y="478.81" width="5.01" height="9.71" fill="#e0f3f8"/>
<rect x="303.31" y="478.81" width="5.01" height="9.71" fill="#ffffbf"/>
<rect x="308.3" y="478.81" width="5.01" height="9.71" fill="#fee090"/>
<rect x="313.29" y="478.81" width="10" height="9.71" fill="#e0f3f8"/>
<rect x="323.28" y="478.81" width="5.01" height="9.71" fill="#74add1"/>
<rect x="328.27" y="478.81" width="5.01" height="9.71" fill="#ffffbf"/>
<rect x="333.26" y="478.81" width="5.01" height="9.71" fill="#fdae61"/>
<rect x="338.25" y="478.81" width="10" height="9.71" fill="#e0f3f8"/>
<rect x="348.23" y="478.81" width="10" height="9.71" fill="#abd9e9"/>
<rect x="358.22" y="478.81" width="5.01" height="9.71" fill="#fdae61"/>
<rect x="363.21" y="478.81" width="5.01" height="9.71" fill="#ffffbf"/>
<rect x="368.2" y="478.81" width="5.01" height="9.71" fill="#fee090"/>
<rect x="373.19" y="478.81" width="5.01" height="9.71" fill="#fdae61"/>
<rect x="378.18" y="478.81" width="5.01" height="9.71" fill="#fee090"/>
<rect x="383.17" y="478.81" width="5.01" height="9.71" fill="#f46d43"/>
<rect x="388.16" y="478.81" width="14.99" height="9.71" fill="#abd9e9"/>
<rect x="403.14" y="478.81" width="14.99" height="9.71" fill="#f46d43"/>
<rect x="418.11" y="478.81" width="5.01" height="9.71" fill="#ffffbf"/>
<rect x="423.1" y="478.81" width="5.01" height="9.71" fill="#fdae61"/>
<rect x="428.1" y="478.81" width="5.01" height="9.71" fill="#fee090"/>
<rect x="433.09" y="478.81" width="5.01" height="9.71" fill="#fdae61"/>
<rect x="438.08" y="478.81" width="10" height="9.71" fill="#ffffbf"/>
<rect x="448.06" y="478.81" width="5.01" height="9.71" fill="#fdae61"/>
<rect x="453.05" y="478.81" width="5.01" height="9.71" fill="#f46d43"/>
<rect x="458.04" y="478.81" width="5.01" height="9.71" fill="#ffffbf"/>
<rect x="463.03" y="478.81" width="10" height="9.71" fill="#fdae61"/>
<rect x="473.02" y="478.81" width="5.01" height="9.71" fill="#e0f3f8"/>
<rect x="478.01" y="478.81" width="5.01" height="9.71" fill="#4575b4"/>
<path d="M78.7 323.7V488.5M83.69 323.7V488.5M88.68 323.7V488.5M93.67 323.7V488.5M98.67 323.7V488.5M103.66 323.7V488.5M108.65 323.7V488.5M113.64 323.7V488.5M118.63 323.7V488.5M123.62 323.7V488.5M128.61 323.7V488.5M133.6 323.7V488.5M138.6 323.7V488.5M143.59 323.7V488.5M148.58 323.7V488.5M153.57 323.7V488.5M158.56 323.7V488.5M163.55 323.7V488.5M168.54 323.7V488.5M173.54 323.7V488.5M178.53 323.7V488.5M183.52 323.7V488.5M188.51 323.7V488.5M193.5 323.7V488.5M198.49 323.7V488.5M203.48 323.7V488.5M208.48 323.7V488.5M213.47 323.7V488.5M218.46 323.7V488.5M223.45 323.7V488.5M228.44 323.7V488.5M233.43 323.7V488.5M238.42 323.7V488.5M243.41 323.7V488.5M248.41 323.7V488.5M253.4 323.7V488.5M258.39 323.7V488.5M263.38 323.7V488.5M268.37 323.7V488.5M273.36 323.7V488.5M278.35 323.7V488.5M283.35 323.7V488.5M288.34 323.7V488.5M293.33 323.7V488.5M298.32 323.7V488.5M303.31 323.7V488.5M308.3 323.7V488.5M313.29 323.7V488.5M318.29 323.7V488.5M323.28 323.7V488.5M328.27 323.7V488.5M333.26 323.7V488.5M338.25 323.7V488.5M343.24 323.7V488.5M348.23 323.7V488.5M353.22 323.7V488.5M358.22 323.7V488.5M363.21 323.7V488.5M368.2 323.7V488.5M373.19 323.7V488.5M378.18 323.7V488.5M383.17 323.7V488.5M388.16 323.7V488.5M393.16 323.7V488.5M398.15 323.7V488.5M403.14 323.7V488.5M408.13 323.7V488.5M413.12 323.7V488.5M418.11 323.7V488.5M423.1 323.7V488.5M428.1 323.7V488.5M433.09 323.7V488.5M438.08 323.7V488.5M443.07 323.7V488.5M448.06 323.7V488.5M453.05 323.7V488.5M458.04 323.7V488.5M463.03 323.7V488.5M468.03 323.7V488.5M473.02 323.7V488.5M478.01 323.7V488.5M483 323.7V488.5M78.7 323.7H483M78.7 333.39H483M78.7 343.09H483M78.7 352.78H483M78.7 362.48H483M78.7 372.17H483M78.7 381.86H483M78.7 391.56H483M78.7 401.25H483M78.7 410.95H483M78.7 420.64H483M78.7 430.34H483M78.7 440.03H483M78.7 449.72H483M78.7 459.42H483M78.7 469.11H483M78.7 478.81H483M78.7 488.5H483" stroke="#000" stroke-opacity="0.55" stroke-width="0.55" fill="none"/>
</g>
<text x="73.8" y="330.84" font-size="5.8" text-anchor="end" font-weight="normal" stroke="#111" stroke-width="0.16" >STCase (Stringent)</text>
<text x="73.8" y="340.53" font-size="5.8" text-anchor="end" font-weight="normal" stroke="#111" stroke-width="0.16" >Over five overlapping</text>
<text x="73.8" y="350.22" font-size="5.8" text-anchor="end" font-weight="normal" stroke="#111" stroke-width="0.16" >CellChat v2</text>
<text x="73.8" y="359.92" font-size="5.8" text-anchor="end" font-weight="normal" stroke="#111" stroke-width="0.16" >Over four overlapping</text>
<text x="73.8" y="369.61" font-size="5.8" text-anchor="end" font-weight="normal" stroke="#111" stroke-width="0.16" >STCase (Non-Stringent)</text>
<text x="73.8" y="379.31" font-size="5.8" text-anchor="end" font-weight="normal" stroke="#111" stroke-width="0.16" >CellphoneDB v5</text>
<text x="73.8" y="389" font-size="5.8" text-anchor="end" font-weight="normal" stroke="#111" stroke-width="0.16" >SpaTalk (downstream)</text>
<text x="73.8" y="398.69" font-size="5.8" text-anchor="end" font-weight="normal" stroke="#111" stroke-width="0.16" >SpaTalk</text>
<text x="73.8" y="408.39" font-size="5.8" text-anchor="end" font-weight="normal" stroke="#111" stroke-width="0.16" >COMMOT</text>
<text x="73.8" y="418.08" font-size="5.8" text-anchor="end" font-weight="normal" stroke="#111" stroke-width="0.16" >Over three overlapping</text>
<text x="73.8" y="427.78" font-size="5.8" text-anchor="end" font-weight="normal" stroke="#111" stroke-width="0.16" >stLearn</text>
<text x="73.8" y="437.47" font-size="5.8" text-anchor="end" font-weight="normal" stroke="#111" stroke-width="0.16" >Over two overlapping</text>
<text x="73.8" y="447.16" font-size="5.8" text-anchor="end" font-weight="normal" stroke="#111" stroke-width="0.16" >Giotto</text>
<text x="73.8" y="456.86" font-size="5.8" text-anchor="end" font-weight="normal" stroke="#111" stroke-width="0.16" >SpatialDM</text>
<text x="73.8" y="466.55" font-size="5.8" text-anchor="end" font-weight="normal" stroke="#111" stroke-width="0.16" >HoloNet</text>
<text x="73.8" y="476.25" font-size="5.8" text-anchor="end" font-weight="normal" stroke="#111" stroke-width="0.16" >ICELLNET v2</text>
<text x="73.8" y="485.94" font-size="5.8" text-anchor="end" font-weight="normal" stroke="#111" stroke-width="0.16" >NicheNet</text>
<path d="M76.2 328.55H78.4M76.2 338.24H78.4M76.2 347.94H78.4M76.2 357.63H78.4M76.2 367.32H78.4M76.2 377.02H78.4M76.2 386.71H78.4M76.2 396.41H78.4M76.2 406.1H78.4M76.2 415.79H78.4M76.2 425.49H78.4M76.2 435.18H78.4M76.2 444.88H78.4M76.2 454.57H78.4M76.2 464.26H78.4M76.2 473.96H78.4M76.2 483.65H78.4" stroke="#111" stroke-width="0.85"/>
<text x="11.4" y="394.3" font-size="8.0" text-anchor="middle" font-weight="normal" stroke="#111" stroke-width="0.16" transform="rotate(-90 11.4 394.3)">Methods</text>
<text x="280.8" y="502.2" font-size="8" text-anchor="middle" font-weight="normal" stroke="#111" stroke-width="0.16" >Cell type pairs</text>
<path d="M81.2 323.7V322.6H86.19V323.7M91.18 323.7V316.4H96.17V323.7M106.15 323.7V312.4H111.14V323.7M101.16 323.7V307.2H108.65V312.4M121.13 323.7V323.1H126.12V323.7M123.62 323.1V323.1H131.11V323.7M116.14 323.7V322.38H127.37V323.1M121.75 322.38V321.3H136.1V323.7M141.09 323.7V323.1H146.08V323.7M143.59 323.1V323.09H151.07V323.7M147.33 323.09V322.29H156.07V323.7M161.06 323.7V322.7H166.05V323.7M151.7 322.29V321.49H163.55V322.7M128.93 321.3V319.47H157.63V321.49M181.02 323.7V323.1H186.01V323.7M183.52 323.1V323.1H191.01V323.7M196 323.7V323.1H200.99V323.7M198.49 323.1V323.1H205.98V323.7M187.26 323.1V322.8H202.24V323.1M176.03 323.7V322H194.75V322.8M210.97 323.7V322.7H215.96V323.7M185.39 322V321.2H213.47V322.7M171.04 323.7V320.4H199.43V321.2M185.23 320.4V319.6H220.95V323.7M143.28 319.47V317H203.09V319.6M225.95 323.7V323.1H230.94V323.7M228.44 323.1V322.64H235.93V323.7M250.9 323.7V323.1H255.89V323.7M245.91 323.7V323H253.4V323.1M240.92 323.7V322.2H249.65V323M232.18 322.64V320.3H245.29V322.2M260.88 323.7V323.1H265.88V323.7M263.38 323.1V322.48H270.87V323.7M275.86 323.7V322.7H280.85V323.7M267.12 322.48V321.19H278.35V322.7M238.74 320.3V319.5H272.74V321.19M255.74 319.5V318.7H285.84V323.7M290.83 323.7V323.1H295.82V323.7M293.33 323.1V322.52H300.82V323.7M270.79 318.7V317.5H297.07V322.52M173.18 317V314.9H283.93V317.5M305.81 323.7V322.5H310.8V323.7M308.3 322.5V321.44H315.79V323.7M320.78 323.7V322.7H325.77V323.7M323.28 322.7V321.53H330.76V323.7M327.02 321.53V320.73H335.75V323.7M340.75 323.7V322.7H345.74V323.7M350.73 323.7V322.6H355.72V323.7M360.71 323.7V322.61H365.7V323.7M353.22 322.6V321.12H363.21V322.61M343.24 322.7V318.5H358.22V321.12M331.39 320.73V316.5H350.73V318.5M375.69 323.7V322.7H380.68V323.7M370.69 323.7V321.64H378.18V322.7M341.06 316.5V315.24H374.44V321.64M312.05 321.44V313H357.75V315.24M390.66 323.7V322.7H395.65V323.7M400.64 323.7V322.7H405.63V323.7M410.63 323.7V322.7H415.62V323.7M413.12 322.7V321.73H420.61V323.7M425.6 323.7V322.7H430.59V323.7M416.86 321.73V320.58H428.1V322.7M440.57 323.7V323.05H445.56V323.7M450.56 323.7V323.05H455.55V323.7M443.07 323.05V322.25H453.05V323.05M435.58 323.7V321.45H448.06V322.25M441.82 321.45V320.65H460.54V323.7M465.53 323.7V322.7H470.52V323.7M451.18 320.65V319.09H468.03V322.7M422.48 320.58V318.29H459.6V319.09M403.14 322.7V317.09H441.04V318.29M393.16 322.7V316.29H422.09V317.09M385.67 323.7V314.5H407.62V316.29M334.9 313V310.5H396.65V314.5M228.56 314.9V309.3H365.77V310.5M475.51 323.7V305.7H480.5V323.7M297.16 309.3V302.7H478.01V305.7M104.9 307.2V296.5H387.59V302.7M93.67 316.4V292.8H246.25V296.5M83.69 322.6V284.2H169.96V292.8" stroke="#3a3a3a" stroke-width="0.6" fill="none"/>
<defs><linearGradient id="gb" x1="0" x2="1" y1="0" y2="0">
<stop offset="0" stop-color="#b3192d"/>
<stop offset="0.1" stop-color="#d73027"/>
<stop offset="0.2" stop-color="#f46d43"/>
<stop offset="0.3" stop-color="#fdae61"/>
<stop offset="0.4" stop-color="#fee090"/>
<stop offset="0.5" stop-color="#ffffbf"/>
<stop offset="0.6" stop-color="#e0f3f8"/>
<stop offset="0.7" stop-color="#abd9e9"/>
<stop offset="0.8" stop-color="#74add1"/>
<stop offset="0.9" stop-color="#4575b4"/>
<stop offset="1" stop-color="#313695"/>
</linearGradient></defs>
<rect x="520.1" y="299.4" width="63.4" height="6.6" fill="url(#gb)"/>
<text x="551.8" y="296.6" font-size="5.75" text-anchor="middle" font-weight="normal" stroke="#111" stroke-width="0.16" >False-positive rate</text>
<text x="521.3" y="313.3" font-size="5.5" text-anchor="middle" font-weight="normal" stroke="#111" stroke-width="0.16" >0%</text>
<text x="533.98" y="313.3" font-size="5.5" text-anchor="middle" font-weight="normal" stroke="#111" stroke-width="0.16" >20%</text>
<text x="546.66" y="313.3" font-size="5.5" text-anchor="middle" font-weight="normal" stroke="#111" stroke-width="0.16" >40%</text>
<text x="559.34" y="313.3" font-size="5.5" text-anchor="middle" font-weight="normal" stroke="#111" stroke-width="0.16" >60%</text>
<text x="572.02" y="313.3" font-size="5.5" text-anchor="middle" font-weight="normal" stroke="#111" stroke-width="0.16" >80%</text>
<text x="584.7" y="313.3" font-size="5.5" text-anchor="middle" font-weight="normal" stroke="#111" stroke-width="0.16" >100%</text>
<path d="M520.1 304.8V306.8M532.78 304.8V306.8M545.46 304.8V306.8M558.14 304.8V306.8M570.82 304.8V306.8M583.5 304.8V306.8" stroke="#222" stroke-width="0.6"/>
<path d="M488.4 323.2V488.8" stroke="#cfcfcf" stroke-width="0.9"/>
<path d="M487 329.2H488.4M487 338.83H488.4M487 348.46H488.4M487 358.09H488.4M487 367.72H488.4M487 377.35H488.4M487 386.98H488.4M487 396.61H488.4M487 406.24H488.4M487 415.87H488.4M487 425.5H488.4M487 435.13H488.4M487 444.76H488.4M487 454.39H488.4M487 464.02H488.4M487 473.65H488.4M487 483.28H488.4" stroke="#555" stroke-width="0.6"/>
<path d="M557.5 323.2V488.8" stroke="#808080" stroke-width="0.9"/>
<path d="M556.1 329.2H557.5M556.1 338.83H557.5M556.1 348.46H557.5M556.1 358.09H557.5M556.1 367.72H557.5M556.1 377.35H557.5M556.1 386.98H557.5M556.1 396.61H557.5M556.1 406.24H557.5M556.1 415.87H557.5M556.1 425.5H557.5M556.1 435.13H557.5M556.1 444.76H557.5M556.1 454.39H557.5M556.1 464.02H557.5M556.1 473.65H557.5M556.1 483.28H557.5" stroke="#555" stroke-width="0.6"/>
<path d="M488.5 488.8H552.5M558.2 488.8H621" stroke="#444" stroke-width="0.6"/>
<path d="M491.6 488.8V490.3M506.35 488.8V490.3M521.1 488.8V490.3M535.85 488.8V490.3M550.6 488.8V490.3" stroke="#444" stroke-width="0.5"/>
<text x="491.6" y="497.8" font-size="6.1" text-anchor="middle" font-weight="normal" stroke="#111" stroke-width="0.16" >0%</text>
<text x="506.35" y="497.8" font-size="6.1" text-anchor="middle" font-weight="normal" stroke="#111" stroke-width="0.16" >25%</text>
<text x="521.1" y="497.8" font-size="6.1" text-anchor="middle" font-weight="normal" stroke="#111" stroke-width="0.16" >50%</text>
<text x="535.85" y="497.8" font-size="6.1" text-anchor="middle" font-weight="normal" stroke="#111" stroke-width="0.16" >75%</text>
<text x="550.6" y="497.8" font-size="6.1" text-anchor="middle" font-weight="normal" stroke="#111" stroke-width="0.16" >100%</text>
<path d="M561.4 488.8V490.3M580.67 488.8V490.3M599.94 488.8V490.3M619.21 488.8V490.3" stroke="#444" stroke-width="0.5"/>
<text x="561.4" y="497.8" font-size="6.1" text-anchor="middle" font-weight="normal" stroke="#111" stroke-width="0.16" >0</text>
<text x="580.67" y="497.8" font-size="6.1" text-anchor="middle" font-weight="normal" stroke="#111" stroke-width="0.16" >500</text>
<text x="599.94" y="497.8" font-size="6.1" text-anchor="middle" font-weight="normal" stroke="#111" stroke-width="0.16" >1000</text>
<text x="619.21" y="497.8" font-size="6.1" text-anchor="middle" font-weight="normal" stroke="#111" stroke-width="0.16" >1500</text>
<text x="517.8" y="511.6" font-size="7.0" text-anchor="middle" font-weight="normal" stroke="#111" stroke-width="0.16" >False-positive rate</text>
<text x="554.1" y="511.6" font-size="7.0" text-anchor="start" font-weight="normal" stroke="#111" stroke-width="0.16" >Accurate</text>
<text x="647.4" y="511.6" font-size="7.0" text-anchor="end" font-weight="normal" stroke="#111" stroke-width="0.16" >CCC events number</text>
<rect x="490.6" y="325.6" width="1.7" height="7.2" fill="#e02a2a" stroke="#911b1b" stroke-width="0.45"/>
<path d="M491.2 325.6V332.8" stroke="#701515" stroke-width="0.6"/>
<circle cx="494.3" cy="329.2" r="0.95" fill="#111"/>
<circle cx="496.3" cy="329.2" r="0.95" fill="#111"/>
<circle cx="499.4" cy="329.2" r="0.95" fill="#111"/>
<circle cx="504.5" cy="329.2" r="0.95" fill="#111"/>
<circle cx="516.8" cy="329.2" r="0.95" fill="#111"/>
<circle cx="522.9" cy="329.2" r="0.95" fill="#111"/>
<circle cx="548.5" cy="329.2" r="0.95" fill="#111"/>
<circle cx="550.5" cy="329.2" r="0.95" fill="#111"/>
<rect x="490.6" y="335.23" width="2.7" height="7.2" fill="#d4a27e" stroke="#896951" stroke-width="0.45"/>
<path d="M491.5 335.23V342.43" stroke="#6a513f" stroke-width="0.6"/>
<circle cx="496.3" cy="338.83" r="0.95" fill="#111"/>
<circle cx="498.4" cy="338.83" r="0.95" fill="#111"/>
<circle cx="500.4" cy="338.83" r="0.95" fill="#111"/>
<circle cx="503.5" cy="338.83" r="0.95" fill="#111"/>
<circle cx="507.6" cy="338.83" r="0.95" fill="#111"/>
<circle cx="511.7" cy="338.83" r="0.95" fill="#111"/>
<circle cx="516.8" cy="338.83" r="0.95" fill="#111"/>
<circle cx="550.5" cy="338.83" r="0.95" fill="#111"/>
<path d="M490.6 348.46H508.6" stroke="#9a9a9a" stroke-width="0.6"/>
<rect x="490.6" y="344.86" width="8.2" height="7.2" fill="#3f80c0" stroke="#28537c" stroke-width="0.45"/>
<path d="M492 344.86V352.06" stroke="#1f4060" stroke-width="0.6"/>
<circle cx="510.7" cy="348.46" r="0.95" fill="#111"/>
<circle cx="513" cy="348.46" r="0.95" fill="#111"/>
<circle cx="515.5" cy="348.46" r="0.95" fill="#111"/>
<circle cx="519.9" cy="348.46" r="0.95" fill="#111"/>
<circle cx="528" cy="348.46" r="0.95" fill="#111"/>
<circle cx="531" cy="348.46" r="0.95" fill="#111"/>
<circle cx="544.4" cy="348.46" r="0.95" fill="#111"/>
<circle cx="550.5" cy="348.46" r="0.95" fill="#111"/>
<path d="M490.6 358.09H504.5" stroke="#9a9a9a" stroke-width="0.6"/>
<rect x="490.6" y="354.49" width="7.4" height="7.2" fill="#f7c27e" stroke="#a07e51" stroke-width="0.45"/>
<path d="M493 354.49V361.69" stroke="#7b613f" stroke-width="0.6"/>
<circle cx="509.6" cy="358.09" r="0.95" fill="#111"/>
<circle cx="514.7" cy="358.09" r="0.95" fill="#111"/>
<circle cx="517.8" cy="358.09" r="0.95" fill="#111"/>
<circle cx="522.9" cy="358.09" r="0.95" fill="#111"/>
<circle cx="531.1" cy="358.09" r="0.95" fill="#111"/>
<circle cx="539.3" cy="358.09" r="0.95" fill="#111"/>
<circle cx="541.3" cy="358.09" r="0.95" fill="#111"/>
<circle cx="548.5" cy="358.09" r="0.95" fill="#111"/>
<circle cx="550.5" cy="358.09" r="0.95" fill="#111"/>
<path d="M490.6 367.72H500.4" stroke="#9a9a9a" stroke-width="0.6"/>
<rect x="491.2" y="364.12" width="4.8" height="7.2" fill="#e8606c" stroke="#963e46" stroke-width="0.45"/>
<path d="M492.5 364.12V371.32" stroke="#743036" stroke-width="0.6"/>
<circle cx="507.6" cy="367.72" r="0.95" fill="#111"/>
<circle cx="516.8" cy="367.72" r="0.95" fill="#111"/>
<circle cx="519.9" cy="367.72" r="0.95" fill="#111"/>
<circle cx="537.2" cy="367.72" r="0.95" fill="#111"/>
<circle cx="546.4" cy="367.72" r="0.95" fill="#111"/>
<circle cx="550.5" cy="367.72" r="0.95" fill="#111"/>
<path d="M490.6 377.35H514.7" stroke="#9a9a9a" stroke-width="0.6"/>
<rect x="490.6" y="373.75" width="11.9" height="7.2" fill="#e8956f" stroke="#966048" stroke-width="0.45"/>
<path d="M492 373.75V380.95" stroke="#744a37" stroke-width="0.6"/>
<circle cx="520.9" cy="377.35" r="0.95" fill="#111"/>
<circle cx="526" cy="377.35" r="0.95" fill="#111"/>
<circle cx="528" cy="377.35" r="0.95" fill="#111"/>
<circle cx="530.1" cy="377.35" r="0.95" fill="#111"/>
<circle cx="542.3" cy="377.35" r="0.95" fill="#111"/>
<circle cx="544.5" cy="377.35" r="0.95" fill="#111"/>
<circle cx="546.5" cy="377.35" r="0.95" fill="#111"/>
<circle cx="548.5" cy="377.35" r="0.95" fill="#111"/>
<circle cx="550.5" cy="377.35" r="0.95" fill="#111"/>
<path d="M490.6 386.98H513.7" stroke="#9a9a9a" stroke-width="0.6"/>
<rect x="491.9" y="383.38" width="8.9" height="7.2" fill="#6a3db8" stroke="#442777" stroke-width="0.45"/>
<path d="M494 383.38V390.58" stroke="#351e5c" stroke-width="0.6"/>
<circle cx="518.8" cy="386.98" r="0.95" fill="#111"/>
<circle cx="521.3" cy="386.98" r="0.95" fill="#111"/>
<circle cx="523.9" cy="386.98" r="0.95" fill="#111"/>
<circle cx="529" cy="386.98" r="0.95" fill="#111"/>
<circle cx="535.2" cy="386.98" r="0.95" fill="#111"/>
<circle cx="550.5" cy="386.98" r="0.95" fill="#111"/>
<path d="M490.6 396.61H514.7" stroke="#9a9a9a" stroke-width="0.6"/>
<rect x="492.7" y="393.01" width="10.2" height="7.2" fill="#9d81d8" stroke="#66538c" stroke-width="0.45"/>
<path d="M496 393.01V400.21" stroke="#4e406c" stroke-width="0.6"/>
<circle cx="520.9" cy="396.61" r="0.95" fill="#111"/>
<circle cx="523.9" cy="396.61" r="0.95" fill="#111"/>
<circle cx="529" cy="396.61" r="0.95" fill="#111"/>
<circle cx="535.2" cy="396.61" r="0.95" fill="#111"/>
<circle cx="550.5" cy="396.61" r="0.95" fill="#111"/>
<path d="M490.6 406.24H516.8" stroke="#9a9a9a" stroke-width="0.6"/>
<rect x="493.1" y="402.64" width="10.8" height="7.2" fill="#4cb04a" stroke="#317230" stroke-width="0.45"/>
<path d="M497 402.64V409.84" stroke="#265825" stroke-width="0.6"/>
<circle cx="520.9" cy="406.24" r="0.95" fill="#111"/>
<circle cx="532.1" cy="406.24" r="0.95" fill="#111"/>
<circle cx="535.2" cy="406.24" r="0.95" fill="#111"/>
<circle cx="543.4" cy="406.24" r="0.95" fill="#111"/>
<circle cx="550.5" cy="406.24" r="0.95" fill="#111"/>
<path d="M491.2 415.87H521.9" stroke="#9a9a9a" stroke-width="0.6"/>
<rect x="495.3" y="412.27" width="11.7" height="7.2" fill="#6baed6" stroke="#45718b" stroke-width="0.45"/>
<path d="M498 412.27V419.47" stroke="#35576b" stroke-width="0.6"/>
<circle cx="529" cy="415.87" r="0.95" fill="#111"/>
<circle cx="541.3" cy="415.87" r="0.95" fill="#111"/>
<circle cx="545.4" cy="415.87" r="0.95" fill="#111"/>
<circle cx="548" cy="415.87" r="0.95" fill="#111"/>
<circle cx="550.5" cy="415.87" r="0.95" fill="#111"/>
<path d="M490.6 425.5H535.4" stroke="#9a9a9a" stroke-width="0.6"/>
<rect x="492.6" y="421.9" width="17.9" height="7.2" fill="#c9aee6" stroke="#827195" stroke-width="0.45"/>
<path d="M499.5 421.9V429.1" stroke="#645773" stroke-width="0.6"/>
<circle cx="549.4" cy="425.5" r="0.95" fill="#111"/>
<path d="M492.6 435.13H535.4" stroke="#9a9a9a" stroke-width="0.6"/>
<rect x="502.4" y="431.53" width="15.9" height="7.2" fill="#a6dcee" stroke="#6b8f9a" stroke-width="0.45"/>
<path d="M507.5 431.53V438.73" stroke="#536e77" stroke-width="0.6"/>
<circle cx="544.4" cy="435.13" r="0.95" fill="#111"/>
<circle cx="546.4" cy="435.13" r="0.95" fill="#111"/>
<circle cx="548.4" cy="435.13" r="0.95" fill="#111"/>
<circle cx="550.3" cy="435.13" r="0.95" fill="#111"/>
<path d="M492.6 444.76H541.4" stroke="#9a9a9a" stroke-width="0.6"/>
<rect x="499.5" y="441.16" width="17" height="7.2" fill="#dca0a6" stroke="#8f686b" stroke-width="0.45"/>
<path d="M507 441.16V448.36" stroke="#6e5053" stroke-width="0.6"/>
<circle cx="543.5" cy="444.76" r="0.95" fill="#111"/>
<circle cx="548.2" cy="444.76" r="0.95" fill="#111"/>
<path d="M492.6 454.39H533.9" stroke="#9a9a9a" stroke-width="0.6"/>
<rect x="503.3" y="450.79" width="14.1" height="7.2" fill="#5cba9c" stroke="#3b7865" stroke-width="0.45"/>
<path d="M508.4 450.79V457.99" stroke="#2e5d4e" stroke-width="0.6"/>
<circle cx="545.2" cy="454.39" r="0.95" fill="#111"/>
<circle cx="547.7" cy="454.39" r="0.95" fill="#111"/>
<circle cx="550.3" cy="454.39" r="0.95" fill="#111"/>
<path d="M492.6 464.02H536.9" stroke="#9a9a9a" stroke-width="0.6"/>
<rect x="504" y="460.42" width="16.4" height="7.2" fill="#ee8a98" stroke="#9a5962" stroke-width="0.45"/>
<path d="M510 460.42V467.62" stroke="#77454c" stroke-width="0.6"/>
<circle cx="545.8" cy="464.02" r="0.95" fill="#111"/>
<circle cx="548" cy="464.02" r="0.95" fill="#111"/>
<circle cx="550.3" cy="464.02" r="0.95" fill="#111"/>
<path d="M492.6 473.65H536.9" stroke="#9a9a9a" stroke-width="0.6"/>
<rect x="507.5" y="470.05" width="15.9" height="7.2" fill="#a8df8e" stroke="#6d905c" stroke-width="0.45"/>
<path d="M512.9 470.05V477.25" stroke="#546f47" stroke-width="0.6"/>
<circle cx="547.3" cy="473.65" r="0.95" fill="#111"/>
<circle cx="550.3" cy="473.65" r="0.95" fill="#111"/>
<path d="M499.5 483.28H550.3" stroke="#9a9a9a" stroke-width="0.6"/>
<rect x="509.3" y="479.68" width="17.7" height="7.2" fill="#f07d2c" stroke="#9c511c" stroke-width="0.45"/>
<path d="M515.3 479.68V486.88" stroke="#783e16" stroke-width="0.6"/>
<path d="M560.7 329.2H582.2" stroke="#9a9a9a" stroke-width="0.6"/>
<rect x="566.9" y="325.6" width="5.5" height="7.2" fill="#e02a2a" stroke="#911b1b" stroke-width="0.45"/>
<path d="M569 325.6V332.8" stroke="#701515" stroke-width="0.6"/>
<circle cx="582.2" cy="329.2" r="0.95" fill="#111"/>
<circle cx="584.2" cy="329.2" r="0.95" fill="#111"/>
<circle cx="586.3" cy="329.2" r="0.95" fill="#111"/>
<circle cx="592.4" cy="329.2" r="0.95" fill="#111"/>
<path d="M561.4 338.83H570" stroke="#9a9a9a" stroke-width="0.6"/>
<rect x="562.8" y="335.23" width="5.1" height="7.2" fill="#d4a27e" stroke="#896951" stroke-width="0.45"/>
<path d="M565 335.23V342.43" stroke="#6a513f" stroke-width="0.6"/>
<circle cx="575" cy="338.83" r="0.95" fill="#111"/>
<circle cx="579.1" cy="338.83" r="0.95" fill="#111"/>
<path d="M561.4 348.46H573" stroke="#9a9a9a" stroke-width="0.6"/>
<rect x="562.8" y="344.86" width="6.7" height="7.2" fill="#3f80c0" stroke="#28537c" stroke-width="0.45"/>
<path d="M566 344.86V352.06" stroke="#1f4060" stroke-width="0.6"/>
<path d="M560.7 358.09H586.3" stroke="#9a9a9a" stroke-width="0.6"/>
<rect x="570" y="354.49" width="7" height="7.2" fill="#f7c27e" stroke="#a07e51" stroke-width="0.45"/>
<path d="M573.5 354.49V361.69" stroke="#7b613f" stroke-width="0.6"/>
<circle cx="587.3" cy="358.09" r="0.95" fill="#111"/>
<circle cx="593.4" cy="358.09" r="0.95" fill="#111"/>
<circle cx="559.4" cy="358.09" r="0.95" fill="#111"/>
<path d="M561.4 367.72H590.4" stroke="#9a9a9a" stroke-width="0.6"/>
<rect x="570" y="364.12" width="8.7" height="7.2" fill="#e8606c" stroke="#963e46" stroke-width="0.45"/>
<path d="M574 364.12V371.32" stroke="#743036" stroke-width="0.6"/>
<circle cx="590.4" cy="367.72" r="0.95" fill="#111"/>
<circle cx="592.4" cy="367.72" r="0.95" fill="#111"/>
<circle cx="594.5" cy="367.72" r="0.95" fill="#111"/>
<circle cx="600.6" cy="367.72" r="0.95" fill="#111"/>
<circle cx="606.7" cy="367.72" r="0.95" fill="#111"/>
<path d="M560.7 377.35H574" stroke="#9a9a9a" stroke-width="0.6"/>
<rect x="565.8" y="373.75" width="6.6" height="7.2" fill="#e8956f" stroke="#966048" stroke-width="0.45"/>
<path d="M569 373.75V380.95" stroke="#744a37" stroke-width="0.6"/>
<path d="M561.4 386.98H590.4" stroke="#9a9a9a" stroke-width="0.6"/>
<rect x="561.7" y="383.38" width="14.3" height="7.2" fill="#6a3db8" stroke="#442777" stroke-width="0.45"/>
<path d="M569 383.38V390.58" stroke="#351e5c" stroke-width="0.6"/>
<path d="M561.4 396.61H594.5" stroke="#9a9a9a" stroke-width="0.6"/>
<rect x="562.8" y="393.01" width="14.9" height="7.2" fill="#9d81d8" stroke="#66538c" stroke-width="0.45"/>
<path d="M571 393.01V400.21" stroke="#4e406c" stroke-width="0.6"/>
<circle cx="599.6" cy="396.61" r="0.95" fill="#111"/>
<path d="M561.1 406.24H580.1" stroke="#9a9a9a" stroke-width="0.6"/>
<rect x="561.1" y="402.64" width="8.8" height="7.2" fill="#4cb04a" stroke="#317230" stroke-width="0.45"/>
<path d="M565 402.64V409.84" stroke="#265825" stroke-width="0.6"/>
<circle cx="584.2" cy="406.24" r="0.95" fill="#111"/>
<circle cx="589.3" cy="406.24" r="0.95" fill="#111"/>
<path d="M567.9 415.87H604.7" stroke="#9a9a9a" stroke-width="0.6"/>
<rect x="579.1" y="412.27" width="9.6" height="7.2" fill="#6baed6" stroke="#45718b" stroke-width="0.45"/>
<path d="M584 412.27V419.47" stroke="#35576b" stroke-width="0.6"/>
<circle cx="559.7" cy="415.87" r="0.95" fill="#111"/>
<circle cx="561.2" cy="415.87" r="0.95" fill="#111"/>
<circle cx="562.8" cy="415.87" r="0.95" fill="#111"/>
<circle cx="604.7" cy="415.87" r="0.95" fill="#111"/>
<circle cx="606.7" cy="415.87" r="0.95" fill="#111"/>
<path d="M561 425.5H567" stroke="#9a9a9a" stroke-width="0.6"/>
<rect x="561" y="421.9" width="0.8" height="7.2" fill="#c9aee6" stroke="#827195" stroke-width="0.45"/>
<path d="M561.3 421.9V429.1" stroke="#645773" stroke-width="0.6"/>
<circle cx="562" cy="425.5" r="0.95" fill="#111"/>
<circle cx="563.5" cy="425.5" r="0.95" fill="#111"/>
<circle cx="565" cy="425.5" r="0.95" fill="#111"/>
<circle cx="566.5" cy="425.5" r="0.95" fill="#111"/>
<path d="M559.3 435.13H619.2" stroke="#9a9a9a" stroke-width="0.6"/>
<rect x="584.2" y="431.53" width="15.5" height="7.2" fill="#a6dcee" stroke="#6b8f9a" stroke-width="0.45"/>
<path d="M591.3 431.53V438.73" stroke="#536e77" stroke-width="0.6"/>
<circle cx="561.4" cy="435.13" r="0.95" fill="#111"/>
<path d="M561.4 444.76H572.8" stroke="#9a9a9a" stroke-width="0.6"/>
<rect x="561.7" y="441.16" width="5.1" height="7.2" fill="#dca0a6" stroke="#8f686b" stroke-width="0.45"/>
<path d="M563.5 441.16V448.36" stroke="#6e5053" stroke-width="0.6"/>
<circle cx="580.3" cy="444.76" r="0.95" fill="#111"/>
<path d="M568.3 454.39H587.8" stroke="#9a9a9a" stroke-width="0.6"/>
<rect x="576.4" y="450.79" width="7.8" height="7.2" fill="#5cba9c" stroke="#3b7865" stroke-width="0.45"/>
<path d="M580.3 450.79V457.99" stroke="#2e5d4e" stroke-width="0.6"/>
<circle cx="561.4" cy="454.39" r="0.95" fill="#111"/>
<path d="M560.8 464.02H619.2" stroke="#9a9a9a" stroke-width="0.6"/>
<rect x="580.3" y="460.42" width="17" height="7.2" fill="#ee8a98" stroke="#9a5962" stroke-width="0.45"/>
<path d="M587.8 460.42V467.62" stroke="#77454c" stroke-width="0.6"/>
<path d="M562.3 473.65H616.2" stroke="#9a9a9a" stroke-width="0.6"/>
<rect x="584.2" y="470.05" width="15.5" height="7.2" fill="#a8df8e" stroke="#6d905c" stroke-width="0.45"/>
<path d="M591.3 470.05V477.25" stroke="#546f47" stroke-width="0.6"/>
<circle cx="561.4" cy="473.65" r="0.95" fill="#111"/>
<rect x="561.4" y="479.68" width="1.8" height="7.2" fill="#f07d2c" stroke="#9c511c" stroke-width="0.45"/>
<path d="M562.3 479.68V486.88" stroke="#783e16" stroke-width="0.6"/>
<text x="21" y="548.3" font-size="17" text-anchor="start" font-weight="bold" >c</text>
<g>
<rect x="76.6" y="581.7" width="200.42" height="9.01" fill="#b3192d"/>
<rect x="76.6" y="590.69" width="200.42" height="9.01" fill="#b3192d"/>
<rect x="76.6" y="599.69" width="200.42" height="9.01" fill="#b3192d"/>
<rect x="76.6" y="608.68" width="200.42" height="9.01" fill="#b3192d"/>
<rect x="76.6" y="617.68" width="200.42" height="9.01" fill="#b3192d"/>
<rect x="76.6" y="626.67" width="200.42" height="9.01" fill="#b3192d"/>
<rect x="98.87" y="635.66" width="111.35" height="9.01" fill="#b3192d"/>
<rect x="232.47" y="635.66" width="22.29" height="9.01" fill="#b3192d"/>
<rect x="254.73" y="635.66" width="22.29" height="9.01" fill="#f46d43"/>
<rect x="76.6" y="644.66" width="22.29" height="9.01" fill="#d73027"/>
<rect x="98.87" y="644.66" width="44.55" height="9.01" fill="#b3192d"/>
<rect x="143.4" y="644.66" width="22.29" height="9.01" fill="#d73027"/>
<rect x="165.67" y="644.66" width="66.82" height="9.01" fill="#b3192d"/>
<rect x="232.47" y="644.66" width="22.29" height="9.01" fill="#d73027"/>
<rect x="254.73" y="644.66" width="22.29" height="9.01" fill="#b3192d"/>
<rect x="76.6" y="653.65" width="89.09" height="9.01" fill="#b3192d"/>
<rect x="165.67" y="653.65" width="22.29" height="9.01" fill="#d73027"/>
<rect x="187.93" y="653.65" width="22.29" height="9.01" fill="#b3192d"/>
<rect x="210.2" y="653.65" width="66.82" height="9.01" fill="#d73027"/>
<rect x="76.6" y="662.65" width="66.82" height="9.01" fill="#b3192d"/>
<rect x="143.4" y="662.65" width="66.82" height="9.01" fill="#d73027"/>
<rect x="210.2" y="662.65" width="22.29" height="9.01" fill="#b3192d"/>
<rect x="232.47" y="662.65" width="22.29" height="9.01" fill="#fdae61"/>
<rect x="254.73" y="662.65" width="22.29" height="9.01" fill="#f46d43"/>
<rect x="76.6" y="671.64" width="22.29" height="9.01" fill="#d73027"/>
<rect x="98.87" y="671.64" width="44.55" height="9.01" fill="#b3192d"/>
<rect x="143.4" y="671.64" width="22.29" height="9.01" fill="#d73027"/>
<rect x="165.67" y="671.64" width="44.55" height="9.01" fill="#b3192d"/>
<rect x="210.2" y="671.64" width="22.29" height="9.01" fill="#d73027"/>
<rect x="232.47" y="671.64" width="22.29" height="9.01" fill="#f46d43"/>
<rect x="254.73" y="671.64" width="22.29" height="9.01" fill="#d73027"/>
<rect x="76.6" y="680.64" width="66.82" height="9.01" fill="#d73027"/>
<rect x="143.4" y="680.64" width="22.29" height="9.01" fill="#b3192d"/>
<rect x="165.67" y="680.64" width="22.29" height="9.01" fill="#f46d43"/>
<rect x="187.93" y="680.64" width="22.29" height="9.01" fill="#b3192d"/>
<rect x="210.2" y="680.64" width="66.82" height="9.01" fill="#f46d43"/>
<rect x="76.6" y="689.63" width="22.29" height="9.01" fill="#f46d43"/>
<rect x="98.87" y="689.63" width="22.29" height="9.01" fill="#d73027"/>
<rect x="121.13" y="689.63" width="22.29" height="9.01" fill="#f46d43"/>
<rect x="143.4" y="689.63" width="22.29" height="9.01" fill="#d73027"/>
<rect x="165.67" y="689.63" width="22.29" height="9.01" fill="#f46d43"/>
<rect x="187.93" y="689.63" width="22.29" height="9.01" fill="#d73027"/>
<rect x="210.2" y="689.63" width="22.29" height="9.01" fill="#fdae61"/>
<rect x="232.47" y="689.63" width="44.55" height="9.01" fill="#f46d43"/>
<rect x="76.6" y="698.62" width="22.29" height="9.01" fill="#fdae61"/>
<rect x="98.87" y="698.62" width="22.29" height="9.01" fill="#f46d43"/>
<rect x="121.13" y="698.62" width="66.82" height="9.01" fill="#fdae61"/>
<rect x="187.93" y="698.62" width="22.29" height="9.01" fill="#f46d43"/>
<rect x="210.2" y="698.62" width="22.29" height="9.01" fill="#ffffbf"/>
<rect x="232.47" y="698.62" width="22.29" height="9.01" fill="#fee090"/>
<rect x="254.73" y="698.62" width="22.29" height="9.01" fill="#fdae61"/>
<rect x="76.6" y="707.62" width="22.29" height="9.01" fill="#fee090"/>
<rect x="98.87" y="707.62" width="44.55" height="9.01" fill="#fdae61"/>
<rect x="143.4" y="707.62" width="22.29" height="9.01" fill="#74add1"/>
<rect x="165.67" y="707.62" width="22.29" height="9.01" fill="#fdae61"/>
<rect x="187.93" y="707.62" width="66.82" height="9.01" fill="#ffffbf"/>
<rect x="254.73" y="707.62" width="22.29" height="9.01" fill="#e0f3f8"/>
<rect x="210.2" y="716.61" width="22.29" height="9.01" fill="#313695"/>
<rect x="232.47" y="716.61" width="22.29" height="9.01" fill="#fdae61"/>
<rect x="254.73" y="716.61" width="22.29" height="9.01" fill="#ffffbf"/>
<rect x="76.6" y="725.61" width="44.55" height="9.01" fill="#fee090"/>
<rect x="121.13" y="725.61" width="22.29" height="9.01" fill="#f46d43"/>
<rect x="143.4" y="725.61" width="22.29" height="9.01" fill="#74add1"/>
<rect x="165.67" y="725.61" width="44.55" height="9.01" fill="#e0f3f8"/>
<rect x="210.2" y="725.61" width="22.29" height="9.01" fill="#fee090"/>
<rect x="232.47" y="725.61" width="22.29" height="9.01" fill="#4575b4"/>
<rect x="254.73" y="725.61" width="22.29" height="9.01" fill="#ffffbf"/>
<path d="M76.6 581.7V734.6M98.87 581.7V734.6M121.13 581.7V734.6M143.4 581.7V734.6M165.67 581.7V734.6M187.93 581.7V734.6M210.2 581.7V734.6M232.47 581.7V734.6M254.73 581.7V734.6M277 581.7V734.6M76.6 581.7H277M76.6 590.69H277M76.6 599.69H277M76.6 608.68H277M76.6 617.68H277M76.6 626.67H277M76.6 635.66H277M76.6 644.66H277M76.6 653.65H277M76.6 662.65H277M76.6 671.64H277M76.6 680.64H277M76.6 689.63H277M76.6 698.62H277M76.6 707.62H277M76.6 716.61H277M76.6 725.61H277M76.6 734.6H277" stroke="#000" stroke-opacity="0.6" stroke-width="0.55" fill="none"/>
</g>
<text x="73.6" y="588.27" font-size="5.75" text-anchor="end" font-weight="normal" stroke="#111" stroke-width="0.16" >STCase (Stringent)</text>
<text x="73.6" y="597.26" font-size="5.75" text-anchor="end" font-weight="normal" stroke="#111" stroke-width="0.16" >CellChat v2</text>
<text x="73.6" y="606.26" font-size="5.75" text-anchor="end" font-weight="normal" stroke="#111" stroke-width="0.16" >Over five overlapping</text>
<text x="73.6" y="615.25" font-size="5.75" text-anchor="end" font-weight="normal" stroke="#111" stroke-width="0.16" >CellphoneDB v5</text>
<text x="73.6" y="624.24" font-size="5.75" text-anchor="end" font-weight="normal" stroke="#111" stroke-width="0.16" >Over four overlapping</text>
<text x="73.6" y="633.24" font-size="5.75" text-anchor="end" font-weight="normal" stroke="#111" stroke-width="0.16" >STCase (Non-Stringent)</text>
<text x="73.6" y="642.23" font-size="5.75" text-anchor="end" font-weight="normal" stroke="#111" stroke-width="0.16" >SpaTalk (downstream)</text>
<text x="73.6" y="651.23" font-size="5.75" text-anchor="end" font-weight="normal" stroke="#111" stroke-width="0.16" >COMMOT</text>
<text x="73.6" y="660.22" font-size="5.75" text-anchor="end" font-weight="normal" stroke="#111" stroke-width="0.16" >Over three overlapping</text>
<text x="73.6" y="669.21" font-size="5.75" text-anchor="end" font-weight="normal" stroke="#111" stroke-width="0.16" >SpaTalk</text>
<text x="73.6" y="678.21" font-size="5.75" text-anchor="end" font-weight="normal" stroke="#111" stroke-width="0.16" >stLearn</text>
<text x="73.6" y="687.2" font-size="5.75" text-anchor="end" font-weight="normal" stroke="#111" stroke-width="0.16" >HoloNet</text>
<text x="73.6" y="696.2" font-size="5.75" text-anchor="end" font-weight="normal" stroke="#111" stroke-width="0.16" >Over two overlapping</text>
<text x="73.6" y="705.19" font-size="5.75" text-anchor="end" font-weight="normal" stroke="#111" stroke-width="0.16" >ICELLNET v2</text>
<text x="73.6" y="714.18" font-size="5.75" text-anchor="end" font-weight="normal" stroke="#111" stroke-width="0.16" >SpatialDM</text>
<text x="73.6" y="723.18" font-size="5.75" text-anchor="end" font-weight="normal" stroke="#111" stroke-width="0.16" >Giotto</text>
<text x="73.6" y="732.17" font-size="5.75" text-anchor="end" font-weight="normal" stroke="#111" stroke-width="0.16" >NicheNet</text>
<path d="M74.6 586.2H76.4M74.6 595.19H76.4M74.6 604.19H76.4M74.6 613.18H76.4M74.6 622.17H76.4M74.6 631.17H76.4M74.6 640.16H76.4M74.6 649.16H76.4M74.6 658.15H76.4M74.6 667.14H76.4M74.6 676.14H76.4M74.6 685.13H76.4M74.6 694.13H76.4M74.6 703.12H76.4M74.6 712.11H76.4M74.6 721.11H76.4M74.6 730.1H76.4" stroke="#111" stroke-width="0.85"/>
<text x="136.2" y="537.4" font-size="9.2" text-anchor="start" font-weight="normal" stroke="#111" stroke-width="0.16" >Human Lung ST Dataset &amp; CellChatDB</text>
<text x="11.4" y="654.8" font-size="8.0" text-anchor="middle" font-weight="normal" stroke="#111" stroke-width="0.16" transform="rotate(-90 11.4 654.8)">Methods</text>
<text x="176.8" y="748.5" font-size="8" text-anchor="middle" font-weight="normal" stroke="#111" stroke-width="0.16" >Cell type pairs</text>
<path d="M110 581.7V579H132.27V581.7M176.8 581.7V577.4H199.07V581.7M154.53 581.7V575.5H187.93V577.4M121.13 579V573.5H171.23V575.5M87.73 581.7V556.8H146.18V573.5M243.6 581.7V574.5H265.87V581.7M221.33 581.7V554.3H254.73V574.5M116.96 556.8V545.6H238.03V554.3" stroke="#3a3a3a" stroke-width="0.65" fill="none"/>
<defs><linearGradient id="gc" x1="0" x2="1" y1="0" y2="0">
<stop offset="0" stop-color="#b3192d"/>
<stop offset="0.1" stop-color="#d73027"/>
<stop offset="0.2" stop-color="#f46d43"/>
<stop offset="0.3" stop-color="#fdae61"/>
<stop offset="0.4" stop-color="#fee090"/>
<stop offset="0.5" stop-color="#ffffbf"/>
<stop offset="0.6" stop-color="#e0f3f8"/>
<stop offset="0.7" stop-color="#abd9e9"/>
<stop offset="0.8" stop-color="#74add1"/>
<stop offset="0.9" stop-color="#4575b4"/>
<stop offset="1" stop-color="#313695"/>
</linearGradient></defs>
<rect x="300.2" y="557" width="63.5" height="7.3" fill="url(#gc)"/>
<text x="331.95" y="552" font-size="5.75" text-anchor="middle" font-weight="normal" stroke="#111" stroke-width="0.16" >False-positive rate</text>
<text x="301.6" y="570.8" font-size="5.8" text-anchor="middle" font-weight="normal" stroke="#111" stroke-width="0.16" >0%</text>
<text x="320.55" y="570.8" font-size="5.8" text-anchor="middle" font-weight="normal" stroke="#111" stroke-width="0.16" >20%</text>
<text x="339.5" y="570.8" font-size="5.8" text-anchor="middle" font-weight="normal" stroke="#111" stroke-width="0.16" >40%</text>
<text x="358.45" y="570.8" font-size="5.8" text-anchor="middle" font-weight="normal" stroke="#111" stroke-width="0.16" >60%</text>
<path d="M300.6 563.1V565.1M319.5 563.1V565.1M338.4 563.1V565.1M357.3 563.1V565.1" stroke="#222" stroke-width="0.6"/>
<path d="M280.9 581.2V734.9" stroke="#c8c8c8" stroke-width="0.9"/>
<path d="M279.5 586.8H280.9M279.5 595.76H280.9M279.5 604.72H280.9M279.5 613.68H280.9M279.5 622.64H280.9M279.5 631.6H280.9M279.5 640.56H280.9M279.5 649.52H280.9M279.5 658.48H280.9M279.5 667.44H280.9M279.5 676.4H280.9M279.5 685.36H280.9M279.5 694.32H280.9M279.5 703.28H280.9M279.5 712.24H280.9M279.5 721.2H280.9M279.5 730.16H280.9" stroke="#555" stroke-width="0.6"/>
<path d="M347.5 581.2V734.9" stroke="#999999" stroke-width="0.9"/>
<path d="M346.1 586.8H347.5M346.1 595.76H347.5M346.1 604.72H347.5M346.1 613.68H347.5M346.1 622.64H347.5M346.1 631.6H347.5M346.1 640.56H347.5M346.1 649.52H347.5M346.1 658.48H347.5M346.1 667.44H347.5M346.1 676.4H347.5M346.1 685.36H347.5M346.1 694.32H347.5M346.1 703.28H347.5M346.1 712.24H347.5M346.1 721.2H347.5M346.1 730.16H347.5" stroke="#555" stroke-width="0.6"/>
<path d="M281 734.9H341M347.7 734.9H408" stroke="#444" stroke-width="0.6"/>
<path d="M284.2 734.9V736.4M301.23 734.9V736.4M318.26 734.9V736.4M335.29 734.9V736.4" stroke="#444" stroke-width="0.5"/>
<text x="284.2" y="745.8" font-size="6.1" text-anchor="middle" font-weight="normal" stroke="#111" stroke-width="0.16" >0%</text>
<text x="301.23" y="745.8" font-size="6.1" text-anchor="middle" font-weight="normal" stroke="#111" stroke-width="0.16" >20%</text>
<text x="318.26" y="745.8" font-size="6.1" text-anchor="middle" font-weight="normal" stroke="#111" stroke-width="0.16" >40%</text>
<text x="335.29" y="745.8" font-size="6.1" text-anchor="middle" font-weight="normal" stroke="#111" stroke-width="0.16" >60%</text>
<path d="M350.4 734.9V736.4M366.8 734.9V736.4M383.2 734.9V736.4M399.6 734.9V736.4" stroke="#444" stroke-width="0.5"/>
<text x="350.4" y="745.8" font-size="6.1" text-anchor="middle" font-weight="normal" stroke="#111" stroke-width="0.16" >0</text>
<text x="366.8" y="745.8" font-size="6.1" text-anchor="middle" font-weight="normal" stroke="#111" stroke-width="0.16" >200</text>
<text x="383.2" y="745.8" font-size="6.1" text-anchor="middle" font-weight="normal" stroke="#111" stroke-width="0.16" >400</text>
<text x="399.6" y="745.8" font-size="6.1" text-anchor="middle" font-weight="normal" stroke="#111" stroke-width="0.16" >600</text>
<text x="308.1" y="755.3" font-size="7.0" text-anchor="middle" font-weight="normal" stroke="#111" stroke-width="0.16" >False-positive rate</text>
<text x="342.3" y="755.3" font-size="7.0" text-anchor="start" font-weight="normal" stroke="#111" stroke-width="0.16" >Accurate</text>
<text x="372.9" y="755.3" font-size="7.0" text-anchor="start" font-weight="normal" stroke="#111" stroke-width="0.16" >CCC events number</text>
<circle cx="284.2" cy="586.8" r="0.85" fill="#111"/>
<path d="M284.2 592.46V599.06" stroke="#888" stroke-width="0.6" stroke-dasharray="1.2 0.6"/>
<path d="M284.2 601.42V608.02" stroke="#888" stroke-width="0.6" stroke-dasharray="1.2 0.6"/>
<circle cx="284.9" cy="613.68" r="0.85" fill="#111"/>
<circle cx="284.5" cy="622.64" r="0.85" fill="#111"/>
<circle cx="284.5" cy="631.6" r="0.85" fill="#111"/>
<rect x="283.8" y="637.16" width="2.2" height="6.8" fill="#6a3db8" stroke="#442777" stroke-width="0.45"/>
<path d="M284.5 637.16V643.96" stroke="#351e5c" stroke-width="0.6"/>
<circle cx="289.3" cy="640.56" r="0.85" fill="#111"/>
<path d="M284.2 649.52H287.8" stroke="#9a9a9a" stroke-width="0.6"/>
<rect x="284.2" y="646.12" width="2.9" height="6.8" fill="#4cb04a" stroke="#317230" stroke-width="0.45"/>
<path d="M285.5 646.12V652.92" stroke="#265825" stroke-width="0.6"/>
<rect x="284.2" y="655.08" width="2.2" height="6.8" fill="#6baed6" stroke="#45718b" stroke-width="0.45"/>
<path d="M285 655.08V661.88" stroke="#35576b" stroke-width="0.6"/>
<path d="M284.2 667.44H289.5" stroke="#9a9a9a" stroke-width="0.6"/>
<rect x="284.9" y="664.04" width="3.7" height="6.8" fill="#9d81d8" stroke="#66538c" stroke-width="0.45"/>
<path d="M286.5 664.04V670.84" stroke="#4e406c" stroke-width="0.6"/>
<circle cx="296.3" cy="667.44" r="0.85" fill="#111"/>
<path d="M284.2 676.4H291" stroke="#9a9a9a" stroke-width="0.6"/>
<rect x="284.2" y="673" width="3.3" height="6.8" fill="#c9aee6" stroke="#827195" stroke-width="0.45"/>
<path d="M285.5 673V679.8" stroke="#645773" stroke-width="0.6"/>
<path d="M284.8 685.36H291.9" stroke="#9a9a9a" stroke-width="0.6"/>
<rect x="286.4" y="681.96" width="5.5" height="6.8" fill="#ee8a98" stroke="#9a5962" stroke-width="0.45"/>
<path d="M289 681.96V688.76" stroke="#77454c" stroke-width="0.6"/>
<path d="M288 694.32H297" stroke="#9a9a9a" stroke-width="0.6"/>
<rect x="290.4" y="690.92" width="4.8" height="6.8" fill="#a6dcee" stroke="#6b8f9a" stroke-width="0.45"/>
<path d="M293 690.92V697.72" stroke="#536e77" stroke-width="0.6"/>
<path d="M293.6 703.28H308.3" stroke="#9a9a9a" stroke-width="0.6"/>
<rect x="295.8" y="699.88" width="7" height="6.8" fill="#a8df8e" stroke="#6d905c" stroke-width="0.45"/>
<path d="M299.6 699.88V706.68" stroke="#546f47" stroke-width="0.6"/>
<path d="M298.5 712.24H324.7" stroke="#9a9a9a" stroke-width="0.6"/>
<rect x="301.7" y="708.84" width="9.9" height="6.8" fill="#5cba9c" stroke="#3b7865" stroke-width="0.45"/>
<path d="M308.3 708.84V715.64" stroke="#2e5d4e" stroke-width="0.6"/>
<path d="M298 721.2H339" stroke="#9a9a9a" stroke-width="0.6"/>
<rect x="303.9" y="717.8" width="20.2" height="6.8" fill="#dca0a6" stroke="#8f686b" stroke-width="0.45"/>
<path d="M309.4 717.8V724.6" stroke="#6e5053" stroke-width="0.6"/>
<path d="M297.4 730.16H331.3" stroke="#9a9a9a" stroke-width="0.6"/>
<rect x="303.9" y="726.76" width="16" height="6.8" fill="#f07d2c" stroke="#9c511c" stroke-width="0.45"/>
<path d="M311.6 726.76V733.56" stroke="#783e16" stroke-width="0.6"/>
<path d="M369.6 586.8H383.4" stroke="#9a9a9a" stroke-width="0.6"/>
<rect x="369.6" y="583.4" width="12.1" height="6.8" fill="#e02a2a" stroke="#911b1b" stroke-width="0.45"/>
<path d="M375 583.4V590.2" stroke="#701515" stroke-width="0.6"/>
<circle cx="350.6" cy="586.8" r="0.85" fill="#111"/>
<path d="M351.5 595.76H377.3" stroke="#9a9a9a" stroke-width="0.6"/>
<rect x="351.5" y="592.36" width="13.1" height="6.8" fill="#3f80c0" stroke="#28537c" stroke-width="0.45"/>
<path d="M359.3 592.36V599.16" stroke="#1f4060" stroke-width="0.6"/>
<path d="M351 604.72H379.5" stroke="#9a9a9a" stroke-width="0.6"/>
<rect x="354.3" y="601.32" width="12" height="6.8" fill="#d4a27e" stroke="#896951" stroke-width="0.45"/>
<path d="M360.9 601.32V608.12" stroke="#6a513f" stroke-width="0.6"/>
<path d="M353.2 613.68H368.5" stroke="#9a9a9a" stroke-width="0.6"/>
<rect x="353.2" y="610.28" width="10.5" height="6.8" fill="#e8956f" stroke="#966048" stroke-width="0.45"/>
<path d="M357.6 610.28V617.08" stroke="#744a37" stroke-width="0.6"/>
<path d="M351 622.64H381.7" stroke="#9a9a9a" stroke-width="0.6"/>
<rect x="365.2" y="619.24" width="9.5" height="6.8" fill="#f7c27e" stroke="#a07e51" stroke-width="0.45"/>
<path d="M369.6 619.24V626.04" stroke="#7b613f" stroke-width="0.6"/>
<circle cx="390" cy="622.64" r="0.85" fill="#111"/>
<path d="M376.2 631.6H394.8" stroke="#9a9a9a" stroke-width="0.6"/>
<rect x="376.2" y="628.2" width="16" height="6.8" fill="#e8606c" stroke="#963e46" stroke-width="0.45"/>
<path d="M387.1 628.2V635" stroke="#743036" stroke-width="0.6"/>
<circle cx="350.6" cy="631.6" r="0.85" fill="#111"/>
<path d="M350.6 640.56H389.3" stroke="#9a9a9a" stroke-width="0.6"/>
<rect x="350.6" y="637.16" width="24.5" height="6.8" fill="#6a3db8" stroke="#442777" stroke-width="0.45"/>
<path d="M362 637.16V643.96" stroke="#351e5c" stroke-width="0.6"/>
<path d="M351 649.52H392.6" stroke="#9a9a9a" stroke-width="0.6"/>
<rect x="355.4" y="646.12" width="15.8" height="6.8" fill="#4cb04a" stroke="#317230" stroke-width="0.45"/>
<path d="M363.7 646.12V652.92" stroke="#265825" stroke-width="0.6"/>
<path d="M369.6 658.48H400.3" stroke="#9a9a9a" stroke-width="0.6"/>
<rect x="375.8" y="655.08" width="9.8" height="6.8" fill="#6baed6" stroke="#45718b" stroke-width="0.45"/>
<path d="M380.6 655.08V661.88" stroke="#35576b" stroke-width="0.6"/>
<circle cx="350.6" cy="658.48" r="0.85" fill="#111"/>
<path d="M351 667.44H405" stroke="#9a9a9a" stroke-width="0.6"/>
<rect x="353.2" y="664.04" width="30.6" height="6.8" fill="#9d81d8" stroke="#66538c" stroke-width="0.45"/>
<path d="M371.8 664.04V670.84" stroke="#4e406c" stroke-width="0.6"/>
<path d="M351 676.4H371.2" stroke="#9a9a9a" stroke-width="0.6"/>
<rect x="358" y="673" width="8.8" height="6.8" fill="#c9aee6" stroke="#827195" stroke-width="0.45"/>
<path d="M365.2 673V679.8" stroke="#645773" stroke-width="0.6"/>
<path d="M369.6 685.36H403.6" stroke="#9a9a9a" stroke-width="0.6"/>
<rect x="374" y="681.96" width="12.5" height="6.8" fill="#ee8a98" stroke="#9a5962" stroke-width="0.45"/>
<path d="M380 681.96V688.76" stroke="#77454c" stroke-width="0.6"/>
<circle cx="350.6" cy="685.36" r="0.85" fill="#111"/>
<path d="M374 694.32H405.3" stroke="#9a9a9a" stroke-width="0.6"/>
<rect x="381.2" y="690.92" width="13.6" height="6.8" fill="#a6dcee" stroke="#6b8f9a" stroke-width="0.45"/>
<path d="M388.2 690.92V697.72" stroke="#536e77" stroke-width="0.6"/>
<circle cx="350.6" cy="694.32" r="0.85" fill="#111"/>
<path d="M372.9 703.28H403.6" stroke="#9a9a9a" stroke-width="0.6"/>
<rect x="380.1" y="699.88" width="14.1" height="6.8" fill="#a8df8e" stroke="#6d905c" stroke-width="0.45"/>
<path d="M387.1 699.88V706.68" stroke="#546f47" stroke-width="0.6"/>
<circle cx="350.6" cy="703.28" r="0.85" fill="#111"/>
<path d="M369.6 712.24H383.4" stroke="#9a9a9a" stroke-width="0.6"/>
<rect x="374" y="708.84" width="6.6" height="6.8" fill="#5cba9c" stroke="#3b7865" stroke-width="0.45"/>
<path d="M377.3 708.84V715.64" stroke="#2e5d4e" stroke-width="0.6"/>
<circle cx="350.6" cy="712.24" r="0.85" fill="#111"/>
<rect x="350.6" y="717.8" width="0.7" height="6.8" fill="#dca0a6" stroke="#8f686b" stroke-width="0.45"/>
<path d="M350.9 717.8V724.6" stroke="#6e5053" stroke-width="0.6"/>
<circle cx="352.8" cy="721.2" r="0.85" fill="#111"/>
<rect x="352.8" y="726.76" width="2.6" height="6.8" fill="#f07d2c" stroke="#9c511c" stroke-width="0.45"/>
<path d="M354 726.76V733.56" stroke="#783e16" stroke-width="0.6"/>
</svg>
</body></html>
